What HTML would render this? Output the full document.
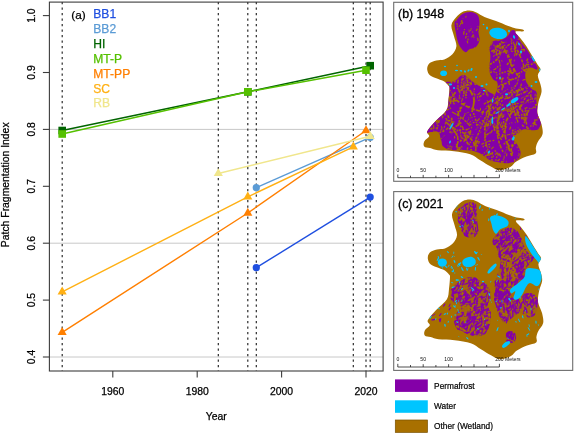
<!DOCTYPE html>
<html><head><meta charset="utf-8"><title>Figure</title><style>html,body{margin:0;padding:0;background:#fff}svg{display:block}</style></head><body>
<svg width="575" height="433" viewBox="0 0 575 433" font-family="'Liberation Sans', Arial, sans-serif">
<rect width="575" height="433" fill="#fff"/>
<line x1="49.4" x2="383.1" y1="357.0" y2="357.0" stroke="#c8c8c8" stroke-width="1"/>
<line x1="49.4" x2="383.1" y1="243.2" y2="243.2" stroke="#c8c8c8" stroke-width="1"/>
<line x1="49.4" x2="383.1" y1="129.4" y2="129.4" stroke="#c8c8c8" stroke-width="1"/>
<line x1="62.2" x2="62.2" y1="2.1" y2="371.0" stroke="#222" stroke-width="1.15" stroke-dasharray="2.2 3.3"/>
<line x1="218.3" x2="218.3" y1="2.1" y2="371.0" stroke="#222" stroke-width="1.15" stroke-dasharray="2.2 3.3"/>
<line x1="247.8" x2="247.8" y1="2.1" y2="371.0" stroke="#222" stroke-width="1.15" stroke-dasharray="2.2 3.3"/>
<line x1="256.3" x2="256.3" y1="2.1" y2="371.0" stroke="#222" stroke-width="1.15" stroke-dasharray="2.2 3.3"/>
<line x1="353.3" x2="353.3" y1="2.1" y2="371.0" stroke="#222" stroke-width="1.15" stroke-dasharray="2.2 3.3"/>
<line x1="366.0" x2="366.0" y1="2.1" y2="371.0" stroke="#222" stroke-width="1.15" stroke-dasharray="2.2 3.3"/>
<line x1="370.2" x2="370.2" y1="2.1" y2="371.0" stroke="#222" stroke-width="1.15" stroke-dasharray="2.2 3.3"/>
<polyline points="256.3,267.7 370.2,197.1" fill="none" stroke="#1f4fe0" stroke-width="1.4"/>
<circle cx="256.3" cy="267.7" r="3.6" fill="#1f4fe0"/>
<circle cx="370.2" cy="197.1" r="3.6" fill="#1f4fe0"/>
<polyline points="256.3,187.7 370.2,137.4" fill="none" stroke="#5b9bd5" stroke-width="1.4"/>
<circle cx="256.3" cy="187.7" r="3.6" fill="#5b9bd5"/>
<circle cx="370.2" cy="137.4" r="3.6" fill="#5b9bd5"/>
<polyline points="62.2,130.5 247.8,91.8 370.2,65.7" fill="none" stroke="#006400" stroke-width="1.4"/>
<rect x="58.4" y="126.7" width="7.6" height="7.6" fill="#006400"/>
<rect x="244.0" y="88.0" width="7.6" height="7.6" fill="#006400"/>
<rect x="366.4" y="61.9" width="7.6" height="7.6" fill="#006400"/>
<polyline points="62.2,134.0 247.8,91.8 366.0,70.2" fill="none" stroke="#55c000" stroke-width="1.4"/>
<rect x="58.4" y="130.2" width="7.6" height="7.6" fill="#55c000"/>
<rect x="244.0" y="88.0" width="7.6" height="7.6" fill="#55c000"/>
<rect x="362.2" y="66.4" width="7.6" height="7.6" fill="#55c000"/>
<polyline points="62.2,332.3 247.8,213.0 366.0,130.5" fill="none" stroke="#ff7f00" stroke-width="1.4"/>
<polygon points="62.2,327.0 66.7,335.0 57.6,335.0" fill="#ff7f00"/>
<polygon points="247.8,207.7 252.4,215.7 243.3,215.7" fill="#ff7f00"/>
<polygon points="366.0,125.2 370.6,133.2 361.4,133.2" fill="#ff7f00"/>
<polyline points="62.2,291.9 247.8,196.8 353.3,146.8" fill="none" stroke="#ffb014" stroke-width="1.4"/>
<polygon points="62.2,286.6 66.7,294.6 57.6,294.6" fill="#ffb014"/>
<polygon points="247.8,191.5 252.4,199.5 243.3,199.5" fill="#ffb014"/>
<polygon points="353.3,141.5 357.9,149.4 348.8,149.4" fill="#ffb014"/>
<polyline points="218.3,173.5 370.2,136.2" fill="none" stroke="#f0e68c" stroke-width="1.4"/>
<polygon points="218.3,168.2 222.9,176.1 213.7,176.1" fill="#f0e68c"/>
<polygon points="370.2,130.9 374.8,138.9 365.6,138.9" fill="#f0e68c"/>
<rect x="49.4" y="2.1" width="333.70000000000005" height="368.9" fill="none" stroke="#3c3c3c" stroke-width="1.1"/>
<line x1="42.9" x2="49.4" y1="357.0" y2="357.0" stroke="#3c3c3c" stroke-width="1.1"/>
<text transform="translate(34.7,357.0) rotate(-90)" text-anchor="middle" font-size="10.4" fill="#000" stroke="#000" stroke-width="0.25">0.4</text>
<line x1="42.9" x2="49.4" y1="300.1" y2="300.1" stroke="#3c3c3c" stroke-width="1.1"/>
<text transform="translate(34.7,300.1) rotate(-90)" text-anchor="middle" font-size="10.4" fill="#000" stroke="#000" stroke-width="0.25">0.5</text>
<line x1="42.9" x2="49.4" y1="243.2" y2="243.2" stroke="#3c3c3c" stroke-width="1.1"/>
<text transform="translate(34.7,243.2) rotate(-90)" text-anchor="middle" font-size="10.4" fill="#000" stroke="#000" stroke-width="0.25">0.6</text>
<line x1="42.9" x2="49.4" y1="186.3" y2="186.3" stroke="#3c3c3c" stroke-width="1.1"/>
<text transform="translate(34.7,186.3) rotate(-90)" text-anchor="middle" font-size="10.4" fill="#000" stroke="#000" stroke-width="0.25">0.7</text>
<line x1="42.9" x2="49.4" y1="129.4" y2="129.4" stroke="#3c3c3c" stroke-width="1.1"/>
<text transform="translate(34.7,129.4) rotate(-90)" text-anchor="middle" font-size="10.4" fill="#000" stroke="#000" stroke-width="0.25">0.8</text>
<line x1="42.9" x2="49.4" y1="72.5" y2="72.5" stroke="#3c3c3c" stroke-width="1.1"/>
<text transform="translate(34.7,72.5) rotate(-90)" text-anchor="middle" font-size="10.4" fill="#000" stroke="#000" stroke-width="0.25">0.9</text>
<line x1="42.9" x2="49.4" y1="15.6" y2="15.6" stroke="#3c3c3c" stroke-width="1.1"/>
<text transform="translate(34.7,15.6) rotate(-90)" text-anchor="middle" font-size="10.4" fill="#000" stroke="#000" stroke-width="0.25">1.0</text>
<line x1="112.8" x2="112.8" y1="371.0" y2="377.5" stroke="#3c3c3c" stroke-width="1.1"/>
<text x="112.8" y="394.7" text-anchor="middle" font-size="10.4" fill="#000" stroke="#000" stroke-width="0.25">1960</text>
<line x1="197.2" x2="197.2" y1="371.0" y2="377.5" stroke="#3c3c3c" stroke-width="1.1"/>
<text x="197.2" y="394.7" text-anchor="middle" font-size="10.4" fill="#000" stroke="#000" stroke-width="0.25">1980</text>
<line x1="281.6" x2="281.6" y1="371.0" y2="377.5" stroke="#3c3c3c" stroke-width="1.1"/>
<text x="281.6" y="394.7" text-anchor="middle" font-size="10.4" fill="#000" stroke="#000" stroke-width="0.25">2000</text>
<line x1="366.0" x2="366.0" y1="371.0" y2="377.5" stroke="#3c3c3c" stroke-width="1.1"/>
<text x="366.0" y="394.7" text-anchor="middle" font-size="10.4" fill="#000" stroke="#000" stroke-width="0.25">2020</text>
<text x="216.3" y="419.5" text-anchor="middle" font-size="10.4" fill="#000" stroke="#000" stroke-width="0.25">Year</text>
<text transform="translate(8.5,184.8) rotate(-90)" text-anchor="middle" font-size="10.4" fill="#000" stroke="#000" stroke-width="0.25">Patch Fragmentation Index</text>
<text x="71.3" y="18.8" font-size="11.8" fill="#000" stroke="#000" stroke-width="0.25">(a)</text>
<text x="93.3" y="18.3" font-size="12.1" fill="#1f4fe0" stroke="#1f4fe0" stroke-width="0.25">BB1</text>
<text x="93.3" y="33.1" font-size="12.1" fill="#5b9bd5" stroke="#5b9bd5" stroke-width="0.25">BB2</text>
<text x="93.3" y="48.0" font-size="12.1" fill="#006400" stroke="#006400" stroke-width="0.25">HI</text>
<text x="93.3" y="62.8" font-size="12.1" fill="#55c000" stroke="#55c000" stroke-width="0.25">MT-P</text>
<text x="93.3" y="77.7" font-size="12.1" fill="#ff7f00" stroke="#ff7f00" stroke-width="0.25">MT-PP</text>
<text x="93.3" y="92.5" font-size="12.1" fill="#ffb014" stroke="#ffb014" stroke-width="0.25">SC</text>
<text x="93.3" y="107.4" font-size="12.1" fill="#f0e68c" stroke="#f0e68c" stroke-width="0.25">RB</text>
<defs>
<path id="ol" d="M469.5,10.5C471.9,10.6 474.0,11.4 476.5,12.5C479.0,13.6 481.2,15.6 484.5,17.0C487.8,18.4 492.0,19.5 496.0,21.0C500.0,22.5 505.0,24.7 508.3,26.0C511.6,27.3 513.6,28.0 516.0,28.6C518.4,29.2 521.4,29.2 522.6,29.6C523.8,30.1 524.6,30.9 523.4,31.3C522.2,31.7 515.8,30.6 515.3,31.8C514.8,33.0 518.5,35.8 520.4,38.2C522.2,40.6 524.4,43.3 526.4,46.3C528.4,49.3 530.5,53.3 532.4,56.3C534.2,59.3 536.1,62.2 537.5,64.4C538.9,66.6 540.5,67.6 540.5,69.4C540.5,71.2 537.8,73.0 537.8,75.5C537.8,78.0 539.9,81.8 540.5,84.5C541.1,87.2 541.8,89.1 541.5,92.0C541.2,94.9 539.2,98.5 538.5,102.0C537.8,105.5 537.0,109.5 537.5,113.2C538.0,116.9 540.7,120.8 541.5,124.3C542.3,127.8 543.2,131.3 542.5,134.3C541.8,137.3 538.6,140.1 537.5,142.4C536.4,144.7 536.1,146.2 535.8,148.0C535.5,149.8 537.2,152.1 535.6,153.5C534.0,154.9 529.6,155.2 526.4,156.5C523.2,157.8 519.0,159.8 516.3,161.5C513.6,163.2 513.2,165.5 510.3,167.0C507.4,168.5 502.3,170.4 499.0,170.3C495.7,170.2 493.5,168.0 490.4,166.3C487.3,164.6 483.7,162.2 480.3,160.2C476.9,158.2 474.6,155.7 470.2,154.2C465.8,152.7 459.4,151.9 454.0,151.2C448.6,150.5 442.0,150.7 438.0,150.2C434.0,149.7 432.3,148.6 430.0,148.0C427.7,147.4 425.2,147.5 424.2,146.4C423.2,145.3 423.4,143.1 424.2,141.4C425.0,139.7 428.7,138.0 429.2,136.3C429.7,134.6 426.0,134.0 427.2,131.3C428.4,128.6 433.1,123.7 436.3,120.2C439.5,116.7 444.3,113.6 446.3,110.2C448.3,106.8 447.9,103.7 448.4,100.0C448.9,96.3 449.4,90.4 449.4,88.0C449.4,85.6 449.2,86.6 448.4,85.5C447.5,84.4 446.0,82.6 444.3,81.5C442.6,80.4 440.7,79.9 438.3,78.9C435.9,77.9 432.1,77.1 430.2,75.5C428.3,73.9 427.4,71.4 427.2,69.4C427.0,67.4 427.7,64.9 429.2,63.4C430.7,61.9 433.8,61.1 436.3,60.4C438.8,59.7 441.6,60.4 444.3,59.4C447.0,58.4 450.4,56.5 452.4,54.3C454.4,52.1 456.1,49.3 456.4,46.3C456.7,43.3 454.8,39.7 454.0,36.2C453.2,32.7 451.0,28.4 451.4,25.2C451.8,22.0 454.6,19.3 456.4,17.1C458.2,14.9 460.2,13.1 462.4,12.0C464.6,10.9 467.1,10.4 469.5,10.5Z"/>
<clipPath id="cpo"><use href="#ol"/></clipPath>
<clipPath id="cpbA"><path d="M457.4,19.1C458.7,17.6 460.2,15.3 462.4,14.1C464.6,12.9 468.0,11.9 470.5,12.1C473.0,12.3 476.0,13.4 477.5,15.1C479.0,16.8 479.3,19.2 479.5,22.1C479.7,25.0 478.5,29.2 478.5,32.2C478.5,35.2 480.0,37.7 479.5,40.2C479.0,42.7 477.2,45.8 475.5,47.3C473.8,48.8 471.2,48.5 469.5,49.3C467.8,50.1 467.0,52.6 465.5,52.3C464.0,52.0 461.8,49.3 460.4,47.3C459.0,45.3 458.2,43.1 457.4,40.2C456.6,37.4 455.9,33.0 455.4,30.2C454.9,27.3 454.1,25.0 454.4,23.1C454.7,21.2 456.1,20.6 457.4,19.1Z"/></clipPath>
<clipPath id="cpbM"><path d="M446.2,82.2C447.5,80.4 449.9,83.1 454.2,81.2C458.5,79.3 458.5,76.0 462.3,75.2C466.1,74.4 464.6,75.8 468.3,78.2C472.0,80.6 472.0,81.5 476.3,84.2C480.6,86.9 480.4,85.9 484.4,88.3C488.4,90.7 488.4,92.0 491.4,93.3C494.4,94.6 493.9,96.0 495.5,93.3C497.1,90.6 498.3,87.2 497.5,83.2C496.7,79.2 494.6,82.0 492.4,78.2C490.2,74.4 489.9,74.8 489.4,69.1C488.9,63.4 490.4,62.4 490.4,57.0C490.4,51.6 489.5,51.9 489.4,49.0C489.3,46.1 489.2,48.4 490.2,46.3C491.2,44.2 490.5,42.8 493.2,41.2C495.9,39.6 496.4,41.5 500.2,40.2C504.0,38.9 504.1,38.9 507.3,36.2C510.5,33.5 509.7,30.8 512.3,30.2C514.9,29.6 514.8,31.0 517.0,34.0C519.2,37.0 518.0,37.5 520.5,41.5C523.0,45.5 523.6,44.9 526.5,49.0C529.4,53.1 529.1,53.1 531.5,57.0C533.9,60.9 534.0,60.2 535.5,63.5C537.0,66.8 538.4,68.4 537.0,69.4C535.6,70.4 533.2,67.1 530.4,67.4C527.6,67.7 527.7,67.7 526.4,70.4C525.1,73.1 525.1,73.9 525.4,77.5C525.7,81.1 525.7,80.9 527.5,84.0C529.3,87.1 529.6,86.7 532.0,89.0C534.4,91.3 535.4,89.6 536.5,92.5C537.6,95.4 536.0,96.3 536.3,100.0C536.6,103.7 537.2,102.7 537.5,106.2C537.8,109.7 536.7,109.5 537.5,113.2C538.3,116.9 540.0,116.4 540.5,120.2C541.0,124.0 541.1,124.6 539.5,127.3C537.9,130.0 538.4,129.8 534.4,130.3C530.4,130.8 528.7,128.5 524.4,129.3C520.1,130.1 521.3,130.9 518.3,133.3C515.3,135.7 513.3,134.8 513.3,138.3C513.3,141.8 516.4,142.1 518.3,146.4C520.2,150.7 520.9,150.6 520.4,154.4C519.9,158.2 518.7,158.3 516.3,160.5C513.9,162.7 513.9,161.8 511.3,162.5C508.7,163.2 509.9,163.4 506.5,163.3C503.1,163.2 502.7,163.1 498.4,162.3C494.1,161.5 494.2,161.8 490.4,160.2C486.6,158.6 487.8,158.3 484.3,156.2C480.8,154.1 482.1,153.8 477.3,152.2C472.5,150.6 472.4,150.7 466.2,150.2C460.0,149.7 460.0,151.0 454.1,150.2C448.2,149.4 447.6,149.9 444.1,147.2C440.6,144.5 442.7,144.1 441.1,140.1C439.5,136.1 440.7,134.2 438.0,132.1C435.3,130.0 433.9,132.3 431.0,132.1C428.1,131.9 425.8,134.5 427.2,131.3C428.6,128.1 431.2,125.8 436.3,120.2C441.4,114.6 443.1,115.6 446.3,110.2C449.5,104.8 447.6,105.9 448.4,100.0C449.2,94.1 450.0,92.7 449.4,88.0C448.8,83.3 444.9,84.0 446.2,82.2Z"/></clipPath>
<clipPath id="cpoc"><path d="M469.5,10.5C471.9,10.6 474.0,11.4 476.5,12.5C479.0,13.6 481.2,15.6 484.5,17.0C487.8,18.4 492.0,19.5 496.0,21.0C500.0,22.5 505.0,24.7 508.3,26.0C511.6,27.3 513.6,28.0 516.0,28.6C518.4,29.2 521.4,29.2 522.6,29.6C523.8,30.1 524.6,30.9 523.4,31.3C522.2,31.7 515.8,30.6 515.3,31.8C514.8,33.0 518.5,35.8 520.4,38.2C522.2,40.6 524.4,43.3 526.4,46.3C528.4,49.3 530.5,53.3 532.4,56.3C534.2,59.3 536.1,62.2 537.5,64.4C538.9,66.6 540.5,67.6 540.5,69.4C540.5,71.2 537.8,73.0 537.8,75.5C537.8,78.0 539.9,81.8 540.5,84.5C541.1,87.2 541.8,89.1 541.5,92.0C541.2,94.9 539.2,98.5 538.5,102.0C537.8,105.5 537.0,109.5 537.5,113.2C538.0,116.9 540.7,120.8 541.5,124.3C542.3,127.8 543.2,131.3 542.5,134.3C541.8,137.3 538.6,140.1 537.5,142.4C536.4,144.7 536.1,146.2 535.8,148.0C535.5,149.8 537.2,152.1 535.6,153.5C534.0,154.9 529.6,155.2 526.4,156.5C523.2,157.8 519.0,159.8 516.3,161.5C513.6,163.2 513.2,165.5 510.3,167.0C507.4,168.5 502.3,170.4 499.0,170.3C495.7,170.2 493.5,168.0 490.4,166.3C487.3,164.6 483.7,162.2 480.3,160.2C476.9,158.2 474.6,155.7 470.2,154.2C465.8,152.7 459.4,151.9 454.0,151.2C448.6,150.5 442.0,150.7 438.0,150.2C434.0,149.7 432.3,148.6 430.0,148.0C427.7,147.4 425.2,147.5 424.2,146.4C423.2,145.3 423.4,143.1 424.2,141.4C425.0,139.7 428.7,138.0 429.2,136.3C429.7,134.6 426.0,134.0 427.2,131.3C428.4,128.6 433.1,123.7 436.3,120.2C439.5,116.7 444.3,113.6 446.3,110.2C448.3,106.8 447.9,103.7 448.4,100.0C448.9,96.3 449.4,90.4 449.4,88.0C449.4,85.6 449.2,86.6 448.4,85.5C447.5,84.4 446.0,82.6 444.3,81.5C442.6,80.4 440.7,79.9 438.3,78.9C435.9,77.9 432.1,77.1 430.2,75.5C428.3,73.9 427.4,71.4 427.2,69.4C427.0,67.4 427.7,64.9 429.2,63.4C430.7,61.9 433.8,61.1 436.3,60.4C438.8,59.7 441.6,60.4 444.3,59.4C447.0,58.4 450.4,56.5 452.4,54.3C454.4,52.1 456.1,49.3 456.4,46.3C456.7,43.3 454.8,39.7 454.0,36.2C453.2,32.7 451.0,28.4 451.4,25.2C451.8,22.0 454.6,19.3 456.4,17.1C458.2,14.9 460.2,13.1 462.4,12.0C464.6,10.9 467.1,10.4 469.5,10.5Z" transform="translate(0.6,189)"/></clipPath>
</defs>
<rect x="393.7" y="2.3" width="179" height="179" fill="#fff" stroke="#6e6e6e" stroke-width="1.1"/>
<use href="#ol" fill="#A87000"/>
<g clip-path="url(#cpo)">
<path d="M457.4,19.1C458.7,17.6 460.2,15.3 462.4,14.1C464.6,12.9 468.0,11.9 470.5,12.1C473.0,12.3 476.0,13.4 477.5,15.1C479.0,16.8 479.3,19.2 479.5,22.1C479.7,25.0 478.5,29.2 478.5,32.2C478.5,35.2 480.0,37.7 479.5,40.2C479.0,42.7 477.2,45.8 475.5,47.3C473.8,48.8 471.2,48.5 469.5,49.3C467.8,50.1 467.0,52.6 465.5,52.3C464.0,52.0 461.8,49.3 460.4,47.3C459.0,45.3 458.2,43.1 457.4,40.2C456.6,37.4 455.9,33.0 455.4,30.2C454.9,27.3 454.1,25.0 454.4,23.1C454.7,21.2 456.1,20.6 457.4,19.1Z" fill="#8400A8"/>
<path d="M446.2,82.2C447.5,80.4 449.9,83.1 454.2,81.2C458.5,79.3 458.5,76.0 462.3,75.2C466.1,74.4 464.6,75.8 468.3,78.2C472.0,80.6 472.0,81.5 476.3,84.2C480.6,86.9 480.4,85.9 484.4,88.3C488.4,90.7 488.4,92.0 491.4,93.3C494.4,94.6 493.9,96.0 495.5,93.3C497.1,90.6 498.3,87.2 497.5,83.2C496.7,79.2 494.6,82.0 492.4,78.2C490.2,74.4 489.9,74.8 489.4,69.1C488.9,63.4 490.4,62.4 490.4,57.0C490.4,51.6 489.5,51.9 489.4,49.0C489.3,46.1 489.2,48.4 490.2,46.3C491.2,44.2 490.5,42.8 493.2,41.2C495.9,39.6 496.4,41.5 500.2,40.2C504.0,38.9 504.1,38.9 507.3,36.2C510.5,33.5 509.7,30.8 512.3,30.2C514.9,29.6 514.8,31.0 517.0,34.0C519.2,37.0 518.0,37.5 520.5,41.5C523.0,45.5 523.6,44.9 526.5,49.0C529.4,53.1 529.1,53.1 531.5,57.0C533.9,60.9 534.0,60.2 535.5,63.5C537.0,66.8 538.4,68.4 537.0,69.4C535.6,70.4 533.2,67.1 530.4,67.4C527.6,67.7 527.7,67.7 526.4,70.4C525.1,73.1 525.1,73.9 525.4,77.5C525.7,81.1 525.7,80.9 527.5,84.0C529.3,87.1 529.6,86.7 532.0,89.0C534.4,91.3 535.4,89.6 536.5,92.5C537.6,95.4 536.0,96.3 536.3,100.0C536.6,103.7 537.2,102.7 537.5,106.2C537.8,109.7 536.7,109.5 537.5,113.2C538.3,116.9 540.0,116.4 540.5,120.2C541.0,124.0 541.1,124.6 539.5,127.3C537.9,130.0 538.4,129.8 534.4,130.3C530.4,130.8 528.7,128.5 524.4,129.3C520.1,130.1 521.3,130.9 518.3,133.3C515.3,135.7 513.3,134.8 513.3,138.3C513.3,141.8 516.4,142.1 518.3,146.4C520.2,150.7 520.9,150.6 520.4,154.4C519.9,158.2 518.7,158.3 516.3,160.5C513.9,162.7 513.9,161.8 511.3,162.5C508.7,163.2 509.9,163.4 506.5,163.3C503.1,163.2 502.7,163.1 498.4,162.3C494.1,161.5 494.2,161.8 490.4,160.2C486.6,158.6 487.8,158.3 484.3,156.2C480.8,154.1 482.1,153.8 477.3,152.2C472.5,150.6 472.4,150.7 466.2,150.2C460.0,149.7 460.0,151.0 454.1,150.2C448.2,149.4 447.6,149.9 444.1,147.2C440.6,144.5 442.7,144.1 441.1,140.1C439.5,136.1 440.7,134.2 438.0,132.1C435.3,130.0 433.9,132.3 431.0,132.1C428.1,131.9 425.8,134.5 427.2,131.3C428.6,128.1 431.2,125.8 436.3,120.2C441.4,114.6 443.1,115.6 446.3,110.2C449.5,104.8 447.6,105.9 448.4,100.0C449.2,94.1 450.0,92.7 449.4,88.0C448.8,83.3 444.9,84.0 446.2,82.2Z" fill="#8400A8"/>
<g clip-path="url(#cpbA)">
<g fill="none" stroke="#A87000"><path d="M465.6,38.5Q466.3,35.3 467.0,32.0" stroke-width="1.20" stroke-dasharray="2.8 0.9 1.7 1.5"/><path d="M457.5,26.7Q457.1,25.6 457.2,24.3" stroke-width="1.07" stroke-dasharray="1.3 1.8 2.4 1.6"/><path d="M457.6,16.4Q459.5,15.0 460.3,12.7" stroke-width="1.24" stroke-dasharray="1.9 0.7 1.6 1.3"/><path d="M468.0,40.6Q468.1,38.3 468.0,36.1" stroke-width="1.14" stroke-dasharray="2.0 1.8 2.5 1.8"/><path d="M461.9,24.1Q462.5,22.5 463.9,21.3" stroke-width="1.24" stroke-dasharray="2.3 1.6 1.5 1.9"/><path d="M454.3,25.2Q453.5,21.6 455.7,18.8" stroke-width="0.82" stroke-dasharray="2.3 0.8 1.9 1.7"/><path d="M457.5,30.0Q458.5,26.5 456.9,23.2" stroke-width="0.76" stroke-dasharray="1.9 0.8 0.9 1.7"/><path d="M469.1,32.5Q469.5,31.0 468.9,29.5" stroke-width="0.82" stroke-dasharray="3.0 0.8 1.5 1.0"/><path d="M479.7,46.2Q479.8,44.4 478.9,42.8" stroke-width="1.34" stroke-dasharray="2.3 1.6 1.9 0.8"/><path d="M459.3,26.6Q460.9,24.0 461.3,21.1" stroke-width="1.06" stroke-dasharray="1.4 0.8 1.8 1.0"/><path d="M463.6,34.6Q464.0,31.2 464.9,27.9" stroke-width="1.22" stroke-dasharray="3.6 0.9 1.1 1.9"/><path d="M462.0,23.9Q462.1,21.0 460.4,18.5" stroke-width="0.70" stroke-dasharray="3.9 1.7 1.8 1.2"/><path d="M456.0,52.2Q456.4,50.6 455.9,49.0" stroke-width="1.15" stroke-dasharray="3.5 1.4 1.3 0.9"/><path d="M457.2,25.0Q456.5,22.7 456.3,20.3" stroke-width="0.82" stroke-dasharray="2.0 1.7 1.1 0.7"/><path d="M465.7,17.7Q466.0,16.3 466.6,14.9" stroke-width="1.10" stroke-dasharray="1.6 1.1 2.3 2.0"/><path d="M471.5,37.3Q472.8,36.6 473.1,35.1" stroke-width="1.09" stroke-dasharray="3.7 1.5 2.4 0.7"/><path d="M467.7,43.4Q467.8,41.5 466.4,40.1" stroke-width="1.14" stroke-dasharray="2.7 1.5 2.3 1.7"/><path d="M474.9,50.6Q474.1,48.8 474.8,46.9" stroke-width="1.04" stroke-dasharray="3.6 1.2 2.1 1.8"/><path d="M470.5,31.0Q471.7,28.6 470.8,26.1" stroke-width="0.91" stroke-dasharray="3.0 1.8 2.3 1.6"/><path d="M473.8,38.1Q474.2,35.9 473.0,34.0" stroke-width="0.80" stroke-dasharray="3.3 0.7 1.8 1.3"/><path d="M473.1,35.3Q473.1,32.7 471.8,30.4" stroke-width="0.75" stroke-dasharray="1.2 1.0 2.0 1.0"/><path d="M478.1,41.1Q478.0,39.0 477.2,37.0" stroke-width="1.29" stroke-dasharray="3.1 0.9 1.5 1.7"/><path d="M476.1,30.9Q477.8,28.9 477.9,26.3" stroke-width="1.31" stroke-dasharray="2.6 1.6 2.2 1.6"/><path d="M461.1,22.4Q462.5,20.7 462.8,18.5" stroke-width="1.23" stroke-dasharray="2.4 1.4 1.6 1.1"/><path d="M478.8,32.1Q479.2,30.9 480.3,30.3" stroke-width="1.20" stroke-dasharray="1.3 1.5 1.8 1.1"/><path d="M454.1,20.8Q454.9,18.7 456.8,17.5" stroke-width="0.95" stroke-dasharray="1.9 0.9 0.9 1.5"/></g>
</g>
<g clip-path="url(#cpbM)">
<g fill="none" stroke="#A87000"><path d="M501.8,128.0Q498.7,122.2 497.8,115.7" stroke-width="1.24" stroke-dasharray="1.8 1.2 1.1 0.7"/><path d="M507.0,64.9Q508.9,61.9 511.8,59.8" stroke-width="1.53" stroke-dasharray="2.7 1.4 2.1 1.2"/><path d="M530.6,58.0Q533.9,51.2 532.0,43.8" stroke-width="1.33" stroke-dasharray="2.5 1.4 2.3 1.2"/><path d="M524.5,145.7Q527.3,139.0 532.0,133.5" stroke-width="1.47" stroke-dasharray="1.8 1.5 2.2 1.5"/><path d="M454.8,159.5Q452.1,152.6 449.8,145.5" stroke-width="1.13" stroke-dasharray="3.4 1.1 2.3 1.8"/><path d="M437.3,100.1Q437.5,95.1 437.5,90.1" stroke-width="0.96" stroke-dasharray="1.3 1.6 0.9 1.7"/><path d="M463.7,139.7Q466.2,138.4 468.7,137.2" stroke-width="1.26" stroke-dasharray="3.2 1.6 2.0 1.9"/><path d="M534.8,53.7Q536.8,51.0 537.6,47.8" stroke-width="1.32" stroke-dasharray="3.2 1.4 1.7 1.8"/><path d="M464.9,94.2Q465.4,87.2 462.1,81.1" stroke-width="0.99" stroke-dasharray="3.6 1.8 1.7 1.4"/><path d="M483.9,104.3Q488.5,100.5 494.2,101.5" stroke-width="1.26" stroke-dasharray="2.6 1.1 2.2 1.4"/><path d="M503.8,52.2Q505.0,46.9 509.7,44.3" stroke-width="1.20" stroke-dasharray="3.8 1.0 1.6 0.9"/><path d="M517.7,155.8Q522.0,153.6 524.3,149.4" stroke-width="0.83" stroke-dasharray="2.9 1.7 1.0 1.7"/><path d="M446.0,72.4Q450.7,69.0 454.3,64.4" stroke-width="1.27" stroke-dasharray="2.9 0.8 2.0 0.9"/><path d="M453.8,68.8Q457.1,65.1 459.3,60.7" stroke-width="1.39" stroke-dasharray="2.4 1.3 1.1 1.0"/><path d="M498.9,112.6Q498.5,105.5 502.7,99.8" stroke-width="1.10" stroke-dasharray="1.9 1.5 2.2 1.9"/><path d="M465.1,158.3Q462.8,155.8 462.7,152.4" stroke-width="0.89" stroke-dasharray="1.6 1.0 2.0 1.0"/><path d="M517.1,95.3Q523.1,93.3 528.6,90.1" stroke-width="1.64" stroke-dasharray="3.1 0.7 1.1 1.6"/><path d="M538.2,59.2Q538.4,54.4 538.6,49.6" stroke-width="0.84" stroke-dasharray="3.1 0.9 0.9 0.8"/><path d="M486.3,106.7Q491.6,105.8 495.5,102.1" stroke-width="0.89" stroke-dasharray="1.8 1.6 2.5 1.9"/><path d="M434.9,163.5Q435.8,159.0 435.2,154.4" stroke-width="0.82" stroke-dasharray="2.5 1.3 1.5 1.5"/><path d="M506.3,148.1Q507.3,145.1 509.5,143.0" stroke-width="0.82" stroke-dasharray="2.3 0.9 1.1 1.4"/><path d="M530.6,146.0Q529.1,140.3 529.0,134.4" stroke-width="1.55" stroke-dasharray="2.3 1.4 1.7 2.0"/><path d="M457.4,160.0Q455.5,153.9 457.5,147.8" stroke-width="1.51" stroke-dasharray="2.3 1.7 2.3 1.6"/><path d="M509.6,92.7Q515.5,91.6 520.9,88.8" stroke-width="1.38" stroke-dasharray="2.5 0.7 1.4 1.5"/><path d="M450.5,162.1Q453.8,157.5 458.4,154.0" stroke-width="1.40" stroke-dasharray="2.8 1.3 1.5 2.0"/><path d="M500.8,137.0Q507.7,134.4 515.1,133.4" stroke-width="0.98" stroke-dasharray="3.3 1.0 1.5 0.8"/><path d="M471.6,55.6Q470.7,52.3 470.1,49.0" stroke-width="1.39" stroke-dasharray="2.6 1.8 1.8 2.0"/><path d="M520.1,54.8Q522.7,49.6 520.5,44.2" stroke-width="1.26" stroke-dasharray="3.8 0.9 1.6 0.9"/><path d="M493.4,53.1Q497.5,47.2 501.9,41.5" stroke-width="1.32" stroke-dasharray="2.9 1.1 1.3 1.6"/><path d="M456.8,130.4Q460.5,130.5 463.9,128.7" stroke-width="1.63" stroke-dasharray="1.3 0.9 2.1 1.2"/><path d="M515.4,53.4Q516.4,45.4 511.2,39.1" stroke-width="1.03" stroke-dasharray="3.7 1.2 1.6 2.0"/><path d="M484.6,162.3Q485.2,155.7 490.8,152.0" stroke-width="1.22" stroke-dasharray="3.5 1.4 1.0 1.5"/><path d="M446.8,48.5Q451.3,46.8 455.7,44.5" stroke-width="1.19" stroke-dasharray="3.1 1.2 1.2 1.5"/><path d="M518.9,113.5Q515.0,106.9 514.5,99.2" stroke-width="1.38" stroke-dasharray="1.9 0.8 2.3 1.7"/><path d="M466.8,79.3Q468.5,73.7 471.1,68.6" stroke-width="1.71" stroke-dasharray="3.0 1.5 1.1 1.0"/><path d="M530.3,150.5Q532.5,150.3 534.5,149.2" stroke-width="0.87" stroke-dasharray="2.4 1.4 1.0 1.4"/><path d="M436.6,129.4Q438.5,124.7 439.1,119.7" stroke-width="1.58" stroke-dasharray="2.5 0.9 1.4 1.7"/><path d="M434.7,61.2Q434.8,54.5 438.2,48.8" stroke-width="1.14" stroke-dasharray="1.8 1.2 1.2 1.8"/><path d="M501.0,167.1Q501.7,163.3 504.0,160.2" stroke-width="1.61" stroke-dasharray="3.8 1.2 1.4 0.8"/><path d="M434.4,54.8Q436.1,49.9 439.5,45.9" stroke-width="1.41" stroke-dasharray="2.0 1.6 0.9 1.0"/><path d="M436.4,83.9Q438.6,78.2 438.2,72.1" stroke-width="0.91" stroke-dasharray="1.6 1.1 2.0 1.2"/><path d="M510.8,117.9Q506.1,112.0 506.9,104.4" stroke-width="1.17" stroke-dasharray="2.4 1.6 1.3 1.1"/><path d="M532.3,154.3Q534.9,152.1 536.8,149.3" stroke-width="1.32" stroke-dasharray="2.2 1.1 1.5 1.0"/><path d="M516.4,113.7Q520.9,108.4 521.3,101.4" stroke-width="1.28" stroke-dasharray="3.3 1.7 1.3 0.7"/><path d="M488.4,118.1Q487.9,110.4 491.7,103.8" stroke-width="0.88" stroke-dasharray="1.4 1.3 2.1 0.8"/><path d="M511.4,154.8Q512.9,152.6 512.6,150.0" stroke-width="1.51" stroke-dasharray="3.3 1.4 1.2 1.0"/><path d="M484.5,138.6Q486.1,134.2 490.4,132.6" stroke-width="1.46" stroke-dasharray="3.1 1.2 1.7 1.6"/><path d="M531.0,97.7Q530.0,90.9 533.6,84.9" stroke-width="1.39" stroke-dasharray="3.5 1.6 2.3 1.9"/><path d="M484.0,134.0Q488.1,129.1 491.5,123.6" stroke-width="0.96" stroke-dasharray="1.6 1.5 2.5 1.2"/><path d="M452.5,96.5Q452.8,92.6 450.1,89.7" stroke-width="0.97" stroke-dasharray="2.1 0.8 1.9 1.7"/><path d="M436.3,102.4Q437.5,96.8 433.9,92.3" stroke-width="1.46" stroke-dasharray="1.5 0.9 1.2 1.0"/><path d="M493.5,69.9Q496.4,68.8 498.1,66.1" stroke-width="1.25" stroke-dasharray="3.3 1.0 1.7 1.8"/><path d="M452.8,156.0Q457.5,150.7 462.6,145.9" stroke-width="1.68" stroke-dasharray="3.9 1.2 1.2 0.8"/><path d="M517.2,92.5Q520.4,88.6 521.5,83.7" stroke-width="1.24" stroke-dasharray="4.0 1.4 1.2 0.7"/><path d="M468.6,145.2Q472.3,140.2 472.1,133.9" stroke-width="1.28" stroke-dasharray="1.6 1.1 1.2 1.8"/><path d="M499.2,167.3Q501.7,164.6 502.1,161.0" stroke-width="1.56" stroke-dasharray="3.4 0.7 2.2 1.8"/><path d="M431.9,75.9Q437.4,73.8 442.9,71.5" stroke-width="1.08" stroke-dasharray="2.5 1.8 1.8 1.8"/><path d="M511.4,94.7Q517.2,90.0 524.6,89.6" stroke-width="1.57" stroke-dasharray="1.8 1.3 1.7 0.9"/><path d="M461.7,80.5Q463.6,78.9 465.3,77.2" stroke-width="1.17" stroke-dasharray="3.2 1.1 2.0 0.8"/><path d="M479.2,167.3Q483.8,161.6 482.1,154.5" stroke-width="1.23" stroke-dasharray="2.3 1.5 1.2 1.4"/><path d="M423.8,167.4Q428.8,163.3 434.6,160.5" stroke-width="1.12" stroke-dasharray="2.0 1.1 1.7 1.1"/><path d="M469.8,125.1Q472.3,122.7 475.6,121.5" stroke-width="1.11" stroke-dasharray="2.1 1.7 1.8 1.6"/><path d="M519.7,52.5Q522.1,51.1 524.8,50.5" stroke-width="1.35" stroke-dasharray="3.2 0.9 1.5 1.8"/><path d="M435.7,69.5Q438.4,68.6 440.9,67.1" stroke-width="1.40" stroke-dasharray="1.4 1.7 1.5 1.4"/><path d="M512.5,145.6Q515.7,142.9 518.3,139.7" stroke-width="1.53" stroke-dasharray="1.2 1.1 2.0 2.0"/><path d="M501.8,117.6Q503.5,116.3 504.7,114.6" stroke-width="1.53" stroke-dasharray="3.0 0.8 1.4 1.4"/><path d="M522.0,119.3Q520.9,116.4 522.1,113.6" stroke-width="1.46" stroke-dasharray="2.7 1.1 1.7 0.9"/><path d="M541.1,110.4Q542.3,104.3 539.9,98.6" stroke-width="1.03" stroke-dasharray="3.8 1.4 1.1 0.8"/><path d="M494.7,130.8Q494.2,127.0 492.7,123.5" stroke-width="1.64" stroke-dasharray="2.5 0.8 2.5 0.9"/><path d="M486.0,113.3Q488.7,108.5 493.9,106.9" stroke-width="1.56" stroke-dasharray="4.0 1.6 1.8 0.9"/><path d="M459.7,155.2Q459.9,151.7 462.1,149.0" stroke-width="0.97" stroke-dasharray="1.7 1.3 0.9 0.7"/><path d="M536.4,161.2Q539.9,156.7 544.6,153.6" stroke-width="0.82" stroke-dasharray="3.3 1.1 1.8 1.7"/><path d="M449.0,100.7Q450.6,98.4 452.5,96.3" stroke-width="1.11" stroke-dasharray="1.7 1.3 1.2 1.4"/><path d="M496.1,47.3Q500.0,42.4 506.2,42.2" stroke-width="1.44" stroke-dasharray="2.9 1.2 1.5 1.5"/><path d="M516.1,138.3Q512.9,134.5 512.7,129.6" stroke-width="1.64" stroke-dasharray="3.6 1.1 1.5 1.4"/><path d="M488.9,109.9Q488.7,105.5 487.0,101.4" stroke-width="1.35" stroke-dasharray="1.4 1.5 2.3 1.7"/><path d="M508.7,79.8Q514.4,80.0 518.7,76.4" stroke-width="1.44" stroke-dasharray="2.5 1.3 1.5 0.8"/><path d="M485.7,72.8Q488.8,70.5 490.3,67.0" stroke-width="1.60" stroke-dasharray="1.4 1.7 2.4 1.6"/><path d="M475.9,143.9Q475.8,140.6 476.2,137.4" stroke-width="1.30" stroke-dasharray="3.7 0.8 2.1 0.9"/><path d="M533.9,42.3Q536.8,40.5 538.9,37.8" stroke-width="1.13" stroke-dasharray="1.4 1.7 2.2 1.2"/><path d="M495.2,47.9Q495.2,45.7 494.3,43.6" stroke-width="0.99" stroke-dasharray="2.6 1.7 2.5 1.3"/><path d="M455.8,159.0Q460.4,153.3 467.6,151.7" stroke-width="1.72" stroke-dasharray="2.2 1.2 1.1 1.8"/><path d="M451.6,122.1Q452.4,118.8 450.5,116.0" stroke-width="1.61" stroke-dasharray="1.5 1.5 1.3 1.9"/><path d="M510.9,62.5Q509.6,56.8 507.7,51.3" stroke-width="0.99" stroke-dasharray="1.4 0.9 1.3 1.6"/><path d="M448.7,75.1Q449.4,69.4 448.5,63.8" stroke-width="1.08" stroke-dasharray="3.1 1.7 1.8 1.0"/><path d="M532.8,126.8Q535.1,123.7 534.5,120.0" stroke-width="0.85" stroke-dasharray="4.0 1.2 1.7 1.4"/><path d="M496.5,78.9Q497.8,75.5 496.2,72.2" stroke-width="1.31" stroke-dasharray="2.0 1.5 1.2 1.1"/><path d="M442.1,154.1Q449.3,152.4 456.4,150.2" stroke-width="0.97" stroke-dasharray="3.3 1.1 2.4 1.3"/><path d="M490.5,124.5Q490.3,120.4 492.2,116.7" stroke-width="1.28" stroke-dasharray="2.6 1.3 2.2 1.6"/><path d="M530.9,64.7Q536.1,61.1 542.0,58.7" stroke-width="1.53" stroke-dasharray="1.9 1.2 2.1 1.7"/><path d="M453.8,104.2Q454.9,101.1 456.0,98.1" stroke-width="1.61" stroke-dasharray="1.3 1.4 2.0 1.4"/><path d="M447.5,60.8Q448.6,59.0 449.5,57.1" stroke-width="1.64" stroke-dasharray="2.4 1.0 2.2 0.8"/><path d="M487.7,111.6Q494.2,109.7 498.0,104.2" stroke-width="1.29" stroke-dasharray="2.1 0.7 1.3 1.5"/><path d="M458.4,116.1Q459.0,113.5 458.0,111.1" stroke-width="1.53" stroke-dasharray="1.9 0.9 2.0 1.8"/><path d="M431.6,93.5Q433.9,89.8 438.3,89.1" stroke-width="0.94" stroke-dasharray="1.3 1.2 2.1 2.0"/><path d="M478.1,134.4Q479.4,132.4 481.7,131.8" stroke-width="0.88" stroke-dasharray="1.6 1.1 1.3 1.3"/><path d="M431.4,170.7Q433.6,164.6 432.4,158.3" stroke-width="1.66" stroke-dasharray="1.9 1.3 1.2 1.3"/><path d="M467.3,89.2Q472.8,83.1 471.6,75.1" stroke-width="1.44" stroke-dasharray="2.3 1.4 0.9 1.1"/><path d="M522.9,119.7Q527.2,114.2 530.2,108.0" stroke-width="1.12" stroke-dasharray="3.6 1.1 2.1 1.0"/><path d="M446.5,110.2Q449.4,109.4 451.4,107.1" stroke-width="1.43" stroke-dasharray="2.5 1.0 1.6 2.0"/><path d="M522.5,66.9Q526.1,64.8 530.2,64.2" stroke-width="1.05" stroke-dasharray="2.2 1.0 0.8 0.9"/><path d="M468.2,159.2Q473.3,156.1 477.4,151.7" stroke-width="1.47" stroke-dasharray="1.6 1.7 1.4 1.7"/><path d="M529.0,45.5Q532.6,43.6 533.8,39.6" stroke-width="0.86" stroke-dasharray="3.7 1.1 2.1 1.4"/><path d="M470.9,70.8Q472.8,69.6 474.9,68.8" stroke-width="0.93" stroke-dasharray="1.3 1.0 1.5 1.4"/><path d="M507.4,78.4Q510.6,73.0 509.7,66.7" stroke-width="1.16" stroke-dasharray="1.8 1.0 2.0 1.2"/><path d="M524.2,70.9Q527.5,69.0 529.2,65.6" stroke-width="1.55" stroke-dasharray="1.3 0.7 1.9 1.4"/><path d="M540.6,82.8Q540.8,76.9 537.9,71.7" stroke-width="1.02" stroke-dasharray="3.1 1.4 2.4 1.8"/><path d="M497.4,54.6Q501.6,52.4 502.8,47.8" stroke-width="0.95" stroke-dasharray="2.3 1.1 1.6 1.1"/><path d="M473.3,102.3Q474.6,99.6 474.5,96.5" stroke-width="1.34" stroke-dasharray="1.5 1.1 1.5 0.9"/><path d="M502.3,110.6Q508.1,109.8 513.6,107.7" stroke-width="1.26" stroke-dasharray="2.2 0.8 1.5 0.8"/><path d="M491.8,100.9Q495.9,100.1 497.8,96.3" stroke-width="1.42" stroke-dasharray="2.2 1.7 1.8 1.0"/><path d="M450.8,103.8Q449.9,98.4 447.6,93.5" stroke-width="1.38" stroke-dasharray="2.8 1.7 2.1 1.5"/><path d="M475.2,95.5Q473.5,92.1 474.5,88.4" stroke-width="1.27" stroke-dasharray="2.3 1.7 0.9 0.9"/><path d="M456.6,88.4Q464.2,87.1 469.8,81.7" stroke-width="1.31" stroke-dasharray="1.8 1.4 1.2 0.7"/><path d="M471.8,74.5Q472.7,69.9 474.0,65.3" stroke-width="1.11" stroke-dasharray="2.9 1.3 2.2 2.0"/><path d="M467.1,154.5Q466.8,150.7 467.9,147.1" stroke-width="1.38" stroke-dasharray="3.1 1.8 2.2 0.9"/><path d="M480.9,113.1Q483.3,109.7 487.0,107.9" stroke-width="0.97" stroke-dasharray="2.7 1.0 1.2 1.1"/><path d="M484.3,56.5Q486.9,56.6 488.8,55.0" stroke-width="1.25" stroke-dasharray="3.2 0.8 1.6 1.7"/><path d="M440.1,150.3Q447.0,149.9 453.0,146.3" stroke-width="1.04" stroke-dasharray="2.6 1.6 1.5 1.6"/><path d="M509.5,84.7Q508.3,80.8 509.7,77.0" stroke-width="1.38" stroke-dasharray="3.5 1.3 1.5 1.6"/><path d="M521.0,142.2Q522.4,139.9 524.5,138.1" stroke-width="1.67" stroke-dasharray="1.8 0.9 0.8 1.5"/><path d="M535.2,61.4Q538.0,56.3 542.0,52.0" stroke-width="1.46" stroke-dasharray="2.3 1.7 2.5 0.8"/><path d="M441.2,48.9Q439.7,45.1 441.8,41.7" stroke-width="1.25" stroke-dasharray="1.5 1.1 0.8 1.4"/><path d="M471.2,85.0Q471.9,78.5 469.9,72.3" stroke-width="1.16" stroke-dasharray="2.3 1.4 2.1 2.0"/><path d="M501.4,111.1Q508.1,110.1 512.8,105.4" stroke-width="0.92" stroke-dasharray="1.5 1.7 1.2 1.3"/><path d="M460.3,44.7Q464.6,41.8 469.5,40.1" stroke-width="1.04" stroke-dasharray="2.0 1.0 1.6 1.2"/><path d="M428.8,52.8Q435.8,50.2 438.9,43.3" stroke-width="1.60" stroke-dasharray="1.7 1.2 2.5 1.0"/><path d="M479.2,96.9Q485.4,93.6 487.2,86.8" stroke-width="1.67" stroke-dasharray="2.7 1.4 1.9 1.1"/><path d="M527.0,168.7Q525.6,164.4 526.1,159.9" stroke-width="0.87" stroke-dasharray="1.7 0.7 1.1 0.9"/><path d="M467.3,137.5Q470.5,135.0 470.6,130.9" stroke-width="1.55" stroke-dasharray="1.8 1.8 0.8 1.4"/><path d="M518.5,136.1Q516.9,132.0 518.2,127.7" stroke-width="1.18" stroke-dasharray="3.3 1.8 1.0 1.9"/><path d="M501.6,73.0Q508.3,70.8 515.2,69.6" stroke-width="1.55" stroke-dasharray="1.8 1.1 1.4 1.6"/><path d="M466.5,122.3Q468.5,118.5 472.6,117.2" stroke-width="1.00" stroke-dasharray="2.1 0.8 1.4 1.7"/><path d="M507.7,111.1Q513.8,110.2 517.7,105.4" stroke-width="1.27" stroke-dasharray="1.6 1.1 1.5 0.7"/><path d="M475.4,84.9Q475.4,79.8 472.5,75.5" stroke-width="1.71" stroke-dasharray="3.7 1.1 2.1 0.8"/><path d="M475.1,162.9Q476.5,159.9 479.0,157.8" stroke-width="1.10" stroke-dasharray="1.7 1.0 2.0 1.9"/><path d="M442.3,88.0Q448.5,83.8 455.6,81.3" stroke-width="1.62" stroke-dasharray="2.3 1.4 1.2 1.5"/><path d="M523.9,123.0Q527.3,119.2 527.4,114.1" stroke-width="1.19" stroke-dasharray="3.5 1.5 1.6 1.6"/><path d="M470.0,73.7Q471.8,68.7 473.7,63.8" stroke-width="1.35" stroke-dasharray="1.3 1.4 1.6 1.5"/><path d="M535.9,63.3Q533.2,59.4 532.5,54.7" stroke-width="1.60" stroke-dasharray="2.1 1.5 2.5 1.2"/><path d="M438.6,166.5Q441.5,162.5 446.3,161.0" stroke-width="1.28" stroke-dasharray="3.0 1.7 2.2 1.7"/><path d="M540.5,54.8Q543.0,48.3 542.1,41.4" stroke-width="0.99" stroke-dasharray="3.5 1.2 1.7 1.8"/><path d="M459.0,122.7Q459.2,120.2 460.8,118.2" stroke-width="1.51" stroke-dasharray="2.6 1.0 2.2 1.8"/><path d="M484.9,156.1Q491.0,154.0 496.3,150.3" stroke-width="1.57" stroke-dasharray="1.5 0.7 1.4 1.8"/><path d="M441.9,66.8Q440.9,62.8 440.9,58.6" stroke-width="1.38" stroke-dasharray="3.7 0.8 2.5 1.0"/><path d="M527.3,134.0Q528.1,131.0 528.5,127.9" stroke-width="1.06" stroke-dasharray="1.2 1.1 1.3 1.5"/><path d="M494.0,128.1Q496.5,126.3 499.5,125.6" stroke-width="1.37" stroke-dasharray="2.5 0.8 1.0 1.9"/><path d="M467.6,71.9Q467.0,64.2 469.9,57.1" stroke-width="1.39" stroke-dasharray="2.2 1.0 1.5 0.9"/><path d="M474.1,146.1Q476.4,142.5 478.7,138.9" stroke-width="1.34" stroke-dasharray="3.8 1.1 2.0 1.0"/><path d="M460.9,152.6Q459.8,149.2 460.0,145.5" stroke-width="1.36" stroke-dasharray="2.5 1.7 1.5 1.7"/><path d="M475.8,50.8Q479.3,48.2 482.4,45.2" stroke-width="1.03" stroke-dasharray="3.9 1.0 2.0 1.6"/><path d="M469.4,60.7Q475.2,57.0 480.4,52.3" stroke-width="1.31" stroke-dasharray="2.2 1.6 2.2 1.5"/><path d="M437.7,153.9Q439.6,152.3 441.0,150.2" stroke-width="1.68" stroke-dasharray="3.2 1.4 1.4 1.9"/><path d="M427.6,122.5Q430.8,119.2 433.7,115.7" stroke-width="1.70" stroke-dasharray="2.1 1.4 1.8 2.0"/><path d="M539.7,95.8Q539.9,89.1 542.6,83.0" stroke-width="1.41" stroke-dasharray="4.0 0.8 1.6 1.2"/><path d="M450.8,166.1Q453.7,164.5 454.9,161.3" stroke-width="1.40" stroke-dasharray="2.3 1.5 0.9 0.9"/><path d="M499.2,136.1Q498.2,132.8 498.8,129.4" stroke-width="1.60" stroke-dasharray="3.4 0.8 1.6 0.7"/><path d="M534.2,153.5Q535.6,151.9 537.1,150.4" stroke-width="1.27" stroke-dasharray="2.7 0.8 2.1 1.1"/><path d="M439.7,111.9Q442.2,111.0 444.7,110.0" stroke-width="0.85" stroke-dasharray="2.0 1.6 1.2 1.2"/><path d="M450.1,100.8Q451.3,95.5 455.5,92.2" stroke-width="1.29" stroke-dasharray="1.5 1.6 1.1 2.0"/><path d="M476.5,122.9Q474.9,116.3 472.2,110.1" stroke-width="1.46" stroke-dasharray="1.2 0.9 2.2 1.7"/><path d="M443.9,107.2Q446.0,106.8 447.8,105.5" stroke-width="1.19" stroke-dasharray="3.9 1.4 2.2 0.8"/><path d="M437.6,75.1Q437.4,72.5 436.3,70.1" stroke-width="1.33" stroke-dasharray="2.6 1.4 2.3 1.9"/><path d="M482.0,155.8Q484.4,152.2 488.2,150.2" stroke-width="1.13" stroke-dasharray="1.9 1.1 1.5 1.3"/><path d="M477.3,98.6Q478.1,96.3 476.9,94.1" stroke-width="0.90" stroke-dasharray="2.7 1.3 1.5 1.0"/><path d="M466.6,82.0Q469.7,78.3 474.2,76.6" stroke-width="0.81" stroke-dasharray="2.6 0.7 1.5 2.0"/><path d="M494.4,163.9Q496.1,160.3 496.9,156.3" stroke-width="1.26" stroke-dasharray="2.0 1.4 1.8 1.1"/><path d="M484.7,135.1Q487.1,134.8 489.0,133.4" stroke-width="1.18" stroke-dasharray="2.0 1.6 1.5 1.8"/><path d="M461.4,127.3Q459.8,125.3 459.7,122.7" stroke-width="1.40" stroke-dasharray="2.1 1.0 2.2 1.7"/><path d="M433.9,137.6Q434.4,135.4 435.1,133.3" stroke-width="1.50" stroke-dasharray="3.8 1.4 0.8 1.9"/><path d="M490.5,45.6Q493.2,40.1 497.7,35.8" stroke-width="1.21" stroke-dasharray="4.0 1.7 0.9 1.7"/><path d="M511.2,90.9Q515.1,88.2 516.2,83.5" stroke-width="1.57" stroke-dasharray="2.1 1.5 0.9 0.9"/><path d="M501.6,109.6Q504.2,109.0 506.4,107.5" stroke-width="1.19" stroke-dasharray="3.9 1.3 2.4 1.0"/><path d="M489.6,147.6Q489.2,144.9 488.7,142.3" stroke-width="1.66" stroke-dasharray="1.3 1.2 1.4 1.6"/><path d="M484.3,130.3Q485.9,126.2 484.3,122.1" stroke-width="1.12" stroke-dasharray="3.3 0.9 1.8 1.0"/><path d="M444.4,88.4Q447.2,84.0 449.0,79.0" stroke-width="1.25" stroke-dasharray="2.8 1.6 1.4 1.5"/><path d="M535.0,84.4Q540.6,82.1 544.5,77.6" stroke-width="1.56" stroke-dasharray="3.2 1.3 1.2 0.8"/><path d="M469.8,133.8Q470.8,129.5 472.3,125.4" stroke-width="1.02" stroke-dasharray="3.9 1.7 1.6 1.3"/><path d="M514.3,56.4Q515.6,52.6 513.4,49.1" stroke-width="0.94" stroke-dasharray="3.2 1.3 1.7 1.1"/><path d="M530.4,138.0Q535.7,133.9 542.4,133.2" stroke-width="0.92" stroke-dasharray="1.8 0.9 1.7 1.5"/><path d="M516.9,119.5Q513.9,113.1 513.5,106.1" stroke-width="1.59" stroke-dasharray="2.2 1.7 2.0 1.1"/><path d="M507.6,73.9Q510.8,73.0 514.1,72.3" stroke-width="1.25" stroke-dasharray="1.9 1.0 1.2 0.9"/><path d="M457.5,78.8Q457.9,75.0 460.7,72.5" stroke-width="1.31" stroke-dasharray="1.6 1.6 2.3 1.5"/><path d="M513.0,112.3Q510.2,107.2 510.3,101.4" stroke-width="1.53" stroke-dasharray="1.9 0.8 2.4 1.2"/><path d="M454.3,100.6Q452.8,96.4 455.0,92.6" stroke-width="1.68" stroke-dasharray="2.6 1.3 1.4 1.0"/><path d="M435.3,159.4Q439.8,155.4 445.9,155.7" stroke-width="1.09" stroke-dasharray="1.5 1.3 1.0 2.0"/><path d="M522.1,49.5Q528.3,50.2 532.8,45.9" stroke-width="1.53" stroke-dasharray="2.8 1.8 2.0 1.8"/><path d="M483.2,52.1Q487.3,49.5 491.6,47.2" stroke-width="1.19" stroke-dasharray="2.2 1.2 1.1 1.6"/><path d="M481.6,54.2Q481.3,49.0 485.2,45.5" stroke-width="1.45" stroke-dasharray="2.8 0.8 1.3 1.1"/><path d="M536.8,169.0Q532.5,162.7 533.2,155.0" stroke-width="1.44" stroke-dasharray="3.8 0.7 1.6 1.5"/><path d="M491.2,119.2Q497.8,116.5 504.5,114.1" stroke-width="1.69" stroke-dasharray="3.9 0.7 1.0 1.8"/><path d="M429.7,50.5Q430.6,44.0 431.8,37.5" stroke-width="0.87" stroke-dasharray="2.8 1.5 2.2 0.7"/><path d="M514.6,167.2Q519.4,162.6 522.5,156.7" stroke-width="1.34" stroke-dasharray="2.2 0.7 2.1 1.0"/><path d="M484.9,86.7Q489.3,82.7 491.0,77.1" stroke-width="1.25" stroke-dasharray="3.7 0.9 1.1 1.0"/><path d="M516.6,84.8Q518.1,81.8 518.1,78.4" stroke-width="1.02" stroke-dasharray="2.7 1.0 2.3 0.9"/><path d="M461.3,87.1Q460.7,80.9 463.5,75.3" stroke-width="1.01" stroke-dasharray="2.7 0.8 2.1 1.0"/><path d="M472.5,166.7Q474.0,162.6 478.0,160.7" stroke-width="1.52" stroke-dasharray="4.0 1.1 1.0 1.7"/><path d="M463.5,141.5Q466.3,138.5 469.6,136.1" stroke-width="1.26" stroke-dasharray="3.3 1.2 2.2 0.7"/><path d="M465.1,51.3Q472.3,50.0 477.7,45.0" stroke-width="1.66" stroke-dasharray="3.7 1.8 2.4 1.1"/><path d="M438.0,133.1Q445.5,131.6 450.3,125.6" stroke-width="1.22" stroke-dasharray="3.1 1.7 2.0 1.9"/><path d="M471.4,58.4Q471.9,54.6 469.5,51.7" stroke-width="0.97" stroke-dasharray="1.7 1.1 0.9 1.1"/><path d="M440.2,110.5Q440.8,105.4 443.8,101.2" stroke-width="0.88" stroke-dasharray="2.7 1.7 0.9 1.0"/><path d="M460.0,141.4Q465.4,136.2 466.6,128.8" stroke-width="1.70" stroke-dasharray="2.1 1.3 1.3 1.7"/><path d="M476.9,121.1Q482.2,116.5 483.9,109.7" stroke-width="1.17" stroke-dasharray="3.8 1.8 0.8 1.7"/><path d="M433.7,63.3Q434.8,60.4 434.1,57.4" stroke-width="1.41" stroke-dasharray="1.3 0.9 2.2 1.3"/><path d="M479.5,64.2Q481.7,63.5 482.6,61.4" stroke-width="1.38" stroke-dasharray="1.9 1.4 1.4 1.3"/><path d="M461.8,91.0Q464.7,84.8 466.5,78.1" stroke-width="1.02" stroke-dasharray="2.7 1.2 1.4 1.9"/><path d="M528.7,149.9Q534.7,146.6 540.7,143.4" stroke-width="1.02" stroke-dasharray="4.0 1.0 1.1 1.6"/><path d="M489.0,64.4Q496.4,61.9 500.0,55.0" stroke-width="1.65" stroke-dasharray="3.1 1.1 1.8 1.3"/><path d="M485.7,89.1Q487.0,87.6 487.6,85.6" stroke-width="1.26" stroke-dasharray="2.8 1.4 1.6 0.8"/><path d="M477.3,124.9Q483.2,120.5 488.5,115.4" stroke-width="1.54" stroke-dasharray="1.4 1.6 1.2 1.8"/><path d="M454.3,156.7Q456.8,152.7 459.8,149.0" stroke-width="1.58" stroke-dasharray="3.8 1.2 1.6 1.1"/><path d="M482.8,84.5Q484.8,82.0 487.9,81.1" stroke-width="1.54" stroke-dasharray="3.4 1.8 2.4 1.6"/><path d="M503.6,144.4Q508.1,139.4 514.7,138.0" stroke-width="1.28" stroke-dasharray="2.0 1.0 2.4 0.7"/><path d="M468.3,144.2Q464.9,139.5 465.9,133.8" stroke-width="1.71" stroke-dasharray="3.0 0.8 1.9 0.8"/><path d="M526.9,81.8Q526.6,78.7 527.8,75.8" stroke-width="0.86" stroke-dasharray="4.0 1.4 1.0 1.6"/><path d="M527.9,142.3Q526.5,136.2 525.9,129.8" stroke-width="1.13" stroke-dasharray="3.8 1.4 1.6 1.2"/><path d="M425.4,63.8Q430.0,59.3 435.8,56.5" stroke-width="1.06" stroke-dasharray="3.4 1.5 1.7 1.1"/><path d="M451.0,126.5Q450.3,120.7 447.7,115.4" stroke-width="1.37" stroke-dasharray="3.8 1.7 1.3 1.9"/><path d="M534.8,139.2Q537.7,136.7 540.7,134.3" stroke-width="1.24" stroke-dasharray="2.6 0.7 2.3 1.4"/><path d="M511.8,74.1Q513.6,71.5 513.9,68.3" stroke-width="1.29" stroke-dasharray="2.1 0.8 0.9 1.2"/><path d="M533.6,123.4Q537.1,120.6 538.8,116.5" stroke-width="1.44" stroke-dasharray="2.5 1.8 1.0 1.3"/><path d="M516.4,114.7Q512.8,110.0 513.4,104.1" stroke-width="0.98" stroke-dasharray="1.9 1.3 2.5 1.4"/><path d="M514.2,49.7Q515.9,47.4 516.4,44.5" stroke-width="1.40" stroke-dasharray="3.2 1.5 1.3 1.7"/><path d="M504.4,98.8Q508.5,97.2 512.5,95.4" stroke-width="1.05" stroke-dasharray="3.9 1.7 0.9 0.8"/><path d="M505.6,96.9Q507.0,94.6 508.7,92.5" stroke-width="1.37" stroke-dasharray="3.3 1.1 1.9 1.6"/><path d="M430.7,129.6Q433.3,128.9 435.9,128.0" stroke-width="0.90" stroke-dasharray="1.2 0.8 1.5 1.3"/><path d="M535.2,150.9Q537.5,146.8 538.3,142.1" stroke-width="1.60" stroke-dasharray="4.0 0.8 1.3 1.0"/><path d="M486.8,95.4Q487.0,91.1 485.2,87.2" stroke-width="1.21" stroke-dasharray="3.4 1.5 1.6 1.2"/><path d="M476.4,83.8Q480.5,80.1 482.9,75.1" stroke-width="1.22" stroke-dasharray="3.4 1.2 1.6 1.8"/><path d="M470.9,159.6Q471.6,152.2 470.8,144.9" stroke-width="1.68" stroke-dasharray="3.1 1.5 1.3 1.6"/><path d="M501.8,127.9Q503.9,123.9 503.7,119.3" stroke-width="1.46" stroke-dasharray="3.4 1.3 2.5 1.1"/><path d="M425.0,95.8Q429.5,91.5 434.8,88.2" stroke-width="1.64" stroke-dasharray="1.8 1.1 2.5 1.0"/><path d="M435.5,119.4Q435.5,112.8 434.2,106.4" stroke-width="1.34" stroke-dasharray="2.9 1.5 2.1 1.7"/><path d="M454.6,132.8Q454.4,127.2 458.7,123.5" stroke-width="1.68" stroke-dasharray="1.6 1.6 1.4 1.6"/><path d="M456.9,115.2Q460.7,111.7 461.6,106.6" stroke-width="1.55" stroke-dasharray="3.0 1.7 1.9 1.1"/><path d="M473.1,62.7Q475.7,58.1 478.7,53.6" stroke-width="1.50" stroke-dasharray="4.0 1.3 2.4 1.2"/><path d="M435.7,83.3Q434.7,77.3 437.5,71.8" stroke-width="0.83" stroke-dasharray="2.3 1.0 1.4 1.4"/><path d="M468.6,124.1Q470.0,121.4 472.8,120.2" stroke-width="0.88" stroke-dasharray="3.8 1.0 1.1 0.9"/><path d="M516.8,135.4Q517.9,132.0 520.2,129.4" stroke-width="1.45" stroke-dasharray="1.3 1.6 2.3 1.0"/><path d="M502.0,85.9Q507.8,82.3 513.4,78.3" stroke-width="1.37" stroke-dasharray="2.1 1.2 2.2 1.4"/><path d="M539.6,71.0Q541.6,68.2 541.4,64.8" stroke-width="1.57" stroke-dasharray="3.9 1.1 1.5 1.3"/><path d="M530.4,126.8Q531.9,124.2 534.3,122.5" stroke-width="1.14" stroke-dasharray="1.8 1.7 2.3 1.0"/><path d="M453.7,132.1Q455.1,130.0 454.4,127.6" stroke-width="0.85" stroke-dasharray="3.6 1.3 1.8 0.8"/><path d="M469.0,168.3Q470.5,162.8 467.5,157.8" stroke-width="1.06" stroke-dasharray="1.5 0.7 2.0 0.9"/><path d="M502.1,130.2Q504.7,127.4 506.0,123.7" stroke-width="1.07" stroke-dasharray="2.8 1.1 1.4 1.0"/><path d="M456.6,45.5Q458.6,42.3 458.9,38.5" stroke-width="1.09" stroke-dasharray="1.5 1.6 1.6 1.4"/><path d="M528.0,139.6Q528.1,134.0 530.3,129.0" stroke-width="1.24" stroke-dasharray="2.6 1.2 1.5 1.4"/><path d="M489.5,112.8Q490.0,106.3 487.1,100.4" stroke-width="1.38" stroke-dasharray="1.3 1.0 0.9 1.7"/><path d="M461.2,70.7Q459.3,64.0 459.9,57.2" stroke-width="1.31" stroke-dasharray="3.1 1.5 1.6 1.2"/><path d="M529.1,170.9Q531.4,163.6 527.7,156.9" stroke-width="1.09" stroke-dasharray="1.9 1.8 1.7 1.4"/><path d="M519.2,107.1Q525.0,101.1 533.3,102.1" stroke-width="0.91" stroke-dasharray="1.2 0.9 1.5 1.5"/><path d="M492.0,161.8Q491.7,157.4 492.2,153.0" stroke-width="1.43" stroke-dasharray="2.8 0.9 1.6 1.9"/><path d="M449.2,99.4Q452.4,95.6 456.2,92.3" stroke-width="1.00" stroke-dasharray="3.0 0.7 1.2 1.6"/><path d="M437.5,138.9Q436.1,135.3 435.1,131.6" stroke-width="1.47" stroke-dasharray="1.5 1.4 1.2 1.8"/><path d="M514.5,49.3Q515.2,47.1 514.4,45.0" stroke-width="1.69" stroke-dasharray="1.8 0.7 1.1 1.3"/><path d="M459.0,75.7Q464.2,71.7 470.3,69.1" stroke-width="1.16" stroke-dasharray="2.9 1.7 0.9 1.4"/><path d="M516.8,74.5Q521.9,71.6 527.0,68.5" stroke-width="1.43" stroke-dasharray="3.9 1.0 1.3 1.9"/><path d="M433.0,65.5Q434.8,62.4 438.0,61.1" stroke-width="1.16" stroke-dasharray="3.2 1.8 1.9 1.5"/><path d="M508.7,103.7Q510.0,101.8 510.9,99.6" stroke-width="1.15" stroke-dasharray="2.7 0.8 0.8 2.0"/><path d="M466.8,63.7Q467.3,58.2 464.4,53.4" stroke-width="1.02" stroke-dasharray="2.6 1.2 2.1 1.4"/><path d="M450.0,133.0Q450.7,130.4 449.3,128.2" stroke-width="1.49" stroke-dasharray="1.7 1.2 2.2 1.5"/><path d="M514.9,132.6Q515.6,130.2 514.6,128.0" stroke-width="1.16" stroke-dasharray="1.7 0.7 0.8 1.8"/><path d="M435.8,52.2Q435.2,45.0 439.9,39.5" stroke-width="0.91" stroke-dasharray="1.3 0.8 1.3 0.9"/><path d="M448.3,121.5Q450.8,120.0 453.4,118.6" stroke-width="1.16" stroke-dasharray="2.3 0.9 1.8 1.4"/><path d="M477.5,47.8Q482.5,45.7 486.7,42.2" stroke-width="1.30" stroke-dasharray="1.2 1.7 1.8 1.2"/><path d="M534.6,60.6Q535.7,56.6 535.7,52.4" stroke-width="1.07" stroke-dasharray="3.2 1.7 0.9 1.1"/><path d="M515.0,143.7Q515.3,137.6 512.1,132.4" stroke-width="1.71" stroke-dasharray="2.3 1.6 2.1 0.8"/><path d="M511.2,152.0Q510.7,147.7 513.6,144.4" stroke-width="1.58" stroke-dasharray="3.7 1.3 2.3 2.0"/><path d="M501.1,162.3Q502.6,159.9 504.5,157.8" stroke-width="1.06" stroke-dasharray="1.6 1.6 0.9 1.5"/><path d="M463.1,118.4Q463.9,115.3 466.5,113.3" stroke-width="0.98" stroke-dasharray="4.0 1.0 1.4 1.6"/><path d="M521.3,68.5Q526.6,66.6 528.3,61.2" stroke-width="1.72" stroke-dasharray="1.2 0.7 1.4 1.1"/><path d="M495.8,51.6Q500.8,48.2 505.5,44.7" stroke-width="1.10" stroke-dasharray="3.2 1.6 2.4 1.2"/><path d="M470.1,84.3Q472.4,78.5 476.5,73.9" stroke-width="1.37" stroke-dasharray="1.6 1.6 2.4 1.0"/><path d="M442.8,46.6Q446.0,43.6 450.2,42.3" stroke-width="0.90" stroke-dasharray="2.8 1.4 2.4 0.8"/><path d="M431.0,103.9Q431.8,97.4 433.2,91.0" stroke-width="0.83" stroke-dasharray="3.6 1.1 1.0 1.5"/><path d="M451.4,44.6Q454.1,43.6 456.9,42.8" stroke-width="0.92" stroke-dasharray="1.6 1.4 2.2 1.1"/><path d="M501.9,137.4Q504.0,130.8 507.2,124.7" stroke-width="1.52" stroke-dasharray="3.6 1.4 2.5 1.1"/><path d="M499.1,100.3Q500.6,98.8 501.2,96.8" stroke-width="0.93" stroke-dasharray="2.9 1.3 1.7 0.8"/><path d="M497.4,132.7Q498.8,125.2 497.0,117.8" stroke-width="1.65" stroke-dasharray="2.5 1.3 2.2 1.2"/><path d="M480.1,93.2Q481.5,88.2 486.3,86.3" stroke-width="0.94" stroke-dasharray="1.3 1.1 0.9 1.6"/><path d="M444.9,98.2Q445.3,92.9 445.2,87.6" stroke-width="0.82" stroke-dasharray="2.0 1.1 2.3 1.0"/><path d="M526.5,101.5Q528.5,99.4 531.4,99.2" stroke-width="1.22" stroke-dasharray="3.3 0.8 1.9 1.0"/><path d="M492.0,51.5Q498.8,48.1 502.0,41.3" stroke-width="1.24" stroke-dasharray="3.4 0.8 0.9 1.5"/><path d="M527.7,139.7Q530.6,138.5 533.7,137.9" stroke-width="1.40" stroke-dasharray="2.5 1.0 2.4 1.0"/><path d="M434.4,162.4Q437.6,155.8 438.4,148.5" stroke-width="1.27" stroke-dasharray="3.2 1.7 2.2 0.8"/><path d="M445.0,115.4Q445.7,108.0 442.9,101.1" stroke-width="1.50" stroke-dasharray="2.7 1.0 1.1 1.7"/><path d="M465.9,98.3Q466.6,92.5 466.9,86.7" stroke-width="1.26" stroke-dasharray="1.5 0.8 1.1 1.8"/><path d="M498.0,87.6Q500.5,83.9 505.0,83.6" stroke-width="1.37" stroke-dasharray="2.9 0.8 2.0 1.5"/><path d="M518.0,122.5Q516.4,115.8 513.6,109.6" stroke-width="1.40" stroke-dasharray="3.0 1.1 1.5 1.2"/><path d="M468.4,90.7Q467.0,84.0 468.0,77.3" stroke-width="1.10" stroke-dasharray="3.6 1.1 1.9 1.0"/><path d="M434.2,144.6Q440.1,140.4 444.7,135.1" stroke-width="0.88" stroke-dasharray="1.5 0.9 1.9 1.9"/><path d="M457.6,138.1Q457.5,134.8 456.5,131.7" stroke-width="1.06" stroke-dasharray="2.5 0.9 1.3 1.3"/><path d="M511.3,49.3Q512.1,43.7 510.9,38.3" stroke-width="1.36" stroke-dasharray="1.7 0.8 0.9 1.7"/><path d="M425.9,100.3Q431.4,98.4 433.5,93.0" stroke-width="1.65" stroke-dasharray="2.4 1.1 2.5 1.2"/><path d="M527.1,114.5Q528.1,111.7 526.8,109.1" stroke-width="0.95" stroke-dasharray="2.8 0.8 1.0 1.2"/><path d="M543.2,118.9Q539.4,112.8 539.0,105.6" stroke-width="0.95" stroke-dasharray="3.0 1.2 2.1 1.6"/><path d="M487.9,96.5Q487.5,91.6 489.0,86.9" stroke-width="0.94" stroke-dasharray="2.8 1.6 2.2 0.8"/><path d="M428.1,65.0Q433.7,60.4 438.7,55.1" stroke-width="1.11" stroke-dasharray="2.5 1.3 1.3 1.7"/><path d="M523.6,142.3Q525.1,140.8 525.2,138.6" stroke-width="1.35" stroke-dasharray="3.7 0.8 1.3 1.7"/><path d="M499.9,94.2Q504.1,91.8 508.1,89.0" stroke-width="0.99" stroke-dasharray="1.9 1.4 1.0 0.9"/><path d="M489.5,114.6Q488.1,112.9 488.0,110.8" stroke-width="0.97" stroke-dasharray="2.3 0.9 2.2 2.0"/><path d="M508.2,146.1Q515.7,144.5 520.2,138.4" stroke-width="1.24" stroke-dasharray="1.7 1.0 2.3 1.9"/><path d="M441.8,87.3Q441.8,83.9 443.3,80.8" stroke-width="1.15" stroke-dasharray="3.4 1.2 1.6 1.3"/><path d="M475.7,129.8Q479.6,125.4 484.1,121.5" stroke-width="0.83" stroke-dasharray="1.6 0.7 1.5 1.2"/><path d="M437.8,100.4Q440.4,92.9 436.3,86.1" stroke-width="1.35" stroke-dasharray="2.1 1.1 1.3 0.9"/><path d="M520.9,88.9Q524.2,89.0 526.4,86.6" stroke-width="0.88" stroke-dasharray="3.3 1.0 2.0 1.7"/><path d="M449.1,85.6Q450.8,79.5 450.0,73.2" stroke-width="1.05" stroke-dasharray="2.5 1.1 1.6 1.7"/><path d="M522.0,160.0Q518.2,155.7 518.8,150.0" stroke-width="0.92" stroke-dasharray="1.7 1.8 1.1 1.7"/><path d="M461.4,101.8Q464.4,95.6 463.6,88.8" stroke-width="1.07" stroke-dasharray="3.7 1.7 1.7 0.8"/><path d="M459.1,99.2Q459.2,91.6 463.6,85.5" stroke-width="1.01" stroke-dasharray="1.4 1.0 2.0 1.1"/><path d="M433.5,50.3Q435.6,46.5 436.9,42.4" stroke-width="1.11" stroke-dasharray="2.8 1.0 0.8 1.6"/><path d="M480.7,88.2Q484.2,87.9 487.4,86.2" stroke-width="0.82" stroke-dasharray="2.0 0.8 0.9 1.3"/><path d="M526.3,89.0Q530.1,85.9 530.1,81.0" stroke-width="1.12" stroke-dasharray="1.5 1.6 1.7 1.3"/><path d="M514.3,109.2Q511.1,103.1 513.0,96.6" stroke-width="1.34" stroke-dasharray="3.2 1.4 1.6 1.4"/><path d="M481.5,144.4Q487.4,140.8 494.3,140.4" stroke-width="1.24" stroke-dasharray="2.9 1.4 2.3 0.8"/><path d="M469.7,161.2Q471.8,158.9 471.9,155.8" stroke-width="1.62" stroke-dasharray="3.3 1.2 2.1 1.1"/><path d="M429.8,74.0Q427.2,68.4 427.8,62.1" stroke-width="0.86" stroke-dasharray="2.0 0.8 2.0 1.7"/><path d="M533.5,107.9Q534.9,106.2 535.7,104.1" stroke-width="1.21" stroke-dasharray="1.5 1.7 2.4 0.9"/><path d="M457.3,125.9Q459.3,124.2 461.0,122.2" stroke-width="1.66" stroke-dasharray="2.5 1.2 1.8 1.9"/><path d="M528.8,145.6Q531.5,143.7 534.1,141.7" stroke-width="1.09" stroke-dasharray="3.0 1.4 1.4 2.0"/><path d="M429.9,54.5Q429.1,51.3 430.5,48.2" stroke-width="1.63" stroke-dasharray="1.3 1.0 1.2 1.7"/><path d="M460.4,59.7Q456.5,53.3 455.6,45.9" stroke-width="1.05" stroke-dasharray="2.5 1.5 2.1 1.4"/><path d="M486.9,126.5Q489.2,123.1 488.8,119.1" stroke-width="1.68" stroke-dasharray="3.9 0.9 1.2 1.9"/><path d="M534.0,151.8Q533.0,145.2 533.0,138.5" stroke-width="0.85" stroke-dasharray="1.4 1.5 2.2 1.8"/><path d="M435.9,135.9Q432.7,131.8 434.1,126.7" stroke-width="1.14" stroke-dasharray="2.5 1.4 1.9 1.6"/><path d="M500.2,55.4Q498.8,48.3 501.6,41.6" stroke-width="1.31" stroke-dasharray="2.5 0.9 1.6 1.6"/><path d="M437.0,43.0Q441.1,41.4 443.8,38.0" stroke-width="1.43" stroke-dasharray="1.8 1.2 2.0 1.9"/><path d="M429.9,153.8Q429.8,148.4 430.8,143.1" stroke-width="0.85" stroke-dasharray="2.2 1.1 0.9 1.6"/><path d="M503.9,159.3Q504.0,153.4 507.3,148.5" stroke-width="0.82" stroke-dasharray="3.9 1.6 2.5 1.3"/><path d="M496.1,126.3Q498.9,120.1 500.0,113.3" stroke-width="1.35" stroke-dasharray="1.2 1.6 1.9 2.0"/><path d="M521.3,142.9Q522.7,135.0 529.1,130.2" stroke-width="1.72" stroke-dasharray="2.3 0.7 1.4 1.2"/><path d="M467.6,76.5Q473.4,75.4 478.4,72.2" stroke-width="1.54" stroke-dasharray="2.3 0.8 1.8 1.2"/><path d="M465.4,165.0Q467.5,162.5 468.0,159.4" stroke-width="1.25" stroke-dasharray="1.2 1.0 2.3 1.1"/><path d="M483.0,74.8Q488.0,74.0 492.4,71.7" stroke-width="1.35" stroke-dasharray="2.0 1.6 2.1 1.6"/><path d="M524.7,133.6Q526.5,132.1 528.9,131.7" stroke-width="1.33" stroke-dasharray="3.6 1.8 2.1 0.9"/><path d="M500.1,118.2Q499.1,115.6 498.3,113.0" stroke-width="1.42" stroke-dasharray="2.0 1.8 1.5 0.8"/><path d="M456.5,70.8Q458.2,67.5 458.7,63.8" stroke-width="1.65" stroke-dasharray="3.1 1.7 2.5 1.9"/><path d="M456.0,145.3Q457.9,143.4 457.7,140.7" stroke-width="1.29" stroke-dasharray="1.5 1.7 1.0 1.6"/><path d="M428.6,141.4Q427.4,139.3 427.7,136.9" stroke-width="0.84" stroke-dasharray="2.6 1.2 0.8 1.6"/><path d="M482.7,158.0Q487.5,154.5 493.2,153.4" stroke-width="1.19" stroke-dasharray="3.2 1.1 2.1 1.5"/><path d="M488.6,78.0Q488.5,74.4 487.3,70.9" stroke-width="1.69" stroke-dasharray="3.4 1.1 1.1 0.7"/><path d="M508.7,164.4Q514.2,164.4 518.7,161.1" stroke-width="1.08" stroke-dasharray="1.3 1.4 1.9 1.9"/><path d="M451.9,68.4Q454.6,67.7 457.3,66.9" stroke-width="1.57" stroke-dasharray="2.4 1.1 2.4 1.1"/><path d="M488.1,54.9Q487.9,52.6 489.3,50.8" stroke-width="1.57" stroke-dasharray="1.3 1.5 1.2 1.6"/><path d="M511.8,73.3Q509.8,71.0 510.0,67.9" stroke-width="1.64" stroke-dasharray="3.8 1.3 0.9 1.2"/><path d="M436.0,79.1Q436.0,76.9 435.2,74.7" stroke-width="1.37" stroke-dasharray="1.4 1.1 1.1 1.3"/><path d="M498.3,53.6Q503.1,52.3 507.7,50.6" stroke-width="1.17" stroke-dasharray="3.5 1.0 2.2 1.0"/><path d="M516.3,45.0Q517.4,40.0 520.4,35.9" stroke-width="1.25" stroke-dasharray="3.9 1.5 1.2 1.0"/><path d="M459.7,111.6Q460.3,109.2 460.5,106.7" stroke-width="1.62" stroke-dasharray="1.3 0.8 2.4 1.8"/><path d="M472.2,166.0Q471.1,162.9 472.7,160.1" stroke-width="1.54" stroke-dasharray="1.8 0.7 1.0 0.8"/><path d="M496.5,102.1Q498.0,99.8 497.7,97.0" stroke-width="1.57" stroke-dasharray="1.6 1.4 1.9 1.7"/><path d="M442.3,80.4Q444.8,78.6 445.0,75.6" stroke-width="1.64" stroke-dasharray="3.6 1.4 2.2 1.3"/><path d="M517.8,147.2Q523.7,144.5 528.5,140.1" stroke-width="1.07" stroke-dasharray="1.4 1.5 1.6 2.0"/><path d="M476.9,155.6Q474.3,148.2 477.4,141.0" stroke-width="1.43" stroke-dasharray="3.8 1.0 1.8 0.8"/><path d="M535.6,105.8Q537.7,103.7 537.6,100.6" stroke-width="1.49" stroke-dasharray="2.5 0.8 1.5 1.8"/><path d="M521.1,98.5Q524.9,96.0 529.5,95.8" stroke-width="0.86" stroke-dasharray="2.8 1.1 1.0 1.3"/><path d="M437.8,51.8Q441.1,48.6 445.6,48.0" stroke-width="1.06" stroke-dasharray="2.9 1.7 1.7 0.9"/><path d="M522.3,118.5Q526.1,113.8 525.1,107.7" stroke-width="1.35" stroke-dasharray="1.8 1.2 2.2 1.9"/><path d="M454.5,49.9Q455.8,44.5 460.6,41.8" stroke-width="1.55" stroke-dasharray="1.8 0.9 0.8 0.7"/><path d="M526.6,61.2Q527.8,59.4 528.0,57.3" stroke-width="1.36" stroke-dasharray="2.9 1.7 2.1 1.1"/><path d="M461.5,138.3Q460.4,135.0 460.5,131.6" stroke-width="1.04" stroke-dasharray="3.7 1.1 2.4 1.5"/><path d="M499.2,79.5Q501.7,78.5 504.3,78.1" stroke-width="1.50" stroke-dasharray="1.9 0.8 2.1 0.9"/><path d="M459.7,92.5Q456.7,85.6 458.5,78.3" stroke-width="1.34" stroke-dasharray="3.9 1.4 2.4 1.5"/><path d="M460.8,90.5Q464.5,86.8 469.0,84.3" stroke-width="1.14" stroke-dasharray="3.6 1.5 1.2 0.7"/><path d="M475.3,150.3Q477.0,145.6 479.7,141.3" stroke-width="1.02" stroke-dasharray="2.7 1.4 1.7 1.4"/><path d="M444.1,101.5Q443.4,94.5 440.1,88.4" stroke-width="1.53" stroke-dasharray="2.8 1.3 1.6 0.9"/><path d="M434.7,70.4Q438.3,69.4 440.7,66.6" stroke-width="1.36" stroke-dasharray="1.4 1.3 1.1 1.5"/><path d="M495.2,103.6Q499.3,100.2 503.2,96.5" stroke-width="1.70" stroke-dasharray="3.1 0.9 2.0 1.5"/><path d="M493.5,112.7Q498.8,109.2 503.0,104.5" stroke-width="1.68" stroke-dasharray="2.4 1.5 2.0 0.9"/><path d="M537.9,109.1Q540.8,102.2 542.0,94.7" stroke-width="1.37" stroke-dasharray="1.4 0.7 1.8 1.6"/><path d="M515.4,100.3Q516.5,94.3 519.1,88.7" stroke-width="1.43" stroke-dasharray="2.7 1.4 1.8 0.8"/><path d="M504.6,99.8Q510.3,94.7 511.9,87.1" stroke-width="0.97" stroke-dasharray="2.6 1.1 1.1 1.9"/><path d="M511.0,65.8Q511.0,60.5 507.4,56.8" stroke-width="1.22" stroke-dasharray="3.6 0.7 2.5 1.9"/><path d="M498.7,99.6Q500.8,97.6 502.7,95.3" stroke-width="1.31" stroke-dasharray="3.6 0.8 1.7 1.3"/><path d="M519.5,118.5Q518.0,115.0 517.2,111.3" stroke-width="1.40" stroke-dasharray="2.0 1.3 2.3 0.8"/><path d="M481.2,77.7Q483.7,76.1 485.9,74.3" stroke-width="1.24" stroke-dasharray="2.4 1.4 1.3 1.5"/><path d="M519.8,143.7Q518.6,140.6 517.6,137.4" stroke-width="1.43" stroke-dasharray="2.1 1.0 2.0 1.3"/><path d="M457.7,150.9Q457.4,147.5 456.6,144.1" stroke-width="1.32" stroke-dasharray="2.3 1.3 1.7 1.4"/><path d="M537.2,135.2Q537.4,132.4 535.4,130.5" stroke-width="0.97" stroke-dasharray="1.3 1.6 1.3 0.7"/><path d="M482.6,146.5Q484.9,146.4 486.3,144.5" stroke-width="1.40" stroke-dasharray="1.3 1.0 1.6 2.0"/><path d="M524.1,120.7Q527.2,114.2 526.7,107.0" stroke-width="1.25" stroke-dasharray="2.2 1.2 1.0 1.9"/><path d="M445.9,105.5Q450.5,101.0 455.8,97.4" stroke-width="1.44" stroke-dasharray="1.5 1.0 1.1 1.4"/><path d="M453.7,131.3Q451.3,126.0 454.2,120.9" stroke-width="0.97" stroke-dasharray="2.1 1.8 1.6 1.4"/><path d="M435.2,121.4Q438.0,121.7 440.2,120.0" stroke-width="1.22" stroke-dasharray="2.7 0.9 1.2 1.7"/><path d="M442.8,132.1Q445.2,125.0 446.8,117.7" stroke-width="1.03" stroke-dasharray="2.7 1.5 2.2 1.7"/><path d="M515.7,55.4Q517.7,53.4 518.2,50.6" stroke-width="1.56" stroke-dasharray="2.8 1.0 2.4 1.3"/><path d="M532.7,102.0Q536.3,96.9 538.7,91.1" stroke-width="1.10" stroke-dasharray="1.5 1.4 2.4 1.6"/><path d="M487.8,88.7Q489.9,84.6 487.9,80.4" stroke-width="1.04" stroke-dasharray="2.5 1.3 1.1 1.7"/><path d="M471.0,75.3Q473.2,70.4 477.0,66.6" stroke-width="1.26" stroke-dasharray="2.4 1.6 1.7 0.8"/></g>
<g fill="none" stroke="#A87000"><path d="M495.0,93.0C494.3,94.8 492.7,99.8 491.0,104.0C489.3,108.2 487.0,113.3 485.0,118.0C483.0,122.7 481.0,127.2 479.0,132.0C477.0,136.8 474.0,144.5 473.0,147.0" stroke-width="1.2" stroke-dasharray="3 1.0 2 1.2"/><path d="M505.0,108.0C504.0,109.7 500.3,114.3 499.0,118.0C497.7,121.7 497.0,126.0 497.0,130.0C497.0,134.0 498.0,138.3 499.0,142.0C500.0,145.7 502.3,150.3 503.0,152.0" stroke-width="1.5" stroke-dasharray="4 1.5 3 1.2"/><path d="M512.0,112.0C511.0,113.7 507.2,118.3 506.0,122.0C504.8,125.7 504.7,130.0 505.0,134.0C505.3,138.0 506.8,142.3 508.0,146.0C509.2,149.7 511.3,154.3 512.0,156.0" stroke-width="1.7999999999999998" stroke-dasharray="5 2.0 4 1.2"/><path d="M490.0,112.0C489.3,114.0 486.8,119.7 486.0,124.0C485.2,128.3 484.7,133.7 485.0,138.0C485.3,142.3 487.5,148.0 488.0,150.0" stroke-width="1.2" stroke-dasharray="6 1.0 2 1.2"/><path d="M519.0,106.0C520.0,107.7 523.7,112.3 525.0,116.0C526.3,119.7 526.7,126.0 527.0,128.0" stroke-width="1.5" stroke-dasharray="3 1.5 3 1.2"/><path d="M456.0,100.0C457.7,101.0 462.7,104.3 466.0,106.0C469.3,107.7 473.0,109.0 476.0,110.0C479.0,111.0 482.7,111.7 484.0,112.0" stroke-width="1.7999999999999998" stroke-dasharray="4 2.0 4 1.2"/><path d="M452.0,112.0C453.7,113.0 459.0,115.7 462.0,118.0C465.0,120.3 468.7,124.7 470.0,126.0" stroke-width="1.2" stroke-dasharray="5 1.0 2 1.2"/><path d="M446.0,122.0C447.3,123.3 452.0,127.0 454.0,130.0C456.0,133.0 457.7,137.0 458.0,140.0C458.3,143.0 456.3,146.7 456.0,148.0" stroke-width="1.5" stroke-dasharray="6 1.5 3 1.2"/><path d="M502.0,46.0C503.0,47.7 506.3,52.7 508.0,56.0C509.7,59.3 510.3,62.7 512.0,66.0C513.7,69.3 517.0,74.3 518.0,76.0" stroke-width="1.7999999999999998" stroke-dasharray="3 2.0 4 1.2"/><path d="M496.0,52.0C496.7,54.0 499.3,60.0 500.0,64.0C500.7,68.0 499.3,72.0 500.0,76.0C500.7,80.0 503.3,86.0 504.0,88.0" stroke-width="1.2" stroke-dasharray="4 1.0 2 1.2"/><path d="M514.0,44.0C515.0,46.0 518.3,52.3 520.0,56.0C521.7,59.7 523.3,64.3 524.0,66.0" stroke-width="1.5" stroke-dasharray="5 1.5 3 1.2"/><path d="M470.0,90.0C470.7,91.7 473.7,96.3 474.0,100.0C474.3,103.7 472.3,110.0 472.0,112.0" stroke-width="1.7999999999999998" stroke-dasharray="6 2.0 4 1.2"/><path d="M530.0,92.0C529.0,93.3 525.7,97.0 524.0,100.0C522.3,103.0 520.7,108.3 520.0,110.0" stroke-width="1.2" stroke-dasharray="3 1.0 2 1.2"/><path d="M462.0,132.0C463.3,133.0 467.7,135.7 470.0,138.0C472.3,140.3 475.0,144.7 476.0,146.0" stroke-width="1.5" stroke-dasharray="4 1.5 3 1.2"/></g>
<g fill="#A87000"><ellipse cx="456.8" cy="77.2" rx="2.0" ry="0.8" transform="rotate(133 456.8 77.2)"/><ellipse cx="445.8" cy="118.7" rx="0.8" ry="0.4" transform="rotate(23 445.8 118.7)"/><ellipse cx="430.8" cy="153.4" rx="1.8" ry="0.8" transform="rotate(2 430.8 153.4)"/><ellipse cx="511.7" cy="122.9" rx="1.0" ry="0.3" transform="rotate(12 511.7 122.9)"/><ellipse cx="454.6" cy="137.3" rx="1.4" ry="0.7" transform="rotate(91 454.6 137.3)"/><ellipse cx="519.2" cy="115.5" rx="1.1" ry="0.6" transform="rotate(12 519.2 115.5)"/><ellipse cx="449.4" cy="105.6" rx="1.5" ry="0.6" transform="rotate(114 449.4 105.6)"/><ellipse cx="492.3" cy="120.7" rx="1.7" ry="0.5" transform="rotate(96 492.3 120.7)"/><ellipse cx="528.4" cy="163.2" rx="2.2" ry="0.7" transform="rotate(124 528.4 163.2)"/><ellipse cx="491.0" cy="71.0" rx="1.0" ry="0.3" transform="rotate(45 491.0 71.0)"/><ellipse cx="497.8" cy="108.7" rx="1.5" ry="0.6" transform="rotate(43 497.8 108.7)"/><ellipse cx="462.6" cy="127.1" rx="1.7" ry="0.7" transform="rotate(56 462.6 127.1)"/><ellipse cx="479.0" cy="93.7" rx="1.9" ry="0.6" transform="rotate(138 479.0 93.7)"/><ellipse cx="520.2" cy="130.7" rx="2.0" ry="0.8" transform="rotate(80 520.2 130.7)"/><ellipse cx="502.3" cy="79.2" rx="1.7" ry="0.7" transform="rotate(100 502.3 79.2)"/><ellipse cx="487.3" cy="85.5" rx="0.7" ry="0.3" transform="rotate(86 487.3 85.5)"/><ellipse cx="536.4" cy="57.1" rx="2.6" ry="0.7" transform="rotate(142 536.4 57.1)"/><ellipse cx="459.9" cy="42.4" rx="1.3" ry="0.7" transform="rotate(54 459.9 42.4)"/><ellipse cx="535.0" cy="124.2" rx="2.3" ry="0.7" transform="rotate(32 535.0 124.2)"/><ellipse cx="485.5" cy="51.8" rx="1.3" ry="0.5" transform="rotate(147 485.5 51.8)"/><ellipse cx="461.0" cy="123.3" rx="0.8" ry="0.4" transform="rotate(11 461.0 123.3)"/><ellipse cx="494.2" cy="113.3" rx="1.6" ry="0.6" transform="rotate(169 494.2 113.3)"/><ellipse cx="510.4" cy="111.0" rx="1.5" ry="0.7" transform="rotate(53 510.4 111.0)"/><ellipse cx="490.9" cy="114.9" rx="2.3" ry="0.8" transform="rotate(8 490.9 114.9)"/><ellipse cx="535.6" cy="98.4" rx="1.3" ry="0.4" transform="rotate(113 535.6 98.4)"/><ellipse cx="525.4" cy="108.9" rx="1.1" ry="0.4" transform="rotate(84 525.4 108.9)"/><ellipse cx="468.1" cy="112.6" rx="0.8" ry="0.4" transform="rotate(21 468.1 112.6)"/><ellipse cx="431.1" cy="105.7" rx="1.6" ry="0.7" transform="rotate(162 431.1 105.7)"/><ellipse cx="497.4" cy="122.3" rx="1.5" ry="0.4" transform="rotate(63 497.4 122.3)"/><ellipse cx="524.3" cy="70.5" rx="2.3" ry="0.8" transform="rotate(32 524.3 70.5)"/><ellipse cx="511.4" cy="59.4" rx="1.2" ry="0.5" transform="rotate(60 511.4 59.4)"/><ellipse cx="469.2" cy="60.1" rx="0.9" ry="0.5" transform="rotate(143 469.2 60.1)"/><ellipse cx="468.3" cy="129.0" rx="1.8" ry="0.5" transform="rotate(158 468.3 129.0)"/><ellipse cx="508.4" cy="145.1" rx="2.6" ry="0.7" transform="rotate(74 508.4 145.1)"/><ellipse cx="495.6" cy="48.6" rx="1.1" ry="0.5" transform="rotate(112 495.6 48.6)"/><ellipse cx="428.9" cy="134.3" rx="0.8" ry="0.3" transform="rotate(87 428.9 134.3)"/><ellipse cx="524.0" cy="119.0" rx="1.1" ry="0.4" transform="rotate(42 524.0 119.0)"/><ellipse cx="498.3" cy="91.7" rx="1.9" ry="0.8" transform="rotate(49 498.3 91.7)"/><ellipse cx="463.4" cy="159.7" rx="1.0" ry="0.5" transform="rotate(96 463.4 159.7)"/><ellipse cx="504.4" cy="157.6" rx="0.8" ry="0.3" transform="rotate(130 504.4 157.6)"/><ellipse cx="484.5" cy="126.4" rx="1.2" ry="0.6" transform="rotate(9 484.5 126.4)"/><ellipse cx="448.2" cy="78.0" rx="0.9" ry="0.4" transform="rotate(21 448.2 78.0)"/><ellipse cx="431.0" cy="105.6" rx="1.3" ry="0.7" transform="rotate(17 431.0 105.6)"/><ellipse cx="511.0" cy="49.9" rx="1.0" ry="0.4" transform="rotate(53 511.0 49.9)"/><ellipse cx="517.5" cy="103.3" rx="1.3" ry="0.6" transform="rotate(5 517.5 103.3)"/><ellipse cx="521.6" cy="88.7" rx="1.3" ry="0.7" transform="rotate(78 521.6 88.7)"/><ellipse cx="489.5" cy="59.3" rx="1.2" ry="0.3" transform="rotate(169 489.5 59.3)"/><ellipse cx="542.0" cy="108.0" rx="1.9" ry="0.7" transform="rotate(86 542.0 108.0)"/><ellipse cx="447.6" cy="120.3" rx="1.6" ry="0.5" transform="rotate(8 447.6 120.3)"/><ellipse cx="461.5" cy="54.1" rx="1.7" ry="0.7" transform="rotate(52 461.5 54.1)"/><ellipse cx="517.1" cy="105.1" rx="1.1" ry="0.4" transform="rotate(0 517.1 105.1)"/><ellipse cx="434.9" cy="44.6" rx="2.6" ry="0.8" transform="rotate(98 434.9 44.6)"/><ellipse cx="535.3" cy="107.4" rx="1.2" ry="0.6" transform="rotate(79 535.3 107.4)"/><ellipse cx="497.7" cy="91.1" rx="1.4" ry="0.6" transform="rotate(118 497.7 91.1)"/><ellipse cx="451.7" cy="101.2" rx="1.4" ry="0.5" transform="rotate(10 451.7 101.2)"/><ellipse cx="455.6" cy="129.4" rx="1.0" ry="0.4" transform="rotate(179 455.6 129.4)"/><ellipse cx="497.5" cy="131.7" rx="2.4" ry="0.7" transform="rotate(70 497.5 131.7)"/><ellipse cx="473.1" cy="134.4" rx="0.8" ry="0.3" transform="rotate(49 473.1 134.4)"/><ellipse cx="491.5" cy="131.6" rx="1.9" ry="0.7" transform="rotate(125 491.5 131.6)"/><ellipse cx="437.0" cy="122.5" rx="2.2" ry="0.7" transform="rotate(88 437.0 122.5)"/><ellipse cx="486.2" cy="91.5" rx="0.8" ry="0.4" transform="rotate(143 486.2 91.5)"/><ellipse cx="486.8" cy="44.8" rx="2.0" ry="0.6" transform="rotate(117 486.8 44.8)"/><ellipse cx="448.5" cy="159.0" rx="1.0" ry="0.4" transform="rotate(83 448.5 159.0)"/><ellipse cx="446.9" cy="73.4" rx="0.8" ry="0.4" transform="rotate(7 446.9 73.4)"/><ellipse cx="501.6" cy="123.3" rx="1.5" ry="0.4" transform="rotate(76 501.6 123.3)"/><ellipse cx="480.0" cy="155.9" rx="1.6" ry="0.6" transform="rotate(134 480.0 155.9)"/><ellipse cx="512.4" cy="78.5" rx="1.0" ry="0.3" transform="rotate(135 512.4 78.5)"/><ellipse cx="496.4" cy="54.6" rx="1.3" ry="0.7" transform="rotate(144 496.4 54.6)"/><ellipse cx="498.9" cy="119.6" rx="0.8" ry="0.3" transform="rotate(132 498.9 119.6)"/><ellipse cx="440.7" cy="44.8" rx="1.7" ry="0.5" transform="rotate(113 440.7 44.8)"/><ellipse cx="454.2" cy="50.2" rx="2.4" ry="0.7" transform="rotate(126 454.2 50.2)"/><ellipse cx="451.6" cy="133.8" rx="0.6" ry="0.3" transform="rotate(58 451.6 133.8)"/><ellipse cx="537.1" cy="44.4" rx="1.2" ry="0.4" transform="rotate(137 537.1 44.4)"/><ellipse cx="458.6" cy="49.5" rx="2.6" ry="0.7" transform="rotate(164 458.6 49.5)"/><ellipse cx="492.5" cy="50.6" rx="1.9" ry="0.7" transform="rotate(150 492.5 50.6)"/><ellipse cx="514.6" cy="102.8" rx="2.0" ry="0.8" transform="rotate(80 514.6 102.8)"/><ellipse cx="500.6" cy="138.5" rx="2.1" ry="0.6" transform="rotate(49 500.6 138.5)"/><ellipse cx="530.2" cy="149.8" rx="0.8" ry="0.5" transform="rotate(108 530.2 149.8)"/><ellipse cx="498.7" cy="160.0" rx="1.8" ry="0.6" transform="rotate(137 498.7 160.0)"/><ellipse cx="447.2" cy="123.4" rx="1.1" ry="0.5" transform="rotate(49 447.2 123.4)"/><ellipse cx="469.3" cy="131.8" rx="1.3" ry="0.6" transform="rotate(10 469.3 131.8)"/><ellipse cx="517.8" cy="134.2" rx="2.3" ry="0.7" transform="rotate(11 517.8 134.2)"/><ellipse cx="460.1" cy="97.8" rx="1.5" ry="0.4" transform="rotate(37 460.1 97.8)"/><ellipse cx="429.7" cy="96.4" rx="0.6" ry="0.3" transform="rotate(109 429.7 96.4)"/><ellipse cx="496.9" cy="107.8" rx="0.9" ry="0.3" transform="rotate(94 496.9 107.8)"/><ellipse cx="462.7" cy="67.9" rx="1.0" ry="0.4" transform="rotate(66 462.7 67.9)"/><ellipse cx="494.7" cy="124.3" rx="1.2" ry="0.4" transform="rotate(47 494.7 124.3)"/><ellipse cx="513.0" cy="65.5" rx="1.8" ry="0.6" transform="rotate(144 513.0 65.5)"/><ellipse cx="488.5" cy="154.0" rx="2.5" ry="0.8" transform="rotate(65 488.5 154.0)"/><ellipse cx="458.4" cy="118.3" rx="0.7" ry="0.4" transform="rotate(17 458.4 118.3)"/><ellipse cx="502.2" cy="88.4" rx="2.4" ry="0.7" transform="rotate(96 502.2 88.4)"/><ellipse cx="466.8" cy="80.1" rx="0.6" ry="0.3" transform="rotate(157 466.8 80.1)"/><ellipse cx="462.0" cy="41.0" rx="1.9" ry="0.8" transform="rotate(139 462.0 41.0)"/><ellipse cx="479.7" cy="161.1" rx="0.9" ry="0.3" transform="rotate(117 479.7 161.1)"/><ellipse cx="430.8" cy="154.7" rx="1.4" ry="0.5" transform="rotate(14 430.8 154.7)"/><ellipse cx="436.9" cy="50.8" rx="2.4" ry="0.7" transform="rotate(165 436.9 50.8)"/><ellipse cx="488.5" cy="51.4" rx="1.8" ry="0.7" transform="rotate(141 488.5 51.4)"/><ellipse cx="500.3" cy="110.8" rx="0.7" ry="0.4" transform="rotate(15 500.3 110.8)"/><ellipse cx="477.3" cy="76.1" rx="1.3" ry="0.8" transform="rotate(137 477.3 76.1)"/><ellipse cx="441.7" cy="52.9" rx="1.6" ry="0.7" transform="rotate(107 441.7 52.9)"/><ellipse cx="494.7" cy="89.9" rx="0.9" ry="0.5" transform="rotate(125 494.7 89.9)"/><ellipse cx="470.4" cy="115.1" rx="1.3" ry="0.7" transform="rotate(76 470.4 115.1)"/><ellipse cx="468.2" cy="156.5" rx="1.2" ry="0.6" transform="rotate(83 468.2 156.5)"/><ellipse cx="429.7" cy="104.3" rx="0.6" ry="0.3" transform="rotate(91 429.7 104.3)"/><ellipse cx="489.3" cy="66.6" rx="1.3" ry="0.6" transform="rotate(126 489.3 66.6)"/><ellipse cx="434.0" cy="145.2" rx="1.0" ry="0.5" transform="rotate(52 434.0 145.2)"/><ellipse cx="499.6" cy="51.9" rx="1.6" ry="0.7" transform="rotate(74 499.6 51.9)"/><ellipse cx="436.3" cy="97.0" rx="1.6" ry="0.8" transform="rotate(32 436.3 97.0)"/><ellipse cx="490.3" cy="120.0" rx="0.8" ry="0.4" transform="rotate(109 490.3 120.0)"/><ellipse cx="455.3" cy="43.5" rx="2.2" ry="0.6" transform="rotate(145 455.3 43.5)"/><ellipse cx="525.5" cy="66.6" rx="1.3" ry="0.4" transform="rotate(111 525.5 66.6)"/><ellipse cx="499.4" cy="109.1" rx="0.9" ry="0.4" transform="rotate(15 499.4 109.1)"/><ellipse cx="434.6" cy="112.6" rx="1.2" ry="0.3" transform="rotate(173 434.6 112.6)"/><ellipse cx="444.7" cy="160.7" rx="1.0" ry="0.6" transform="rotate(69 444.7 160.7)"/><ellipse cx="469.2" cy="78.6" rx="0.7" ry="0.3" transform="rotate(3 469.2 78.6)"/><ellipse cx="479.1" cy="100.2" rx="1.4" ry="0.4" transform="rotate(159 479.1 100.2)"/><ellipse cx="485.0" cy="140.2" rx="1.5" ry="0.5" transform="rotate(140 485.0 140.2)"/><ellipse cx="468.1" cy="132.5" rx="0.9" ry="0.5" transform="rotate(75 468.1 132.5)"/><ellipse cx="441.0" cy="129.8" rx="1.1" ry="0.4" transform="rotate(146 441.0 129.8)"/><ellipse cx="496.2" cy="153.6" rx="2.0" ry="0.6" transform="rotate(133 496.2 153.6)"/><ellipse cx="506.7" cy="154.8" rx="1.7" ry="0.6" transform="rotate(99 506.7 154.8)"/><ellipse cx="488.9" cy="157.7" rx="0.9" ry="0.4" transform="rotate(90 488.9 157.7)"/><ellipse cx="463.5" cy="129.3" rx="1.0" ry="0.6" transform="rotate(38 463.5 129.3)"/><ellipse cx="498.6" cy="89.5" rx="1.6" ry="0.6" transform="rotate(20 498.6 89.5)"/><ellipse cx="506.6" cy="161.7" rx="1.0" ry="0.3" transform="rotate(110 506.6 161.7)"/><ellipse cx="497.8" cy="103.2" rx="2.0" ry="0.5" transform="rotate(157 497.8 103.2)"/><ellipse cx="477.6" cy="141.6" rx="2.0" ry="0.6" transform="rotate(180 477.6 141.6)"/><ellipse cx="436.1" cy="66.5" rx="1.4" ry="0.4" transform="rotate(166 436.1 66.5)"/><ellipse cx="453.8" cy="100.7" rx="2.3" ry="0.7" transform="rotate(106 453.8 100.7)"/><ellipse cx="529.8" cy="155.5" rx="1.2" ry="0.3" transform="rotate(52 529.8 155.5)"/><ellipse cx="498.0" cy="134.1" rx="1.0" ry="0.4" transform="rotate(163 498.0 134.1)"/><ellipse cx="518.2" cy="162.1" rx="1.0" ry="0.3" transform="rotate(133 518.2 162.1)"/><ellipse cx="537.0" cy="130.7" rx="0.8" ry="0.4" transform="rotate(31 537.0 130.7)"/><ellipse cx="457.5" cy="111.3" rx="0.9" ry="0.5" transform="rotate(16 457.5 111.3)"/><ellipse cx="506.2" cy="141.8" rx="1.0" ry="0.4" transform="rotate(176 506.2 141.8)"/><ellipse cx="469.1" cy="106.8" rx="1.2" ry="0.7" transform="rotate(157 469.1 106.8)"/><ellipse cx="516.3" cy="132.0" rx="1.2" ry="0.5" transform="rotate(169 516.3 132.0)"/><ellipse cx="435.0" cy="50.3" rx="2.2" ry="0.6" transform="rotate(27 435.0 50.3)"/><ellipse cx="449.5" cy="97.5" rx="1.9" ry="0.7" transform="rotate(119 449.5 97.5)"/><ellipse cx="433.9" cy="64.9" rx="1.8" ry="0.6" transform="rotate(16 433.9 64.9)"/><ellipse cx="438.3" cy="79.3" rx="1.2" ry="0.5" transform="rotate(31 438.3 79.3)"/><ellipse cx="436.4" cy="120.7" rx="2.2" ry="0.8" transform="rotate(165 436.4 120.7)"/><ellipse cx="442.5" cy="117.0" rx="1.6" ry="0.5" transform="rotate(108 442.5 117.0)"/><ellipse cx="498.0" cy="154.3" rx="1.5" ry="0.8" transform="rotate(79 498.0 154.3)"/><ellipse cx="437.7" cy="110.0" rx="1.2" ry="0.4" transform="rotate(64 437.7 110.0)"/><ellipse cx="428.9" cy="151.0" rx="0.8" ry="0.4" transform="rotate(94 428.9 151.0)"/><ellipse cx="434.5" cy="136.5" rx="1.2" ry="0.6" transform="rotate(112 434.5 136.5)"/><ellipse cx="442.7" cy="106.3" rx="0.8" ry="0.3" transform="rotate(81 442.7 106.3)"/><ellipse cx="490.1" cy="121.7" rx="1.7" ry="0.7" transform="rotate(63 490.1 121.7)"/><ellipse cx="451.9" cy="132.2" rx="1.0" ry="0.5" transform="rotate(35 451.9 132.2)"/><ellipse cx="475.9" cy="144.6" rx="1.7" ry="0.5" transform="rotate(85 475.9 144.6)"/><ellipse cx="494.3" cy="71.9" rx="1.5" ry="0.5" transform="rotate(15 494.3 71.9)"/><ellipse cx="479.8" cy="71.6" rx="1.0" ry="0.4" transform="rotate(36 479.8 71.6)"/><ellipse cx="493.7" cy="45.1" rx="0.9" ry="0.4" transform="rotate(33 493.7 45.1)"/><ellipse cx="523.1" cy="125.8" rx="1.4" ry="0.7" transform="rotate(34 523.1 125.8)"/><ellipse cx="463.7" cy="103.6" rx="2.3" ry="0.7" transform="rotate(155 463.7 103.6)"/><ellipse cx="430.0" cy="43.4" rx="1.2" ry="0.5" transform="rotate(1 430.0 43.4)"/><ellipse cx="467.9" cy="56.0" rx="1.5" ry="0.7" transform="rotate(57 467.9 56.0)"/><ellipse cx="447.9" cy="146.0" rx="0.9" ry="0.4" transform="rotate(40 447.9 146.0)"/><ellipse cx="456.1" cy="164.3" rx="2.0" ry="0.6" transform="rotate(64 456.1 164.3)"/><ellipse cx="539.4" cy="160.7" rx="1.3" ry="0.6" transform="rotate(9 539.4 160.7)"/><ellipse cx="490.1" cy="100.8" rx="2.6" ry="0.7" transform="rotate(147 490.1 100.8)"/><ellipse cx="455.6" cy="163.1" rx="1.0" ry="0.6" transform="rotate(37 455.6 163.1)"/><ellipse cx="537.3" cy="139.5" rx="2.0" ry="0.7" transform="rotate(4 537.3 139.5)"/><ellipse cx="534.8" cy="77.2" rx="1.8" ry="0.7" transform="rotate(88 534.8 77.2)"/><ellipse cx="488.0" cy="154.8" rx="1.7" ry="0.7" transform="rotate(153 488.0 154.8)"/><ellipse cx="448.0" cy="83.7" rx="0.8" ry="0.5" transform="rotate(72 448.0 83.7)"/><ellipse cx="428.2" cy="161.1" rx="1.8" ry="0.7" transform="rotate(11 428.2 161.1)"/><ellipse cx="458.0" cy="136.6" rx="0.8" ry="0.4" transform="rotate(77 458.0 136.6)"/><ellipse cx="493.9" cy="55.8" rx="1.3" ry="0.5" transform="rotate(134 493.9 55.8)"/><ellipse cx="474.4" cy="163.9" rx="1.3" ry="0.4" transform="rotate(14 474.4 163.9)"/><ellipse cx="532.3" cy="108.1" rx="1.3" ry="0.4" transform="rotate(159 532.3 108.1)"/><ellipse cx="442.8" cy="150.3" rx="1.8" ry="0.8" transform="rotate(142 442.8 150.3)"/><ellipse cx="510.1" cy="110.9" rx="1.1" ry="0.5" transform="rotate(147 510.1 110.9)"/><ellipse cx="517.2" cy="158.2" rx="0.9" ry="0.3" transform="rotate(127 517.2 158.2)"/><ellipse cx="452.8" cy="42.6" rx="2.4" ry="0.7" transform="rotate(128 452.8 42.6)"/><ellipse cx="465.9" cy="94.8" rx="1.3" ry="0.7" transform="rotate(130 465.9 94.8)"/><ellipse cx="508.6" cy="97.9" rx="2.2" ry="0.8" transform="rotate(159 508.6 97.9)"/><ellipse cx="450.1" cy="91.0" rx="1.2" ry="0.4" transform="rotate(136 450.1 91.0)"/><ellipse cx="541.0" cy="153.8" rx="2.6" ry="0.7" transform="rotate(132 541.0 153.8)"/><ellipse cx="512.0" cy="51.4" rx="1.3" ry="0.5" transform="rotate(19 512.0 51.4)"/><ellipse cx="530.8" cy="86.6" rx="0.8" ry="0.4" transform="rotate(97 530.8 86.6)"/><ellipse cx="466.4" cy="158.5" rx="1.5" ry="0.6" transform="rotate(28 466.4 158.5)"/><ellipse cx="433.6" cy="126.0" rx="1.6" ry="0.6" transform="rotate(91 433.6 126.0)"/><ellipse cx="474.8" cy="153.3" rx="0.7" ry="0.3" transform="rotate(143 474.8 153.3)"/><ellipse cx="463.9" cy="81.5" rx="1.1" ry="0.5" transform="rotate(137 463.9 81.5)"/><ellipse cx="438.9" cy="109.4" rx="1.5" ry="0.6" transform="rotate(131 438.9 109.4)"/><ellipse cx="468.5" cy="117.8" rx="0.8" ry="0.3" transform="rotate(101 468.5 117.8)"/><ellipse cx="497.7" cy="98.0" rx="0.9" ry="0.3" transform="rotate(156 497.7 98.0)"/><ellipse cx="459.0" cy="66.0" rx="1.3" ry="0.6" transform="rotate(18 459.0 66.0)"/><ellipse cx="436.5" cy="118.1" rx="2.3" ry="0.7" transform="rotate(106 436.5 118.1)"/><ellipse cx="527.7" cy="146.0" rx="1.0" ry="0.4" transform="rotate(175 527.7 146.0)"/><ellipse cx="535.4" cy="120.1" rx="1.4" ry="0.6" transform="rotate(16 535.4 120.1)"/><ellipse cx="465.5" cy="68.9" rx="1.8" ry="0.6" transform="rotate(113 465.5 68.9)"/><ellipse cx="531.9" cy="40.1" rx="0.7" ry="0.4" transform="rotate(67 531.9 40.1)"/><ellipse cx="532.2" cy="98.5" rx="1.4" ry="0.7" transform="rotate(64 532.2 98.5)"/><ellipse cx="519.1" cy="76.6" rx="1.9" ry="0.7" transform="rotate(118 519.1 76.6)"/><ellipse cx="431.3" cy="85.0" rx="1.9" ry="0.8" transform="rotate(50 431.3 85.0)"/><ellipse cx="541.9" cy="113.7" rx="1.7" ry="0.6" transform="rotate(112 541.9 113.7)"/><ellipse cx="472.4" cy="74.4" rx="0.9" ry="0.4" transform="rotate(125 472.4 74.4)"/><ellipse cx="438.0" cy="54.6" rx="2.0" ry="0.5" transform="rotate(141 438.0 54.6)"/><ellipse cx="504.2" cy="132.7" rx="1.1" ry="0.4" transform="rotate(3 504.2 132.7)"/><ellipse cx="487.3" cy="44.0" rx="0.7" ry="0.4" transform="rotate(62 487.3 44.0)"/><ellipse cx="482.2" cy="67.3" rx="0.6" ry="0.3" transform="rotate(171 482.2 67.3)"/><ellipse cx="540.3" cy="154.2" rx="0.8" ry="0.4" transform="rotate(158 540.3 154.2)"/><ellipse cx="429.8" cy="58.6" rx="2.2" ry="0.6" transform="rotate(167 429.8 58.6)"/><ellipse cx="524.3" cy="79.7" rx="2.3" ry="0.7" transform="rotate(162 524.3 79.7)"/><ellipse cx="538.7" cy="135.3" rx="2.1" ry="0.7" transform="rotate(76 538.7 135.3)"/><ellipse cx="493.3" cy="156.2" rx="1.0" ry="0.6" transform="rotate(81 493.3 156.2)"/><ellipse cx="527.3" cy="128.6" rx="1.9" ry="0.5" transform="rotate(136 527.3 128.6)"/><ellipse cx="453.6" cy="127.7" rx="1.2" ry="0.7" transform="rotate(169 453.6 127.7)"/><ellipse cx="477.2" cy="146.0" rx="0.7" ry="0.3" transform="rotate(55 477.2 146.0)"/><ellipse cx="452.8" cy="122.2" rx="2.0" ry="0.7" transform="rotate(164 452.8 122.2)"/><ellipse cx="441.0" cy="75.8" rx="1.6" ry="0.5" transform="rotate(133 441.0 75.8)"/><ellipse cx="541.0" cy="149.1" rx="1.7" ry="0.6" transform="rotate(147 541.0 149.1)"/><ellipse cx="487.3" cy="124.9" rx="2.4" ry="0.7" transform="rotate(28 487.3 124.9)"/><ellipse cx="431.4" cy="128.4" rx="1.4" ry="0.7" transform="rotate(153 431.4 128.4)"/><ellipse cx="514.3" cy="60.5" rx="1.1" ry="0.4" transform="rotate(112 514.3 60.5)"/><ellipse cx="446.2" cy="153.5" rx="1.3" ry="0.4" transform="rotate(170 446.2 153.5)"/><ellipse cx="441.8" cy="127.6" rx="2.0" ry="0.6" transform="rotate(80 441.8 127.6)"/><ellipse cx="475.0" cy="69.1" rx="1.6" ry="0.7" transform="rotate(164 475.0 69.1)"/><ellipse cx="431.9" cy="151.1" rx="1.0" ry="0.3" transform="rotate(171 431.9 151.1)"/><ellipse cx="464.7" cy="113.9" rx="0.9" ry="0.5" transform="rotate(151 464.7 113.9)"/><ellipse cx="484.3" cy="140.2" rx="0.6" ry="0.3" transform="rotate(41 484.3 140.2)"/><ellipse cx="521.1" cy="42.9" rx="0.8" ry="0.3" transform="rotate(70 521.1 42.9)"/><ellipse cx="524.5" cy="147.3" rx="1.3" ry="0.4" transform="rotate(64 524.5 147.3)"/><ellipse cx="515.4" cy="122.4" rx="0.9" ry="0.3" transform="rotate(76 515.4 122.4)"/><ellipse cx="480.4" cy="109.4" rx="1.6" ry="0.6" transform="rotate(94 480.4 109.4)"/><ellipse cx="522.3" cy="125.1" rx="0.8" ry="0.4" transform="rotate(49 522.3 125.1)"/><ellipse cx="536.4" cy="88.4" rx="2.6" ry="0.7" transform="rotate(126 536.4 88.4)"/><ellipse cx="470.1" cy="133.1" rx="1.9" ry="0.5" transform="rotate(90 470.1 133.1)"/><ellipse cx="500.5" cy="125.6" rx="1.2" ry="0.6" transform="rotate(102 500.5 125.6)"/><ellipse cx="476.8" cy="125.0" rx="1.4" ry="0.7" transform="rotate(67 476.8 125.0)"/><ellipse cx="457.2" cy="160.2" rx="1.4" ry="0.5" transform="rotate(174 457.2 160.2)"/><ellipse cx="517.2" cy="147.4" rx="1.0" ry="0.5" transform="rotate(67 517.2 147.4)"/><ellipse cx="437.6" cy="90.0" rx="1.4" ry="0.5" transform="rotate(176 437.6 90.0)"/><ellipse cx="488.7" cy="60.7" rx="1.2" ry="0.4" transform="rotate(93 488.7 60.7)"/><ellipse cx="474.7" cy="101.7" rx="1.5" ry="0.5" transform="rotate(107 474.7 101.7)"/><ellipse cx="433.5" cy="102.0" rx="1.2" ry="0.4" transform="rotate(83 433.5 102.0)"/><ellipse cx="514.7" cy="160.6" rx="1.9" ry="0.7" transform="rotate(91 514.7 160.6)"/><ellipse cx="440.9" cy="131.3" rx="1.0" ry="0.4" transform="rotate(105 440.9 131.3)"/><ellipse cx="458.2" cy="147.9" rx="2.0" ry="0.6" transform="rotate(4 458.2 147.9)"/><ellipse cx="480.9" cy="80.3" rx="1.7" ry="0.6" transform="rotate(106 480.9 80.3)"/><ellipse cx="535.1" cy="95.1" rx="1.5" ry="0.5" transform="rotate(100 535.1 95.1)"/><ellipse cx="458.7" cy="155.2" rx="0.7" ry="0.4" transform="rotate(97 458.7 155.2)"/><ellipse cx="531.8" cy="146.8" rx="2.0" ry="0.7" transform="rotate(92 531.8 146.8)"/><ellipse cx="461.1" cy="60.6" rx="1.7" ry="0.5" transform="rotate(100 461.1 60.6)"/><ellipse cx="539.9" cy="140.0" rx="1.6" ry="0.6" transform="rotate(75 539.9 140.0)"/><ellipse cx="531.4" cy="144.1" rx="1.3" ry="0.4" transform="rotate(122 531.4 144.1)"/><ellipse cx="469.1" cy="133.1" rx="1.5" ry="0.5" transform="rotate(91 469.1 133.1)"/><ellipse cx="499.9" cy="155.1" rx="1.9" ry="0.7" transform="rotate(70 499.9 155.1)"/><ellipse cx="509.5" cy="123.4" rx="0.9" ry="0.3" transform="rotate(50 509.5 123.4)"/><ellipse cx="501.9" cy="60.9" rx="1.0" ry="0.4" transform="rotate(50 501.9 60.9)"/><ellipse cx="492.5" cy="147.9" rx="1.8" ry="0.6" transform="rotate(137 492.5 147.9)"/><ellipse cx="472.6" cy="93.5" rx="1.3" ry="0.6" transform="rotate(136 472.6 93.5)"/><ellipse cx="533.0" cy="150.1" rx="1.2" ry="0.3" transform="rotate(40 533.0 150.1)"/><ellipse cx="442.8" cy="117.1" rx="0.9" ry="0.5" transform="rotate(109 442.8 117.1)"/><ellipse cx="489.2" cy="107.1" rx="1.6" ry="0.5" transform="rotate(140 489.2 107.1)"/><ellipse cx="510.2" cy="128.2" rx="1.8" ry="0.7" transform="rotate(115 510.2 128.2)"/><ellipse cx="440.9" cy="50.2" rx="1.6" ry="0.5" transform="rotate(42 440.9 50.2)"/></g>
</g>
<g fill="#00C5FF">
<ellipse cx="498.2" cy="33.4" rx="9" ry="5.6" transform="rotate(8 498.2 33.4)"/>
<ellipse cx="443.6" cy="73.3" rx="3.4" ry="2.8"/>
<ellipse cx="445" cy="66.5" rx="1.2" ry="0.8"/>
<ellipse cx="456.5" cy="70.5" rx="1.6" ry="0.8" transform="rotate(0 456.5 70.5)"/>
<ellipse cx="461" cy="70.8" rx="1.3" ry="0.8" transform="rotate(20 461 70.8)"/>
<ellipse cx="465" cy="71.5" rx="1.2" ry="0.9" transform="rotate(60 465 71.5)"/>
<ellipse cx="468.5" cy="70.5" rx="1.4" ry="0.8" transform="rotate(-50 468.5 70.5)"/>
<ellipse cx="471.5" cy="69.5" rx="1.0" ry="1.5" transform="rotate(20 471.5 69.5)"/>
<ellipse cx="457" cy="65.5" rx="0.8" ry="0.8" transform="rotate(0 457 65.5)"/>
<ellipse cx="533.3" cy="58.5" rx="1.3" ry="3.2" transform="rotate(-25 533.3 58.5)"/>
<ellipse cx="540" cy="70" rx="1.0" ry="1.6" transform="rotate(0 540 70)"/>
<ellipse cx="514.6" cy="100.2" rx="4.4" ry="2.0" transform="rotate(-35 514.6 100.2)"/>
<ellipse cx="508.5" cy="105" rx="2.6" ry="1.1" transform="rotate(-38 508.5 105)"/>
<ellipse cx="503" cy="109" rx="2.6" ry="0.6" transform="rotate(-35 503 109)"/>
<ellipse cx="497.5" cy="112.5" rx="2.4" ry="0.5" transform="rotate(-30 497.5 112.5)"/>
<ellipse cx="536" cy="82" rx="1.4" ry="1.0" transform="rotate(0 536 82)"/>
<ellipse cx="531.5" cy="86" rx="1.0" ry="1.0" transform="rotate(0 531.5 86)"/>
<ellipse cx="506.5" cy="94.3" rx="1.6" ry="1.0" transform="rotate(0 506.5 94.3)"/>
<ellipse cx="482" cy="86" rx="1.5" ry="1" transform="rotate(0 482 86)"/>
<ellipse cx="486.5" cy="84.5" rx="1" ry="1" transform="rotate(0 486.5 84.5)"/>
<ellipse cx="492.3" cy="120" rx="0.8" ry="3.5" transform="rotate(5 492.3 120)"/>
<ellipse cx="513.3" cy="138.5" rx="1.2" ry="2.2" transform="rotate(20 513.3 138.5)"/>
<ellipse cx="451.5" cy="126" rx="0.8" ry="3.6" transform="rotate(30 451.5 126)"/>
<ellipse cx="450.4" cy="84.5" rx="1.6" ry="1.0" transform="rotate(0 450.4 84.5)"/>
<ellipse cx="454" cy="88" rx="1" ry="1" transform="rotate(0 454 88)"/>
<ellipse cx="492.6" cy="100.5" rx="0.7" ry="2.2" transform="rotate(0 492.6 100.5)"/>
<ellipse cx="492.6" cy="122" rx="0.7" ry="2" transform="rotate(0 492.6 122)"/>
<ellipse cx="476" cy="77" rx="1" ry="1" transform="rotate(0 476 77)"/>
<ellipse cx="484" cy="90.5" rx="1.2" ry="0.8" transform="rotate(0 484 90.5)"/>
<ellipse cx="450" cy="142" rx="0.8" ry="1.6" transform="rotate(20 450 142)"/>
<ellipse cx="489" cy="152" rx="1" ry="1.6" transform="rotate(30 489 152)"/>
<ellipse cx="500" cy="78" rx="1" ry="1" transform="rotate(0 500 78)"/>
<ellipse cx="521" cy="52" rx="1" ry="1.4" transform="rotate(0 521 52)"/>
<ellipse cx="487" cy="28" rx="1" ry="1.5" transform="rotate(0 487 28)"/>
<ellipse cx="483.5" cy="24.5" rx="0.8" ry="0.8" transform="rotate(0 483.5 24.5)"/>
<ellipse cx="509" cy="31" rx="1" ry="1.2" transform="rotate(0 509 31)"/>
<ellipse cx="514" cy="37" rx="1" ry="1.8" transform="rotate(-20 514 37)"/>
<ellipse cx="519" cy="44" rx="0.8" ry="1.6" transform="rotate(-20 519 44)"/>
</g>
</g>
<text x="398" y="17.5" font-size="12.4" fill="#000" stroke="#000" stroke-width="0.3">(b) 1948</text>
<g stroke="#222" stroke-width="0.8" fill="none"><path d="M397.8,174.5V177.7H499.4V174.5M410.5,177.7v-2.0M423.2,177.7v-2.8M435.9,177.7v-2.0M448.6,177.7v-2.8M461.3,177.7v-2.0M474.0,177.7v-2.8M486.7,177.7v-2.0"/></g><g font-size="5.1" fill="#111" text-anchor="middle"><text x="397.8" y="171.7">0</text><text x="423.2" y="171.7">50</text><text x="448.6" y="171.7">100</text><text x="507.9" y="171.7">200 Meters</text></g>
<rect x="393.7" y="191.6" width="179" height="178.8" fill="#fff" stroke="#6e6e6e" stroke-width="1.1"/>
<g transform="translate(0.6,189)"><use href="#ol" fill="#A87000"/></g>
<g clip-path="url(#cpoc)">
<clipPath id="cA"><path d="M458.4,209.1C460.3,205.6 460.1,205.7 464.4,204.1C468.7,202.5 471.3,201.2 474.5,203.1C477.7,205.0 475.7,206.3 476.5,211.1C477.3,215.9 477.0,216.1 477.5,221.2C478.0,226.3 479.3,226.0 478.5,230.3C477.7,234.6 477.4,235.4 474.5,237.3C471.6,239.2 470.7,238.6 467.5,237.3C464.3,236.0 464.6,235.5 462.4,232.3C460.2,229.1 460.7,229.2 459.4,225.2C458.1,221.2 457.7,221.5 457.4,217.2C457.1,212.9 456.5,212.6 458.4,209.1Z"/></clipPath>
<g clip-path="url(#cA)">
<path d="M458.4,209.1C460.3,205.6 460.1,205.7 464.4,204.1C468.7,202.5 471.3,201.2 474.5,203.1C477.7,205.0 475.7,206.3 476.5,211.1C477.3,215.9 477.0,216.1 477.5,221.2C478.0,226.3 479.3,226.0 478.5,230.3C477.7,234.6 477.4,235.4 474.5,237.3C471.6,239.2 470.7,238.6 467.5,237.3C464.3,236.0 464.6,235.5 462.4,232.3C460.2,229.1 460.7,229.2 459.4,225.2C458.1,221.2 457.7,221.5 457.4,217.2C457.1,212.9 456.5,212.6 458.4,209.1Z" fill="#8400A8" opacity="0.10"/>
<g fill="none" stroke="#8400A8" stroke-linecap="round"><path d="M476.9,214.8Q477.0,212.7 478.4,211.2" stroke-width="1.09"/><path d="M461.7,226.2Q463.1,225.1 463.7,223.4" stroke-width="1.69"/><path d="M467.2,224.3Q467.2,222.7 466.2,221.5" stroke-width="1.52"/><path d="M459.4,222.8Q458.9,221.2 458.2,219.7" stroke-width="1.63"/><path d="M456.5,213.7Q459.0,211.7 459.6,208.6" stroke-width="1.18"/><path d="M464.0,222.5Q465.1,221.2 466.1,219.7" stroke-width="1.34"/><path d="M460.8,222.9Q460.9,220.7 461.8,218.7" stroke-width="1.33"/><path d="M461.1,236.3Q462.0,235.4 462.6,234.4" stroke-width="1.30"/><path d="M461.4,234.1Q461.7,232.5 462.3,231.0" stroke-width="1.08"/><path d="M466.5,209.7Q465.9,207.6 466.5,205.6" stroke-width="1.71"/><path d="M458.6,220.8Q459.1,218.4 461.0,216.8" stroke-width="1.36"/><path d="M475.7,207.2Q475.3,205.4 475.8,203.6" stroke-width="1.36"/><path d="M475.5,230.9Q475.5,229.1 475.6,227.3" stroke-width="1.06"/><path d="M474.5,234.0Q475.9,231.6 478.3,230.0" stroke-width="1.01"/><path d="M466.9,215.2Q467.9,213.4 469.0,211.7" stroke-width="1.31"/><path d="M472.3,226.7Q473.6,225.8 474.6,224.5" stroke-width="1.23"/><path d="M467.4,222.7Q466.8,220.2 465.4,218.0" stroke-width="1.21"/><path d="M466.3,204.4Q468.3,203.2 470.3,202.3" stroke-width="1.43"/><path d="M464.0,237.7Q465.7,237.4 466.9,236.3" stroke-width="1.16"/><path d="M473.4,230.0Q473.4,228.3 472.5,226.7" stroke-width="1.15"/><path d="M467.9,223.4Q468.8,220.8 471.0,219.3" stroke-width="1.47"/><path d="M471.6,224.1Q471.5,222.6 472.3,221.4" stroke-width="0.99"/><path d="M464.5,215.1Q464.2,213.7 464.3,212.1" stroke-width="1.08"/><path d="M471.3,233.7Q472.2,233.1 473.3,232.6" stroke-width="1.66"/><path d="M468.6,222.2Q468.4,220.3 469.4,218.6" stroke-width="1.44"/><path d="M473.3,221.8Q473.1,219.0 472.9,216.3" stroke-width="1.21"/><path d="M461.8,237.8Q463.7,236.5 465.7,235.4" stroke-width="1.31"/><path d="M469.0,215.4Q469.3,212.5 471.1,210.2" stroke-width="1.18"/><path d="M475.2,223.7Q475.5,221.5 477.0,219.9" stroke-width="1.41"/><path d="M467.4,217.0Q468.7,215.6 469.9,214.1" stroke-width="1.18"/><path d="M458.9,216.6Q459.4,215.6 459.1,214.5" stroke-width="1.68"/><path d="M462.8,214.0Q463.8,212.1 465.4,210.7" stroke-width="1.21"/><path d="M477.1,205.6Q476.7,204.6 476.6,203.5" stroke-width="1.18"/><path d="M469.7,217.0Q470.9,215.4 472.3,213.9" stroke-width="1.48"/><path d="M474.7,213.9Q474.6,211.7 475.8,209.8" stroke-width="1.35"/><path d="M474.8,236.3Q475.0,234.4 476.5,233.1" stroke-width="1.43"/><path d="M467.9,231.8Q468.3,229.6 469.3,227.6" stroke-width="1.18"/><path d="M465.8,205.8Q464.9,203.5 465.0,201.0" stroke-width="1.73"/><path d="M473.9,208.3Q473.8,206.6 472.8,205.2" stroke-width="1.66"/><path d="M474.2,209.6Q474.0,208.1 474.2,206.7" stroke-width="1.00"/><path d="M467.8,212.2Q469.6,209.9 469.4,206.9" stroke-width="1.28"/><path d="M457.6,236.9Q458.7,234.1 457.6,231.3" stroke-width="1.71"/><path d="M462.3,227.8Q463.7,225.6 463.6,222.9" stroke-width="1.17"/><path d="M473.4,209.0Q472.9,207.3 472.3,205.7" stroke-width="1.09"/><path d="M469.7,217.2Q470.5,214.7 472.5,212.9" stroke-width="1.62"/><path d="M459.6,222.9Q460.8,221.3 462.7,220.7" stroke-width="1.24"/><path d="M471.5,207.8Q469.9,205.3 469.2,202.5" stroke-width="1.08"/><path d="M470.0,220.5Q471.8,219.5 472.8,217.8" stroke-width="1.63"/><path d="M469.0,230.8Q470.1,228.6 471.3,226.5" stroke-width="1.21"/><path d="M469.6,219.8Q471.4,218.0 472.8,215.8" stroke-width="1.04"/><path d="M457.8,211.4Q458.3,210.5 458.7,209.5" stroke-width="1.66"/><path d="M458.5,238.0Q458.4,236.8 458.1,235.6" stroke-width="1.17"/><path d="M469.5,215.9Q470.2,215.2 471.1,214.7" stroke-width="1.54"/><path d="M476.9,213.9Q478.3,211.7 479.8,209.7" stroke-width="1.19"/><path d="M465.4,235.7Q465.6,234.1 466.8,233.0" stroke-width="1.33"/><path d="M474.5,223.1Q474.3,221.4 474.6,219.7" stroke-width="1.27"/><path d="M478.5,208.9Q478.0,206.2 478.5,203.5" stroke-width="1.34"/><path d="M473.7,206.9Q473.4,204.6 472.7,202.3" stroke-width="1.55"/><path d="M471.2,222.6Q472.8,220.5 473.0,217.9" stroke-width="1.38"/><path d="M473.6,210.6Q474.0,208.6 473.0,206.8" stroke-width="1.65"/><path d="M464.3,217.9Q465.2,215.6 465.4,213.2" stroke-width="1.10"/><path d="M466.3,236.5Q465.8,233.5 466.3,230.5" stroke-width="1.51"/><path d="M476.9,209.9Q477.2,208.5 476.4,207.3" stroke-width="1.38"/><path d="M464.3,236.1Q466.5,235.1 467.5,232.9" stroke-width="1.34"/><path d="M467.2,220.2Q469.2,219.3 470.9,218.0" stroke-width="1.62"/><path d="M463.9,210.8Q463.1,209.7 463.0,208.3" stroke-width="1.29"/><path d="M465.2,218.3Q463.4,216.0 463.6,213.0" stroke-width="1.64"/><path d="M469.5,209.0Q471.4,206.7 474.0,205.2" stroke-width="1.25"/><path d="M458.6,227.1Q458.5,225.5 457.8,224.1" stroke-width="1.50"/><path d="M465.7,206.0Q466.3,204.5 467.6,203.5" stroke-width="1.58"/><path d="M476.4,210.0Q477.3,208.9 477.9,207.6" stroke-width="1.14"/><path d="M471.6,204.5Q473.5,203.5 474.9,202.0" stroke-width="1.20"/><path d="M466.1,237.4Q466.3,234.8 468.3,233.0" stroke-width="1.17"/><path d="M461.4,227.4Q461.4,224.9 461.4,222.3" stroke-width="1.54"/><path d="M464.7,238.0Q464.3,235.5 464.1,233.1" stroke-width="1.69"/><path d="M468.0,237.4Q467.6,235.5 466.6,233.9" stroke-width="1.38"/><path d="M469.8,224.5Q469.9,221.8 468.7,219.3" stroke-width="1.53"/><path d="M468.9,218.1Q468.0,217.1 468.1,215.8" stroke-width="1.54"/><path d="M468.5,207.3Q469.9,206.2 470.4,204.6" stroke-width="1.27"/><path d="M464.2,217.9Q464.9,216.9 466.0,216.5" stroke-width="1.41"/><path d="M461.7,220.1Q462.7,218.6 462.9,216.9" stroke-width="1.56"/><path d="M477.5,227.5Q477.0,224.6 476.7,221.7" stroke-width="1.38"/><path d="M471.5,216.7Q471.7,215.5 472.5,214.6" stroke-width="1.50"/><path d="M457.9,232.4Q458.5,231.4 458.6,230.3" stroke-width="1.21"/><path d="M462.9,226.5Q462.3,224.1 461.7,221.8" stroke-width="1.02"/><path d="M457.3,206.8Q458.3,206.2 459.2,205.2" stroke-width="1.09"/><path d="M475.5,217.3Q475.8,215.3 475.2,213.4" stroke-width="1.37"/><path d="M457.6,222.5Q458.7,219.8 459.0,216.9" stroke-width="1.47"/><path d="M468.0,222.4Q467.3,220.1 468.0,217.9" stroke-width="1.74"/><path d="M478.0,233.2Q478.3,230.7 477.4,228.5" stroke-width="1.13"/><path d="M475.2,219.0Q475.5,218.0 475.1,217.0" stroke-width="1.19"/><path d="M475.1,211.6Q476.4,209.2 478.6,207.6" stroke-width="1.27"/><path d="M467.5,228.2Q469.0,226.2 471.0,224.8" stroke-width="1.10"/><path d="M462.0,230.9Q462.9,229.9 463.2,228.6" stroke-width="1.43"/><path d="M459.9,218.1Q461.1,215.4 462.3,212.8" stroke-width="1.00"/><path d="M461.2,208.1Q463.3,207.2 464.7,205.3" stroke-width="1.09"/><path d="M472.1,226.7Q473.3,225.6 474.0,224.1" stroke-width="1.40"/></g>
<g fill="none" stroke="#A87000"><path d="M472.6,209.4Q469.8,206.9 466.3,205.8" stroke-width="2.22" stroke-dasharray="3.1 0.9 1.0 0.8"/><path d="M472.6,205.9Q469.3,202.7 464.9,201.6" stroke-width="1.36" stroke-dasharray="3.5 0.7 1.7 1.4"/><path d="M481.5,223.0Q478.8,220.2 474.9,220.6" stroke-width="1.20" stroke-dasharray="3.1 1.6 1.9 0.7"/><path d="M479.0,232.5Q474.8,233.3 470.9,231.7" stroke-width="1.39" stroke-dasharray="1.5 1.7 0.8 1.1"/><path d="M465.0,220.3Q461.9,219.3 458.7,220.0" stroke-width="1.76" stroke-dasharray="3.1 1.1 2.4 1.4"/><path d="M475.4,226.7Q472.1,222.9 471.5,217.9" stroke-width="2.07" stroke-dasharray="3.0 1.2 2.5 1.3"/><path d="M463.7,220.1Q458.5,216.8 458.0,210.6" stroke-width="2.11" stroke-dasharray="4.0 1.4 2.0 1.1"/><path d="M480.2,221.2Q476.2,217.6 470.9,216.4" stroke-width="2.22" stroke-dasharray="1.3 0.9 1.7 1.5"/></g>
</g>
<clipPath id="cB"><path d="M496.4,235.0C499.6,231.3 499.7,230.6 504.5,229.0C509.3,227.4 510.2,226.9 514.5,229.0C518.8,231.1 517.8,232.2 520.5,237.0C523.2,241.8 521.9,242.2 524.6,247.0C527.3,251.8 527.4,252.2 530.6,255.0C533.8,257.8 536.7,255.4 536.7,257.5C536.7,259.6 533.8,259.4 530.6,263.0C527.4,266.6 526.2,266.7 524.6,271.0C523.0,275.3 526.2,275.3 524.5,279.0C522.8,282.7 522.1,281.8 518.3,285.0C514.5,288.2 514.4,288.1 510.3,291.0C506.2,293.9 506.5,295.5 503.0,296.0C499.5,296.5 499.3,295.9 497.0,293.0C494.7,290.1 494.2,289.3 494.2,285.0C494.2,280.7 495.9,280.7 497.0,277.0C498.1,273.3 497.5,275.0 498.4,271.3C499.3,267.6 500.4,267.3 500.4,263.0C500.4,258.7 499.5,259.3 498.4,255.0C497.3,250.7 498.0,250.2 496.4,247.0C494.8,243.8 492.4,246.2 492.4,243.0C492.4,239.8 493.2,238.7 496.4,235.0Z"/></clipPath>
<g clip-path="url(#cB)">
<path d="M496.4,235.0C499.6,231.3 499.7,230.6 504.5,229.0C509.3,227.4 510.2,226.9 514.5,229.0C518.8,231.1 517.8,232.2 520.5,237.0C523.2,241.8 521.9,242.2 524.6,247.0C527.3,251.8 527.4,252.2 530.6,255.0C533.8,257.8 536.7,255.4 536.7,257.5C536.7,259.6 533.8,259.4 530.6,263.0C527.4,266.6 526.2,266.7 524.6,271.0C523.0,275.3 526.2,275.3 524.5,279.0C522.8,282.7 522.1,281.8 518.3,285.0C514.5,288.2 514.4,288.1 510.3,291.0C506.2,293.9 506.5,295.5 503.0,296.0C499.5,296.5 499.3,295.9 497.0,293.0C494.7,290.1 494.2,289.3 494.2,285.0C494.2,280.7 495.9,280.7 497.0,277.0C498.1,273.3 497.5,275.0 498.4,271.3C499.3,267.6 500.4,267.3 500.4,263.0C500.4,258.7 499.5,259.3 498.4,255.0C497.3,250.7 498.0,250.2 496.4,247.0C494.8,243.8 492.4,246.2 492.4,243.0C492.4,239.8 493.2,238.7 496.4,235.0Z" fill="#8400A8" opacity="0.10"/>
<g fill="none" stroke="#8400A8" stroke-linecap="round"><path d="M502.6,241.0Q504.4,240.6 505.9,239.5" stroke-width="1.36"/><path d="M521.9,237.1Q522.7,236.1 523.6,235.0" stroke-width="1.11"/><path d="M521.9,269.7Q521.3,266.9 521.3,263.9" stroke-width="1.04"/><path d="M514.0,247.6Q515.5,246.9 517.0,246.7" stroke-width="1.49"/><path d="M503.1,247.0Q504.2,244.2 506.1,241.9" stroke-width="1.17"/><path d="M532.2,277.8Q534.2,277.2 536.0,276.5" stroke-width="0.99"/><path d="M500.6,282.0Q501.8,281.5 502.8,280.8" stroke-width="1.73"/><path d="M497.7,257.4Q499.7,256.8 501.7,256.4" stroke-width="1.03"/><path d="M504.6,252.9Q506.9,250.9 508.5,248.3" stroke-width="1.23"/><path d="M505.2,241.4Q505.9,239.9 506.2,238.3" stroke-width="1.15"/><path d="M492.8,282.7Q493.8,281.4 495.4,280.9" stroke-width="1.73"/><path d="M516.3,236.3Q517.8,233.8 517.3,231.0" stroke-width="1.20"/><path d="M529.6,262.2Q529.7,260.8 529.2,259.5" stroke-width="1.12"/><path d="M520.8,295.6Q523.4,296.0 525.5,294.6" stroke-width="1.14"/><path d="M521.4,294.4Q521.7,293.2 522.3,292.1" stroke-width="1.00"/><path d="M532.1,251.7Q532.3,250.0 532.7,248.3" stroke-width="1.46"/><path d="M494.8,272.0Q494.7,270.7 495.1,269.4" stroke-width="1.48"/><path d="M520.3,297.0Q521.3,294.5 521.7,291.9" stroke-width="0.98"/><path d="M536.2,234.3Q536.3,233.1 537.2,232.3" stroke-width="1.32"/><path d="M500.7,231.2Q501.8,230.4 502.6,229.4" stroke-width="1.18"/><path d="M528.7,297.3Q531.1,295.5 534.0,294.6" stroke-width="1.10"/><path d="M512.6,264.1Q513.2,262.6 513.1,260.9" stroke-width="1.60"/><path d="M525.3,271.6Q526.2,270.9 527.4,270.7" stroke-width="1.72"/><path d="M502.9,276.2Q503.7,273.7 503.1,271.1" stroke-width="1.13"/><path d="M494.7,277.1Q495.6,275.6 495.7,273.8" stroke-width="1.47"/><path d="M504.7,260.5Q505.0,258.3 504.3,256.2" stroke-width="1.59"/><path d="M492.3,241.6Q494.4,240.2 496.9,240.1" stroke-width="1.67"/><path d="M502.4,278.6Q502.1,276.4 501.8,274.1" stroke-width="1.26"/><path d="M529.2,248.8Q531.5,247.0 533.4,245.0" stroke-width="1.63"/><path d="M526.3,243.6Q526.1,241.3 525.6,239.1" stroke-width="1.41"/><path d="M520.2,278.5Q521.8,277.6 522.7,276.0" stroke-width="1.46"/><path d="M506.8,282.8Q507.3,281.8 507.2,280.6" stroke-width="1.65"/><path d="M527.8,253.4Q529.0,253.1 529.9,252.3" stroke-width="1.74"/><path d="M527.6,231.5Q528.2,230.6 528.6,229.7" stroke-width="1.41"/><path d="M529.8,286.4Q529.7,285.1 529.5,283.9" stroke-width="1.34"/><path d="M498.0,245.8Q499.1,245.0 500.2,244.2" stroke-width="1.18"/><path d="M504.4,237.5Q504.4,236.4 504.3,235.3" stroke-width="1.33"/><path d="M498.0,295.9Q498.6,295.0 498.4,293.9" stroke-width="1.20"/><path d="M512.8,261.6Q513.6,259.3 515.1,257.4" stroke-width="1.03"/><path d="M504.1,248.8Q505.8,247.8 506.7,245.9" stroke-width="1.08"/><path d="M495.4,235.0Q494.9,232.7 494.8,230.4" stroke-width="1.13"/><path d="M519.3,263.7Q519.8,262.2 519.7,260.6" stroke-width="1.21"/><path d="M492.7,247.5Q494.0,244.9 496.1,242.9" stroke-width="1.36"/><path d="M502.6,254.0Q504.1,252.7 505.8,251.5" stroke-width="0.99"/><path d="M508.5,238.4Q509.0,236.4 510.6,235.1" stroke-width="1.66"/><path d="M531.9,260.4Q532.5,258.8 532.1,257.2" stroke-width="1.27"/><path d="M495.3,285.9Q495.8,283.4 495.0,281.0" stroke-width="1.63"/><path d="M523.0,267.4Q523.3,265.5 523.5,263.6" stroke-width="1.71"/><path d="M532.0,255.2Q532.9,253.2 534.8,252.1" stroke-width="1.64"/><path d="M509.6,255.2Q509.9,253.6 510.7,252.1" stroke-width="1.46"/><path d="M514.9,274.8Q515.4,273.9 516.1,273.2" stroke-width="1.54"/><path d="M528.9,246.9Q528.2,244.2 528.1,241.3" stroke-width="1.62"/><path d="M500.4,242.8Q500.7,241.3 501.9,240.4" stroke-width="1.25"/><path d="M532.7,284.9Q533.7,284.2 534.8,284.4" stroke-width="1.36"/><path d="M525.3,287.0Q526.8,286.3 528.5,286.4" stroke-width="1.70"/><path d="M510.2,274.3Q510.0,273.3 510.0,272.3" stroke-width="1.74"/><path d="M522.1,254.2Q522.6,252.9 523.7,252.0" stroke-width="1.39"/><path d="M515.2,244.4Q516.4,243.9 517.4,243.1" stroke-width="1.34"/><path d="M533.8,248.6Q533.6,247.1 534.5,245.8" stroke-width="1.16"/><path d="M504.6,257.1Q505.6,256.7 506.7,256.4" stroke-width="1.17"/><path d="M501.8,284.7Q502.5,282.8 503.7,281.3" stroke-width="1.55"/><path d="M532.9,295.2Q533.7,294.1 533.5,292.8" stroke-width="1.07"/><path d="M502.6,238.3Q503.6,237.4 504.9,237.0" stroke-width="1.59"/><path d="M513.5,268.1Q515.4,266.2 515.7,263.6" stroke-width="1.33"/><path d="M498.8,261.9Q501.6,260.9 504.0,259.2" stroke-width="1.43"/><path d="M520.6,250.9Q521.1,249.1 522.6,248.0" stroke-width="1.01"/><path d="M529.8,268.3Q531.6,266.1 533.8,264.3" stroke-width="0.99"/><path d="M501.3,273.9Q501.7,272.1 503.2,271.1" stroke-width="1.41"/><path d="M522.3,268.3Q522.2,266.8 521.8,265.3" stroke-width="0.99"/><path d="M510.3,257.8Q511.6,257.1 512.2,255.7" stroke-width="1.71"/><path d="M514.5,250.1Q515.6,248.3 516.4,246.3" stroke-width="1.61"/><path d="M511.8,293.2Q513.2,291.0 513.3,288.4" stroke-width="1.52"/><path d="M534.9,284.1Q536.0,283.8 536.7,282.9" stroke-width="1.49"/><path d="M530.5,277.0Q531.3,274.8 532.9,273.0" stroke-width="1.40"/><path d="M527.0,241.2Q528.4,239.7 528.6,237.7" stroke-width="1.41"/><path d="M532.3,237.2Q532.2,234.7 533.6,232.5" stroke-width="1.73"/><path d="M519.4,270.5Q520.5,268.9 521.9,267.6" stroke-width="1.24"/><path d="M526.7,267.2Q527.5,265.4 528.8,264.1" stroke-width="1.63"/><path d="M527.0,276.8Q528.6,276.9 530.0,276.2" stroke-width="1.04"/><path d="M514.5,236.1Q515.0,234.2 515.3,232.3" stroke-width="1.66"/><path d="M506.9,262.0Q508.3,261.4 509.8,260.9" stroke-width="1.07"/><path d="M499.3,250.9Q499.5,248.4 498.6,246.0" stroke-width="1.16"/><path d="M535.8,270.5Q535.0,268.0 534.9,265.3" stroke-width="1.17"/><path d="M536.0,289.8Q535.8,288.8 535.8,287.8" stroke-width="1.16"/><path d="M511.6,251.0Q514.0,249.8 515.2,247.4" stroke-width="1.67"/><path d="M504.8,241.6Q507.0,240.5 509.3,239.8" stroke-width="1.32"/><path d="M495.5,293.6Q497.6,292.2 500.1,292.4" stroke-width="1.48"/><path d="M527.8,281.6Q529.1,281.0 529.9,279.9" stroke-width="1.61"/><path d="M534.7,269.7Q534.3,267.4 534.1,265.1" stroke-width="1.32"/><path d="M503.7,295.6Q504.7,294.8 506.0,294.5" stroke-width="1.00"/><path d="M500.1,265.5Q501.6,264.8 502.2,263.4" stroke-width="1.50"/><path d="M495.3,249.5Q496.0,248.5 496.1,247.2" stroke-width="1.41"/><path d="M493.9,268.6Q494.3,266.9 493.8,265.3" stroke-width="1.21"/><path d="M529.7,234.7Q531.2,233.3 532.1,231.5" stroke-width="1.11"/><path d="M513.7,231.6Q514.6,231.0 515.3,230.4" stroke-width="1.18"/><path d="M522.9,258.8Q523.5,256.7 524.9,254.9" stroke-width="1.70"/><path d="M515.2,276.1Q517.1,275.0 519.3,274.9" stroke-width="1.39"/><path d="M494.3,280.8Q494.3,278.8 494.0,276.8" stroke-width="1.34"/><path d="M530.5,293.1Q532.2,291.3 533.7,289.2" stroke-width="1.55"/><path d="M531.0,261.8Q532.1,259.6 533.3,257.6" stroke-width="1.14"/><path d="M502.0,246.7Q505.0,246.8 507.8,245.5" stroke-width="1.13"/><path d="M527.0,274.5Q528.5,273.8 530.1,273.4" stroke-width="1.56"/><path d="M518.7,277.4Q520.7,276.4 523.0,276.4" stroke-width="1.65"/><path d="M500.2,257.6Q499.1,254.8 499.4,251.7" stroke-width="1.63"/><path d="M497.0,288.9Q499.0,286.9 501.7,286.4" stroke-width="1.61"/><path d="M531.9,289.7Q532.9,288.9 534.1,288.7" stroke-width="1.11"/><path d="M506.0,283.8Q508.0,282.0 509.7,280.0" stroke-width="1.52"/><path d="M535.1,272.0Q536.7,271.4 538.0,270.2" stroke-width="1.45"/><path d="M523.2,246.1Q524.2,243.8 525.4,241.7" stroke-width="1.39"/><path d="M509.9,232.0Q510.0,229.8 511.3,228.1" stroke-width="1.73"/><path d="M519.2,241.8Q520.4,239.1 522.9,237.8" stroke-width="1.71"/><path d="M496.0,233.5Q496.4,232.5 496.8,231.5" stroke-width="1.46"/><path d="M505.7,269.3Q506.7,268.5 507.8,268.2" stroke-width="1.15"/><path d="M497.7,275.5Q496.5,272.6 497.2,269.5" stroke-width="1.53"/><path d="M491.6,241.3Q492.3,239.1 493.9,237.6" stroke-width="1.00"/><path d="M517.7,234.6Q520.1,233.8 522.5,233.0" stroke-width="1.58"/><path d="M534.0,283.9Q535.9,282.2 538.1,280.8" stroke-width="1.40"/><path d="M513.0,270.2Q514.0,268.6 515.7,267.6" stroke-width="1.48"/><path d="M533.2,292.0Q535.6,291.1 538.0,290.2" stroke-width="1.36"/><path d="M526.0,290.2Q527.3,289.6 528.8,289.7" stroke-width="1.74"/><path d="M506.1,270.5Q507.2,269.1 508.6,268.0" stroke-width="1.51"/><path d="M531.0,255.0Q531.7,253.0 533.6,251.9" stroke-width="1.38"/><path d="M532.9,294.9Q533.4,294.0 533.3,292.9" stroke-width="1.36"/><path d="M519.7,236.3Q520.6,234.3 521.0,232.2" stroke-width="1.40"/><path d="M510.1,240.7Q509.8,239.2 509.8,237.7" stroke-width="1.40"/><path d="M526.3,286.9Q528.0,285.0 529.8,283.2" stroke-width="1.23"/><path d="M494.4,291.8Q495.0,290.7 496.1,290.2" stroke-width="1.22"/><path d="M531.9,231.4Q532.7,230.3 533.6,229.4" stroke-width="1.59"/><path d="M532.3,285.3Q532.6,283.8 531.9,282.6" stroke-width="1.34"/><path d="M508.1,232.0Q507.3,230.7 507.6,229.2" stroke-width="1.24"/><path d="M536.2,279.4Q536.9,278.6 537.2,277.5" stroke-width="1.19"/><path d="M522.5,243.2Q524.2,243.1 525.9,242.6" stroke-width="1.21"/><path d="M495.7,236.1Q497.2,234.9 499.2,235.0" stroke-width="1.18"/><path d="M506.3,234.5Q509.1,234.1 511.0,232.1" stroke-width="1.26"/><path d="M531.9,292.2Q533.4,290.8 533.7,288.8" stroke-width="1.68"/><path d="M523.4,246.6Q525.8,245.5 528.2,244.4" stroke-width="1.20"/><path d="M515.8,246.9Q518.0,246.5 519.3,244.7" stroke-width="1.06"/><path d="M526.6,260.9Q527.7,259.1 528.1,257.1" stroke-width="1.12"/><path d="M508.9,281.3Q510.3,279.2 512.0,277.4" stroke-width="1.17"/><path d="M532.5,273.7Q534.3,271.8 536.3,270.1" stroke-width="1.53"/><path d="M515.7,281.5Q516.2,280.0 516.2,278.4" stroke-width="1.38"/><path d="M496.0,256.7Q498.9,256.7 501.5,255.4" stroke-width="1.40"/><path d="M520.9,277.3Q521.4,275.0 522.2,272.7" stroke-width="1.09"/><path d="M515.9,248.6Q516.2,247.6 517.1,247.0" stroke-width="1.34"/><path d="M525.5,271.7Q525.7,270.5 526.6,269.8" stroke-width="1.48"/><path d="M505.7,292.0Q504.9,289.7 505.4,287.3" stroke-width="1.43"/><path d="M513.0,266.2Q513.6,264.6 513.2,262.9" stroke-width="1.75"/><path d="M505.7,259.8Q507.3,258.3 509.2,257.1" stroke-width="1.02"/><path d="M530.8,238.8Q530.3,236.0 531.1,233.3" stroke-width="1.56"/><path d="M500.4,268.1Q500.4,267.0 500.9,266.0" stroke-width="1.14"/><path d="M511.3,237.3Q512.8,235.3 512.7,232.9" stroke-width="1.45"/><path d="M529.0,242.5Q531.9,241.8 533.6,239.4" stroke-width="1.04"/><path d="M524.2,244.0Q526.6,242.5 527.7,239.8" stroke-width="1.61"/><path d="M506.1,238.4Q506.9,237.8 507.7,237.2" stroke-width="1.36"/><path d="M518.2,235.4Q518.3,234.4 518.2,233.4" stroke-width="1.54"/><path d="M529.9,270.1Q532.3,269.3 534.2,267.6" stroke-width="1.38"/><path d="M535.5,295.4Q536.3,294.2 536.7,292.7" stroke-width="1.26"/><path d="M503.8,297.1Q505.3,296.1 506.0,294.3" stroke-width="1.64"/><path d="M494.9,285.3Q496.5,285.0 497.5,283.8" stroke-width="1.25"/><path d="M534.4,254.8Q535.1,253.3 535.1,251.6" stroke-width="1.57"/><path d="M535.0,287.4Q535.0,286.3 535.4,285.3" stroke-width="1.59"/><path d="M516.9,238.2Q518.1,236.2 519.1,234.1" stroke-width="1.57"/><path d="M500.5,256.4Q499.6,254.2 500.5,251.9" stroke-width="1.67"/><path d="M502.8,258.9Q504.6,257.7 505.3,255.7" stroke-width="1.26"/><path d="M533.7,256.9Q533.6,254.2 533.6,251.4" stroke-width="1.69"/><path d="M535.9,231.8Q536.0,229.6 535.4,227.5" stroke-width="1.26"/><path d="M498.2,290.0Q499.0,288.0 500.1,286.2" stroke-width="1.67"/><path d="M513.9,267.1Q514.8,265.3 516.7,264.6" stroke-width="1.48"/><path d="M512.1,235.6Q514.3,235.1 516.5,234.5" stroke-width="1.14"/><path d="M508.8,244.9Q510.1,244.1 510.7,242.7" stroke-width="1.17"/><path d="M522.5,237.8Q524.7,236.2 526.1,233.8" stroke-width="1.58"/><path d="M508.2,254.1Q508.9,253.3 510.0,253.2" stroke-width="1.36"/><path d="M510.6,269.0Q511.5,268.2 512.8,268.0" stroke-width="1.47"/><path d="M505.5,288.0Q506.3,286.6 507.5,285.6" stroke-width="1.64"/><path d="M503.7,295.6Q504.8,294.8 506.0,294.0" stroke-width="1.41"/><path d="M514.2,261.7Q516.4,260.4 518.5,258.9" stroke-width="1.50"/><path d="M530.8,247.4Q532.1,246.2 532.9,244.7" stroke-width="1.37"/><path d="M534.0,247.3Q534.1,244.6 534.0,242.0" stroke-width="1.25"/><path d="M495.7,267.7Q498.0,266.2 499.5,263.9" stroke-width="1.62"/><path d="M498.0,268.8Q499.7,267.0 500.8,264.6" stroke-width="1.44"/><path d="M507.0,276.4Q506.7,273.7 507.7,271.2" stroke-width="1.07"/><path d="M504.4,276.0Q504.5,273.8 504.3,271.5" stroke-width="1.02"/><path d="M494.1,233.6Q496.2,232.9 497.3,231.0" stroke-width="1.68"/><path d="M494.5,254.7Q495.8,252.5 496.1,249.9" stroke-width="1.73"/><path d="M511.5,285.8Q511.6,283.9 512.9,282.4" stroke-width="1.02"/><path d="M516.3,271.2Q518.1,268.8 518.8,265.9" stroke-width="1.08"/><path d="M517.1,241.8Q517.4,240.0 516.7,238.4" stroke-width="1.13"/><path d="M519.9,264.5Q521.7,262.3 524.2,261.0" stroke-width="1.30"/><path d="M535.4,291.5Q536.5,290.6 537.5,289.6" stroke-width="1.34"/><path d="M518.1,276.5Q518.3,275.2 519.1,274.1" stroke-width="1.30"/><path d="M502.3,246.7Q504.5,246.4 506.4,245.1" stroke-width="1.21"/><path d="M521.0,279.6Q523.0,279.0 524.8,277.9" stroke-width="1.02"/><path d="M534.3,261.3Q536.8,260.3 538.8,258.4" stroke-width="1.09"/><path d="M507.9,276.3Q510.0,275.4 511.2,273.6" stroke-width="1.19"/><path d="M526.2,243.8Q527.3,240.9 526.7,237.9" stroke-width="0.98"/><path d="M527.6,233.8Q529.1,232.0 530.3,230.0" stroke-width="1.43"/><path d="M490.6,279.9Q493.3,279.7 495.8,278.6" stroke-width="1.63"/><path d="M501.5,241.3Q500.1,238.9 500.7,236.1" stroke-width="1.13"/><path d="M497.3,230.5Q498.0,229.3 499.2,228.9" stroke-width="1.56"/><path d="M498.5,256.4Q500.7,256.3 502.3,254.7" stroke-width="1.12"/><path d="M506.1,234.4Q505.7,231.5 505.3,228.6" stroke-width="1.31"/><path d="M517.0,286.7Q516.3,284.9 516.8,283.1" stroke-width="1.19"/><path d="M518.3,294.6Q518.0,293.0 517.8,291.5" stroke-width="1.50"/><path d="M494.6,256.6Q496.2,254.7 498.7,254.4" stroke-width="1.28"/><path d="M517.1,282.7Q517.2,281.1 518.0,279.6" stroke-width="1.58"/><path d="M505.1,253.4Q506.5,251.8 507.9,250.1" stroke-width="1.42"/><path d="M524.7,239.1Q526.0,238.6 527.3,238.1" stroke-width="1.14"/><path d="M533.3,244.7Q533.9,242.9 534.0,240.9" stroke-width="1.04"/><path d="M502.8,277.9Q503.1,276.2 502.5,274.5" stroke-width="1.21"/><path d="M512.8,251.9Q514.3,251.4 515.8,250.9" stroke-width="1.56"/><path d="M507.1,296.5Q508.9,295.1 510.4,293.4" stroke-width="1.19"/><path d="M496.3,262.7Q497.3,260.7 496.9,258.6" stroke-width="1.00"/><path d="M532.6,255.6Q533.0,253.2 532.7,250.7" stroke-width="1.11"/><path d="M525.0,249.6Q527.0,249.1 528.9,248.9" stroke-width="1.32"/><path d="M501.7,244.8Q502.1,241.9 501.6,239.1" stroke-width="1.22"/><path d="M507.6,253.9Q508.1,252.1 507.2,250.4" stroke-width="1.26"/><path d="M516.3,271.5Q516.8,269.9 517.1,268.3" stroke-width="1.09"/><path d="M532.9,245.3Q533.4,242.8 532.6,240.5" stroke-width="1.56"/><path d="M524.3,253.3Q526.9,252.2 529.5,251.1" stroke-width="1.74"/><path d="M515.0,289.4Q515.7,287.7 516.3,286.0" stroke-width="1.53"/><path d="M522.7,278.4Q524.8,276.9 527.1,275.9" stroke-width="1.59"/><path d="M523.4,241.3Q525.3,240.2 527.5,240.5" stroke-width="1.48"/><path d="M502.5,270.8Q503.0,269.2 504.1,267.9" stroke-width="1.64"/><path d="M534.8,274.9Q536.4,273.5 537.1,271.4" stroke-width="1.00"/><path d="M529.4,295.5Q531.7,294.0 534.2,293.0" stroke-width="1.13"/><path d="M503.9,282.5Q506.6,281.4 509.5,281.4" stroke-width="1.53"/><path d="M522.9,240.5Q523.7,239.0 523.7,237.2" stroke-width="1.11"/><path d="M512.2,241.0Q513.7,240.7 515.0,239.8" stroke-width="1.05"/><path d="M509.5,252.2Q510.7,251.7 511.8,251.1" stroke-width="1.03"/><path d="M503.2,232.9Q505.6,232.0 507.9,231.1" stroke-width="1.08"/><path d="M520.3,295.0Q522.8,294.8 524.9,293.5" stroke-width="1.10"/><path d="M531.1,237.1Q530.9,234.5 532.1,232.1" stroke-width="1.31"/><path d="M509.5,254.4Q510.6,252.3 512.3,250.7" stroke-width="1.32"/><path d="M528.7,270.3Q530.0,269.4 530.8,268.0" stroke-width="1.69"/><path d="M493.7,257.6Q495.0,256.2 495.3,254.2" stroke-width="1.50"/><path d="M496.7,248.1Q498.1,247.0 499.9,247.1" stroke-width="1.02"/><path d="M531.1,277.5Q532.3,274.9 533.7,272.4" stroke-width="1.32"/><path d="M516.1,252.3Q516.4,251.0 517.4,249.9" stroke-width="1.74"/><path d="M531.9,270.7Q533.0,269.7 533.3,268.3" stroke-width="1.65"/><path d="M525.9,255.9Q525.9,254.2 525.9,252.6" stroke-width="1.04"/><path d="M521.9,258.5Q522.3,257.3 522.1,256.0" stroke-width="1.12"/><path d="M514.8,247.0Q515.4,245.3 516.9,244.4" stroke-width="1.44"/><path d="M511.7,287.6Q512.6,284.7 511.4,281.9" stroke-width="1.60"/><path d="M525.9,279.0Q527.3,276.9 527.6,274.4" stroke-width="1.70"/><path d="M525.7,246.0Q527.8,245.5 529.4,244.2" stroke-width="1.46"/><path d="M497.7,231.6Q498.0,229.3 499.5,227.5" stroke-width="1.00"/><path d="M505.8,239.8Q506.9,237.1 506.5,234.2" stroke-width="1.34"/><path d="M521.9,272.2Q523.3,270.8 523.9,268.9" stroke-width="1.02"/><path d="M499.4,264.3Q499.6,263.1 499.4,261.8" stroke-width="0.99"/><path d="M519.4,275.4Q520.4,273.0 522.6,271.6" stroke-width="1.50"/><path d="M532.7,283.4Q534.0,282.5 534.8,281.1" stroke-width="1.47"/><path d="M508.0,260.6Q509.5,259.8 511.1,259.1" stroke-width="1.54"/><path d="M507.0,239.7Q507.8,237.6 508.8,235.6" stroke-width="1.62"/><path d="M534.3,282.3Q534.0,280.1 533.9,277.9" stroke-width="1.38"/><path d="M500.1,251.5Q501.7,250.8 503.0,249.6" stroke-width="1.12"/><path d="M496.7,268.1Q496.7,266.2 497.2,264.4" stroke-width="1.70"/><path d="M532.9,238.7Q533.5,236.3 532.6,234.1" stroke-width="1.08"/><path d="M493.3,243.9Q494.1,241.0 493.4,238.1" stroke-width="0.98"/><path d="M496.3,288.4Q497.3,287.1 497.9,285.5" stroke-width="1.30"/><path d="M519.8,292.9Q520.4,291.9 521.3,291.2" stroke-width="1.59"/><path d="M519.3,248.3Q520.2,247.8 521.1,247.3" stroke-width="1.67"/><path d="M518.1,270.7Q517.8,268.9 518.8,267.3" stroke-width="1.34"/><path d="M520.9,266.1Q521.4,264.6 520.8,263.1" stroke-width="1.30"/><path d="M531.8,268.2Q533.4,267.5 534.9,266.5" stroke-width="1.56"/><path d="M520.5,272.6Q522.9,270.9 524.7,268.6" stroke-width="1.46"/><path d="M533.3,279.0Q534.6,276.4 533.8,273.6" stroke-width="1.47"/><path d="M503.0,277.2Q503.9,274.7 503.6,272.1" stroke-width="1.27"/><path d="M498.2,286.6Q499.3,284.4 500.6,282.4" stroke-width="1.55"/><path d="M512.0,243.9Q512.5,241.1 513.0,238.2" stroke-width="1.41"/><path d="M501.2,245.7Q501.3,244.6 502.0,243.6" stroke-width="1.18"/><path d="M500.7,259.5Q501.3,258.0 501.3,256.4" stroke-width="1.18"/><path d="M508.1,287.4Q510.6,287.2 512.6,285.7" stroke-width="1.02"/><path d="M520.9,273.6Q521.8,272.5 523.1,272.0" stroke-width="1.01"/><path d="M523.0,285.9Q524.5,284.2 526.6,283.1" stroke-width="1.69"/><path d="M517.3,272.9Q516.3,270.7 517.0,268.5" stroke-width="1.49"/><path d="M512.7,238.8Q513.8,237.1 515.3,235.8" stroke-width="1.35"/><path d="M501.9,244.6Q502.6,242.1 504.3,240.2" stroke-width="1.13"/><path d="M511.1,237.7Q512.3,237.0 513.2,235.9" stroke-width="1.72"/><path d="M497.1,264.5Q497.5,263.4 497.1,262.2" stroke-width="1.64"/><path d="M505.9,254.1Q506.8,253.2 506.9,251.9" stroke-width="1.50"/><path d="M515.4,249.6Q516.8,247.7 516.6,245.2" stroke-width="1.69"/><path d="M529.0,284.4Q531.7,283.1 533.3,280.6" stroke-width="1.31"/><path d="M532.8,275.7Q532.7,274.5 533.3,273.3" stroke-width="1.33"/><path d="M520.8,289.2Q521.0,287.4 521.4,285.6" stroke-width="1.59"/><path d="M529.3,240.1Q530.1,239.0 530.6,237.7" stroke-width="1.21"/><path d="M490.4,260.9Q492.9,259.2 494.5,256.5" stroke-width="1.27"/><path d="M518.3,231.9Q519.1,230.8 519.7,229.6" stroke-width="1.52"/><path d="M497.5,236.0Q497.8,233.1 498.7,230.4" stroke-width="1.45"/><path d="M500.3,240.8Q501.0,239.0 501.5,237.2" stroke-width="1.37"/><path d="M494.9,293.6Q495.7,292.3 497.0,291.5" stroke-width="1.71"/><path d="M507.1,261.4Q509.4,259.7 510.3,257.0" stroke-width="1.14"/><path d="M507.4,230.3Q507.1,229.2 507.4,228.1" stroke-width="1.62"/><path d="M503.1,253.1Q505.9,252.5 508.6,251.6" stroke-width="1.26"/><path d="M525.7,277.9Q525.1,274.9 525.0,271.9" stroke-width="1.69"/><path d="M517.2,244.0Q518.5,242.3 520.6,241.7" stroke-width="1.60"/><path d="M496.5,274.7Q497.6,272.6 497.3,270.2" stroke-width="1.43"/><path d="M496.0,258.7Q497.3,257.7 498.5,256.4" stroke-width="1.38"/><path d="M497.0,265.4Q497.7,264.5 497.7,263.2" stroke-width="1.35"/><path d="M491.9,284.2Q492.7,281.4 493.2,278.6" stroke-width="1.34"/><path d="M524.8,235.5Q526.2,234.4 526.9,232.8" stroke-width="1.33"/><path d="M506.5,240.0Q508.4,238.7 509.4,236.7" stroke-width="1.39"/><path d="M502.0,268.7Q502.3,267.1 502.8,265.5" stroke-width="0.98"/><path d="M507.0,281.5Q506.8,279.7 507.6,278.2" stroke-width="1.70"/><path d="M523.8,258.1Q525.8,257.9 527.6,256.9" stroke-width="1.18"/><path d="M527.3,283.8Q527.9,281.6 528.2,279.4" stroke-width="1.47"/><path d="M508.2,232.0Q508.2,229.9 508.2,227.9" stroke-width="1.68"/><path d="M508.7,247.0Q509.7,246.1 510.4,245.0" stroke-width="1.06"/><path d="M504.5,294.8Q506.7,293.2 508.0,291.0" stroke-width="1.36"/><path d="M506.5,271.9Q506.8,270.3 507.8,269.1" stroke-width="1.19"/><path d="M502.2,269.1Q501.7,267.0 502.2,264.9" stroke-width="1.34"/><path d="M512.3,282.5Q514.4,282.0 516.3,281.0" stroke-width="1.07"/><path d="M519.9,281.9Q522.1,281.4 524.3,280.7" stroke-width="0.99"/><path d="M522.3,280.8Q523.2,279.6 523.0,278.1" stroke-width="1.09"/><path d="M533.6,245.8Q533.0,243.5 533.3,241.2" stroke-width="1.33"/><path d="M511.2,257.2Q511.4,255.9 511.6,254.6" stroke-width="1.57"/><path d="M512.2,245.3Q513.5,244.6 515.1,244.3" stroke-width="1.37"/><path d="M508.2,295.5Q509.7,294.7 510.8,293.2" stroke-width="1.19"/><path d="M502.3,264.7Q503.0,263.0 504.5,261.8" stroke-width="1.25"/><path d="M518.0,265.9Q518.4,262.8 520.6,260.7" stroke-width="1.26"/><path d="M498.5,243.8Q501.1,243.3 503.4,242.0" stroke-width="1.64"/><path d="M493.6,277.0Q494.9,275.6 496.7,275.2" stroke-width="1.65"/><path d="M499.8,238.5Q501.6,237.1 503.8,237.3" stroke-width="1.23"/><path d="M505.4,234.4Q506.9,233.0 507.4,231.0" stroke-width="1.52"/><path d="M515.1,286.8Q515.3,284.0 515.2,281.2" stroke-width="1.25"/><path d="M519.0,257.3Q520.9,256.7 522.2,255.3" stroke-width="1.06"/><path d="M518.0,291.8Q520.9,290.7 522.9,288.5" stroke-width="1.04"/><path d="M495.8,285.2Q497.3,284.3 498.3,282.8" stroke-width="1.52"/><path d="M500.9,293.9Q500.9,292.9 500.8,291.8" stroke-width="1.32"/><path d="M513.0,247.3Q514.5,244.9 516.2,242.6" stroke-width="1.66"/><path d="M520.7,285.9Q521.8,285.4 522.7,284.4" stroke-width="1.37"/><path d="M503.0,290.1Q504.1,289.2 505.0,288.1" stroke-width="1.22"/><path d="M521.9,263.7Q523.4,261.5 525.8,260.3" stroke-width="1.63"/><path d="M507.8,293.2Q510.2,291.7 512.7,290.3" stroke-width="1.65"/><path d="M502.4,288.7Q502.7,287.2 502.7,285.6" stroke-width="1.71"/><path d="M530.8,255.4Q531.2,254.4 531.7,253.5" stroke-width="1.21"/><path d="M531.2,258.1Q532.8,256.7 534.7,256.0" stroke-width="1.39"/><path d="M497.4,292.5Q498.8,291.7 500.3,291.4" stroke-width="1.30"/><path d="M527.5,259.5Q527.5,257.3 528.6,255.5" stroke-width="1.10"/><path d="M497.2,262.5Q497.5,261.2 497.6,259.9" stroke-width="1.25"/><path d="M494.8,248.3Q496.4,247.7 497.6,246.4" stroke-width="1.19"/><path d="M523.7,239.1Q525.2,237.5 525.2,235.3" stroke-width="1.61"/><path d="M524.9,245.7Q525.9,245.1 527.0,245.1" stroke-width="1.01"/><path d="M517.8,270.0Q519.4,268.3 520.8,266.5" stroke-width="1.34"/><path d="M525.0,237.0Q526.0,235.8 526.8,234.5" stroke-width="1.45"/><path d="M509.9,295.3Q510.3,293.8 509.7,292.4" stroke-width="1.61"/><path d="M497.0,250.2Q497.5,248.3 496.9,246.5" stroke-width="1.37"/><path d="M527.9,264.1Q526.8,261.8 527.0,259.3" stroke-width="1.17"/><path d="M507.2,268.2Q506.1,265.9 506.5,263.3" stroke-width="1.58"/><path d="M519.0,279.4Q520.1,276.8 519.8,274.0" stroke-width="1.15"/><path d="M510.2,295.2Q510.7,293.6 510.6,292.0" stroke-width="1.53"/><path d="M530.1,297.2Q531.5,295.5 532.0,293.4" stroke-width="1.64"/><path d="M500.3,239.7Q501.8,237.5 503.2,235.2" stroke-width="1.12"/><path d="M531.4,276.9Q533.3,275.0 535.2,273.1" stroke-width="1.37"/><path d="M494.9,231.8Q496.1,229.9 498.1,228.8" stroke-width="1.57"/><path d="M521.3,268.8Q521.8,267.4 522.7,266.2" stroke-width="1.18"/><path d="M511.5,235.4Q513.4,234.0 514.6,231.9" stroke-width="1.53"/><path d="M527.3,244.5Q527.4,243.4 528.2,242.7" stroke-width="1.04"/><path d="M525.6,270.1Q528.0,269.8 530.3,269.1" stroke-width="1.01"/><path d="M533.3,297.4Q533.9,295.0 535.5,293.0" stroke-width="1.08"/><path d="M534.2,255.2Q536.1,255.5 537.8,254.5" stroke-width="1.70"/><path d="M500.5,265.1Q501.2,262.7 501.7,260.3" stroke-width="1.51"/><path d="M528.5,244.2Q529.1,242.5 530.2,241.1" stroke-width="1.42"/><path d="M493.7,247.0Q493.6,245.3 493.9,243.6" stroke-width="1.19"/><path d="M516.6,251.7Q516.7,248.6 518.4,246.1" stroke-width="1.28"/><path d="M498.1,283.2Q497.9,281.8 498.3,280.5" stroke-width="1.65"/><path d="M516.9,272.7Q517.9,272.4 518.6,271.5" stroke-width="1.02"/><path d="M514.2,234.0Q516.2,233.6 517.8,232.4" stroke-width="1.60"/><path d="M534.1,272.3Q536.2,271.5 538.1,270.4" stroke-width="1.67"/><path d="M494.3,255.1Q495.8,254.7 496.9,253.6" stroke-width="1.55"/><path d="M506.9,296.6Q507.6,295.1 507.9,293.4" stroke-width="1.58"/><path d="M494.7,296.4Q495.3,295.0 495.4,293.5" stroke-width="0.99"/><path d="M514.0,238.7Q516.7,238.2 518.5,236.2" stroke-width="1.40"/><path d="M516.0,272.6Q518.1,271.2 520.7,271.4" stroke-width="1.60"/><path d="M524.1,230.1Q525.3,229.0 526.9,228.6" stroke-width="1.19"/><path d="M507.7,243.9Q510.0,243.1 512.3,242.1" stroke-width="1.56"/><path d="M506.6,245.1Q508.3,243.8 510.2,243.2" stroke-width="1.61"/><path d="M501.1,232.7Q502.7,231.9 504.5,232.0" stroke-width="1.72"/><path d="M517.1,265.5Q518.6,264.0 520.3,262.6" stroke-width="1.45"/><path d="M529.1,249.8Q530.3,249.1 530.8,247.8" stroke-width="1.22"/><path d="M515.3,288.4Q514.5,286.4 514.7,284.1" stroke-width="1.74"/><path d="M531.1,252.3Q531.2,251.0 531.9,249.7" stroke-width="1.29"/><path d="M526.2,272.7Q528.6,271.5 531.3,271.7" stroke-width="1.66"/><path d="M502.7,286.8Q502.4,285.3 502.9,283.8" stroke-width="1.62"/><path d="M494.8,243.2Q496.7,242.2 498.4,241.0" stroke-width="1.72"/><path d="M532.6,241.2Q532.7,239.9 533.0,238.6" stroke-width="0.98"/><path d="M534.9,242.4Q534.6,241.3 534.9,240.1" stroke-width="1.05"/><path d="M518.0,295.2Q517.1,292.2 517.9,289.2" stroke-width="1.71"/><path d="M509.8,279.3Q509.9,276.6 510.4,273.9" stroke-width="1.63"/><path d="M525.9,293.6Q526.7,290.8 526.0,288.0" stroke-width="1.24"/><path d="M514.3,230.8Q513.7,229.2 514.3,227.7" stroke-width="1.36"/><path d="M515.4,238.6Q515.6,236.5 515.2,234.4" stroke-width="1.49"/><path d="M528.1,261.3Q529.0,259.6 529.1,257.7" stroke-width="1.24"/><path d="M502.5,234.8Q502.3,233.3 502.8,231.8" stroke-width="1.29"/><path d="M496.8,264.8Q497.0,263.2 498.1,261.9" stroke-width="1.26"/><path d="M506.1,287.0Q507.2,284.5 507.7,281.8" stroke-width="1.70"/><path d="M492.9,295.9Q495.4,295.8 497.6,294.6" stroke-width="1.60"/><path d="M533.7,237.8Q533.5,235.6 533.9,233.4" stroke-width="1.70"/><path d="M531.3,242.0Q531.5,240.9 531.3,239.7" stroke-width="1.66"/><path d="M532.6,256.1Q534.8,254.9 537.0,253.7" stroke-width="1.07"/><path d="M518.4,238.9Q520.0,237.8 522.0,238.1" stroke-width="1.45"/></g>
<g fill="none" stroke="#A87000"><path d="M510.8,249.1Q507.0,244.3 503.9,239.0" stroke-width="1.38" stroke-dasharray="1.3 1.1 1.6 1.8"/><path d="M494.5,268.9Q496.1,265.1 494.7,261.2" stroke-width="1.18" stroke-dasharray="2.5 1.2 1.3 1.6"/><path d="M509.2,263.4Q505.6,261.6 501.6,261.0" stroke-width="1.73" stroke-dasharray="2.5 1.7 1.7 1.0"/><path d="M536.4,288.9Q534.5,284.7 536.2,280.5" stroke-width="1.60" stroke-dasharray="2.0 0.8 1.5 1.7"/><path d="M533.2,294.2Q527.8,292.3 522.8,289.5" stroke-width="2.27" stroke-dasharray="1.4 1.4 1.2 1.8"/><path d="M515.1,278.6Q512.7,276.6 510.9,273.8" stroke-width="1.90" stroke-dasharray="3.8 0.8 1.1 1.7"/><path d="M515.3,295.5Q512.9,292.9 509.4,292.7" stroke-width="1.51" stroke-dasharray="1.9 1.4 0.9 1.7"/><path d="M531.1,271.3Q526.8,270.7 524.2,267.1" stroke-width="1.69" stroke-dasharray="3.4 0.8 1.6 0.8"/><path d="M510.2,268.2Q503.8,266.0 499.6,260.7" stroke-width="2.25" stroke-dasharray="1.4 1.2 1.5 1.6"/><path d="M492.6,291.1Q492.2,286.8 492.9,282.5" stroke-width="2.12" stroke-dasharray="2.7 1.8 2.2 1.3"/><path d="M535.0,266.5Q530.8,264.7 528.7,260.7" stroke-width="1.89" stroke-dasharray="3.2 1.4 1.1 1.6"/><path d="M525.3,262.8Q524.2,259.8 523.6,256.7" stroke-width="1.48" stroke-dasharray="1.6 1.1 1.5 0.9"/><path d="M512.6,296.0Q513.0,290.1 512.0,284.3" stroke-width="1.44" stroke-dasharray="3.5 0.7 2.0 1.6"/><path d="M496.2,252.6Q494.2,248.3 489.8,246.8" stroke-width="1.60" stroke-dasharray="1.7 1.5 0.9 1.5"/><path d="M511.0,258.7Q506.3,257.9 503.5,254.1" stroke-width="1.72" stroke-dasharray="2.8 1.5 2.2 0.8"/><path d="M494.3,286.2Q494.1,279.6 492.9,273.1" stroke-width="1.55" stroke-dasharray="2.9 1.3 0.9 1.2"/><path d="M521.1,291.4Q519.2,288.7 517.0,286.2" stroke-width="1.98" stroke-dasharray="2.3 0.9 1.6 0.9"/><path d="M506.3,291.3Q506.7,287.2 504.6,283.5" stroke-width="1.94" stroke-dasharray="3.2 1.6 2.3 1.4"/><path d="M511.3,266.4Q508.3,264.7 505.1,263.4" stroke-width="2.38" stroke-dasharray="2.5 0.8 1.7 1.0"/><path d="M496.3,256.0Q495.7,252.7 495.1,249.5" stroke-width="1.56" stroke-dasharray="1.4 1.4 1.8 1.7"/><path d="M526.1,253.2Q521.1,249.8 515.0,250.0" stroke-width="1.78" stroke-dasharray="3.1 1.6 1.2 0.8"/><path d="M517.2,275.6Q513.3,270.6 512.8,264.3" stroke-width="2.22" stroke-dasharray="3.2 1.0 1.2 1.3"/><path d="M534.1,268.8Q530.1,265.3 528.3,260.4" stroke-width="2.21" stroke-dasharray="1.3 1.5 1.7 1.4"/><path d="M498.9,269.9Q496.4,263.5 495.5,256.7" stroke-width="1.30" stroke-dasharray="2.0 1.5 1.9 0.9"/><path d="M513.6,260.9Q507.7,259.1 501.9,256.7" stroke-width="1.69" stroke-dasharray="1.5 1.2 2.4 0.8"/><path d="M504.1,276.1Q505.4,272.3 504.3,268.5" stroke-width="1.95" stroke-dasharray="2.7 1.2 2.2 1.0"/><path d="M534.5,235.6Q534.0,230.6 532.5,225.9" stroke-width="1.38" stroke-dasharray="1.9 1.5 1.2 2.0"/><path d="M506.0,275.3Q506.0,271.7 504.9,268.4" stroke-width="1.84" stroke-dasharray="3.1 1.6 1.8 1.1"/><path d="M535.8,257.2Q536.1,253.7 536.0,250.3" stroke-width="1.60" stroke-dasharray="3.9 1.7 2.0 1.0"/><path d="M501.6,264.5Q501.7,258.4 502.1,252.3" stroke-width="1.56" stroke-dasharray="1.8 1.4 2.1 1.7"/><path d="M532.6,234.1Q531.4,230.0 531.6,225.8" stroke-width="2.08" stroke-dasharray="2.6 1.4 0.9 0.8"/><path d="M524.3,294.1Q521.4,290.4 517.9,287.2" stroke-width="1.60" stroke-dasharray="3.7 1.0 1.6 1.7"/><path d="M515.6,241.2Q511.8,235.5 507.7,230.0" stroke-width="1.58" stroke-dasharray="1.7 1.2 1.4 0.9"/><path d="M511.3,272.9Q507.8,273.1 504.9,271.1" stroke-width="2.26" stroke-dasharray="1.2 1.2 2.0 0.8"/><path d="M539.4,234.9Q535.6,232.7 531.2,232.3" stroke-width="1.54" stroke-dasharray="3.3 1.6 0.8 1.3"/></g>
</g>
<clipPath id="cM"><path d="M498.2,287.1C502.5,285.5 505.5,288.4 510.3,291.1C515.1,293.8 512.0,296.6 516.3,297.2C520.6,297.8 521.0,293.2 526.4,293.2C531.8,293.2 533.5,292.9 536.5,297.2C539.5,301.5 539.1,303.9 537.5,309.3C535.9,314.7 535.0,316.2 530.4,317.3C525.8,318.4 525.8,312.8 520.4,313.3C515.0,313.8 514.1,316.6 510.3,319.3C506.5,322.0 509.0,323.8 506.3,323.3C503.6,322.8 502.9,321.6 500.2,317.3C497.5,313.0 497.8,312.6 496.2,307.2C494.6,301.8 493.7,302.6 494.2,297.2C494.7,291.8 493.9,288.7 498.2,287.1Z"/></clipPath>
<g clip-path="url(#cM)">
<path d="M498.2,287.1C502.5,285.5 505.5,288.4 510.3,291.1C515.1,293.8 512.0,296.6 516.3,297.2C520.6,297.8 521.0,293.2 526.4,293.2C531.8,293.2 533.5,292.9 536.5,297.2C539.5,301.5 539.1,303.9 537.5,309.3C535.9,314.7 535.0,316.2 530.4,317.3C525.8,318.4 525.8,312.8 520.4,313.3C515.0,313.8 514.1,316.6 510.3,319.3C506.5,322.0 509.0,323.8 506.3,323.3C503.6,322.8 502.9,321.6 500.2,317.3C497.5,313.0 497.8,312.6 496.2,307.2C494.6,301.8 493.7,302.6 494.2,297.2C494.7,291.8 493.9,288.7 498.2,287.1Z" fill="#8400A8" opacity="0.10"/>
<g fill="none" stroke="#8400A8" stroke-linecap="round"><path d="M527.9,291.2Q529.8,289.8 531.9,288.7" stroke-width="1.35"/><path d="M534.5,325.5Q534.6,322.8 534.2,320.2" stroke-width="1.44"/><path d="M512.5,316.9Q513.4,314.0 512.6,311.0" stroke-width="1.41"/><path d="M516.5,321.1Q517.0,319.5 517.9,318.1" stroke-width="1.45"/><path d="M514.4,309.8Q515.6,308.9 516.7,308.0" stroke-width="1.39"/><path d="M526.5,303.0Q525.3,301.7 525.0,300.0" stroke-width="1.14"/><path d="M531.4,300.5Q531.2,299.5 531.0,298.4" stroke-width="1.70"/><path d="M513.1,290.4Q513.4,288.6 512.9,286.8" stroke-width="1.49"/><path d="M504.1,312.3Q504.3,311.3 504.0,310.3" stroke-width="1.28"/><path d="M536.7,291.9Q535.9,291.0 535.6,289.9" stroke-width="1.42"/><path d="M517.5,306.0Q517.6,303.6 516.4,301.5" stroke-width="1.25"/><path d="M515.9,294.0Q515.5,292.8 516.0,291.6" stroke-width="1.61"/><path d="M508.6,302.2Q507.7,299.3 507.2,296.4" stroke-width="1.04"/><path d="M499.8,315.9Q500.3,314.2 499.9,312.5" stroke-width="1.51"/><path d="M515.7,292.1Q516.5,291.2 517.2,290.1" stroke-width="1.40"/><path d="M534.9,295.3Q535.5,294.0 535.5,292.6" stroke-width="0.98"/><path d="M515.6,304.3Q516.9,302.2 516.7,299.8" stroke-width="1.32"/><path d="M499.2,292.4Q497.3,290.2 497.2,287.3" stroke-width="1.55"/><path d="M519.7,307.1Q520.2,305.0 521.8,303.6" stroke-width="1.34"/><path d="M533.7,301.7Q533.5,300.2 533.8,298.7" stroke-width="1.35"/><path d="M502.0,291.7Q503.3,289.7 505.4,288.6" stroke-width="1.33"/><path d="M523.8,299.1Q524.7,296.2 527.3,294.7" stroke-width="1.02"/><path d="M525.8,300.8Q525.6,297.9 526.4,295.1" stroke-width="1.40"/><path d="M527.4,299.1Q528.0,297.4 527.4,295.6" stroke-width="1.20"/><path d="M501.5,294.3Q502.7,293.4 504.0,292.7" stroke-width="1.30"/><path d="M526.2,324.1Q525.6,321.9 526.3,319.7" stroke-width="1.73"/><path d="M512.8,320.1Q513.7,318.5 514.0,316.6" stroke-width="1.56"/><path d="M503.5,299.5Q504.8,298.1 506.7,297.5" stroke-width="0.98"/><path d="M497.8,320.9Q500.3,320.1 502.2,318.2" stroke-width="1.30"/><path d="M495.8,297.1Q495.5,295.3 494.2,294.1" stroke-width="1.52"/><path d="M503.5,310.8Q503.0,309.8 503.2,308.8" stroke-width="1.02"/><path d="M535.9,319.8Q536.9,318.4 536.8,316.7" stroke-width="1.12"/><path d="M495.5,300.4Q497.0,300.0 497.9,298.7" stroke-width="1.12"/><path d="M495.7,294.5Q497.5,292.4 497.7,289.5" stroke-width="1.65"/><path d="M501.9,296.3Q501.7,295.2 501.4,294.2" stroke-width="1.43"/><path d="M516.9,320.7Q516.3,318.0 515.8,315.2" stroke-width="1.52"/><path d="M501.9,319.4Q503.7,318.6 505.3,317.3" stroke-width="1.71"/><path d="M505.8,294.2Q506.7,291.4 507.9,288.7" stroke-width="1.26"/><path d="M504.7,301.5Q505.0,298.6 506.3,296.0" stroke-width="1.45"/><path d="M502.8,321.8Q505.5,320.7 506.9,318.0" stroke-width="1.54"/><path d="M500.3,320.4Q501.1,318.6 501.2,316.6" stroke-width="1.41"/><path d="M508.4,289.7Q507.5,287.8 507.1,285.7" stroke-width="1.34"/><path d="M530.3,290.1Q531.4,289.1 531.6,287.6" stroke-width="1.05"/><path d="M527.2,305.8Q528.3,303.6 530.4,302.5" stroke-width="1.69"/><path d="M507.9,295.7Q509.0,294.4 509.8,292.9" stroke-width="1.51"/><path d="M527.9,321.8Q527.1,319.7 526.8,317.5" stroke-width="1.04"/><path d="M501.0,296.6Q501.6,295.6 502.4,294.7" stroke-width="1.55"/><path d="M513.7,309.1Q513.8,306.9 513.6,304.6" stroke-width="1.26"/><path d="M516.4,309.3Q516.8,308.1 517.2,306.9" stroke-width="1.57"/><path d="M506.4,324.3Q506.5,321.8 506.7,319.4" stroke-width="1.11"/><path d="M507.4,299.5Q509.4,298.9 510.5,297.2" stroke-width="1.75"/><path d="M495.4,299.5Q494.8,297.8 493.7,296.4" stroke-width="1.20"/><path d="M515.3,312.6Q516.1,309.8 515.1,307.1" stroke-width="1.68"/><path d="M534.5,293.3Q532.8,291.1 532.5,288.4" stroke-width="1.70"/><path d="M508.2,312.6Q507.3,310.2 506.8,307.7" stroke-width="1.66"/><path d="M521.7,303.6Q523.6,301.3 523.9,298.3" stroke-width="1.69"/><path d="M510.8,318.6Q509.9,315.9 509.8,313.1" stroke-width="1.23"/><path d="M514.8,303.6Q516.3,301.4 517.6,299.1" stroke-width="1.58"/><path d="M499.1,317.7Q498.8,315.6 499.1,313.5" stroke-width="1.16"/><path d="M531.4,310.6Q532.9,309.9 534.0,308.5" stroke-width="1.00"/><path d="M505.9,292.7Q507.0,292.3 507.7,291.5" stroke-width="1.14"/><path d="M497.5,299.1Q498.3,298.2 499.2,297.4" stroke-width="1.27"/><path d="M522.5,297.4Q523.9,295.5 525.1,293.6" stroke-width="1.17"/><path d="M496.8,324.0Q498.1,323.1 499.5,322.5" stroke-width="1.02"/><path d="M498.0,296.6Q498.8,295.4 499.3,294.1" stroke-width="1.22"/><path d="M528.0,303.7Q527.0,301.0 527.7,298.1" stroke-width="1.31"/><path d="M506.4,309.9Q508.5,307.8 511.2,306.3" stroke-width="1.62"/><path d="M516.6,294.2Q517.2,291.1 519.6,289.0" stroke-width="1.35"/><path d="M498.5,307.8Q498.9,306.1 500.2,305.1" stroke-width="1.68"/><path d="M518.3,313.0Q518.7,310.7 519.9,308.7" stroke-width="1.45"/><path d="M534.9,317.7Q537.2,316.2 539.5,314.6" stroke-width="1.09"/><path d="M506.5,292.3Q507.3,289.7 508.3,287.2" stroke-width="1.62"/><path d="M526.7,319.2Q527.5,318.5 528.3,317.8" stroke-width="1.43"/><path d="M536.1,300.8Q537.1,300.0 537.6,298.8" stroke-width="1.56"/><path d="M516.7,298.4Q518.4,296.4 518.9,293.9" stroke-width="1.03"/><path d="M528.9,319.3Q527.1,317.5 526.8,315.0" stroke-width="0.98"/><path d="M499.0,307.1Q500.4,305.5 501.0,303.5" stroke-width="1.18"/><path d="M536.6,306.8Q536.1,305.0 536.2,303.1" stroke-width="1.60"/><path d="M527.8,299.7Q527.9,298.2 528.5,296.8" stroke-width="1.18"/><path d="M532.8,292.8Q533.8,291.6 534.1,290.2" stroke-width="1.08"/><path d="M507.3,289.6Q508.3,287.5 508.1,285.2" stroke-width="1.55"/><path d="M511.3,309.6Q512.9,307.1 512.8,304.2" stroke-width="1.24"/><path d="M499.7,320.1Q500.9,319.3 502.0,318.4" stroke-width="1.24"/><path d="M527.3,289.1Q528.5,288.1 528.9,286.7" stroke-width="1.38"/><path d="M531.1,321.6Q532.8,320.3 534.8,319.4" stroke-width="1.09"/><path d="M517.0,312.4Q518.0,309.7 517.8,306.7" stroke-width="1.04"/><path d="M526.5,301.5Q526.6,299.9 527.1,298.3" stroke-width="1.45"/><path d="M495.5,319.6Q494.4,317.5 494.0,315.2" stroke-width="1.49"/><path d="M504.4,302.1Q505.1,299.2 507.4,297.2" stroke-width="1.18"/><path d="M513.5,324.2Q514.9,322.2 514.5,319.8" stroke-width="1.28"/><path d="M498.1,310.0Q499.1,307.0 501.6,305.2" stroke-width="1.70"/><path d="M500.0,320.9Q502.2,319.6 503.4,317.4" stroke-width="1.45"/><path d="M531.8,300.6Q532.7,298.1 532.0,295.5" stroke-width="1.53"/><path d="M505.1,294.3Q506.4,292.8 508.3,292.2" stroke-width="1.00"/><path d="M536.5,325.6Q535.7,322.7 537.1,320.0" stroke-width="1.01"/><path d="M510.3,305.6Q509.9,304.3 510.2,303.0" stroke-width="1.32"/><path d="M497.9,301.5Q496.8,299.0 495.3,296.7" stroke-width="0.99"/><path d="M531.6,313.7Q532.0,312.7 532.1,311.6" stroke-width="1.75"/><path d="M518.1,322.4Q518.9,320.7 519.8,319.1" stroke-width="1.04"/><path d="M512.1,299.8Q511.7,298.5 511.4,297.2" stroke-width="1.54"/><path d="M519.3,296.4Q520.3,295.1 521.5,294.1" stroke-width="1.21"/><path d="M500.4,317.9Q500.0,316.7 499.2,315.7" stroke-width="1.50"/><path d="M535.5,298.3Q536.8,295.9 538.2,293.5" stroke-width="1.33"/><path d="M516.5,314.1Q517.3,311.7 518.7,309.6" stroke-width="1.66"/><path d="M514.9,305.5Q516.2,304.0 517.6,302.7" stroke-width="1.18"/><path d="M509.5,322.1Q510.2,320.7 511.1,319.4" stroke-width="1.45"/><path d="M529.9,292.8Q531.3,292.0 532.0,290.6" stroke-width="1.28"/><path d="M527.6,318.6Q527.8,317.2 527.4,315.8" stroke-width="1.33"/><path d="M499.9,298.3Q499.7,295.7 499.5,293.1" stroke-width="1.67"/><path d="M497.3,299.4Q499.1,297.9 500.8,296.3" stroke-width="1.31"/><path d="M501.5,298.6Q502.0,297.1 502.1,295.6" stroke-width="1.42"/><path d="M508.2,316.0Q507.7,313.1 508.7,310.5" stroke-width="1.34"/><path d="M496.7,320.4Q497.7,319.3 499.0,318.7" stroke-width="1.05"/><path d="M515.9,303.6Q516.6,302.7 516.7,301.5" stroke-width="1.52"/><path d="M529.8,304.2Q530.5,302.2 531.6,300.3" stroke-width="1.73"/><path d="M504.8,309.6Q504.8,308.5 504.0,307.7" stroke-width="1.31"/><path d="M509.0,308.0Q510.1,306.8 511.1,305.8" stroke-width="1.61"/><path d="M535.4,303.3Q536.6,302.3 536.9,300.8" stroke-width="1.66"/><path d="M528.2,294.8Q528.8,292.1 529.7,289.4" stroke-width="1.47"/><path d="M526.3,296.5Q526.4,294.8 526.9,293.1" stroke-width="1.54"/><path d="M503.1,296.4Q503.1,293.9 504.8,292.0" stroke-width="1.72"/><path d="M536.3,325.3Q536.7,322.4 535.2,319.9" stroke-width="1.60"/><path d="M531.0,294.4Q530.9,293.2 530.1,292.1" stroke-width="1.01"/><path d="M508.5,300.9Q509.7,299.8 510.7,298.6" stroke-width="1.63"/><path d="M496.4,307.3Q496.8,304.2 495.1,301.6" stroke-width="1.42"/><path d="M503.6,295.2Q501.6,293.1 501.6,290.1" stroke-width="0.99"/><path d="M493.6,300.5Q494.5,298.9 496.2,298.2" stroke-width="1.34"/><path d="M535.4,290.0Q536.4,288.2 538.4,287.5" stroke-width="1.67"/><path d="M498.9,302.8Q499.5,299.9 499.5,297.0" stroke-width="1.45"/><path d="M514.4,318.8Q514.2,317.6 514.8,316.5" stroke-width="1.00"/><path d="M508.2,304.3Q507.6,302.2 507.1,300.1" stroke-width="1.04"/><path d="M533.5,295.5Q536.0,294.4 537.5,292.1" stroke-width="1.49"/><path d="M510.6,318.5Q511.7,318.0 512.4,317.0" stroke-width="1.32"/><path d="M501.8,294.9Q501.0,293.1 501.1,291.1" stroke-width="1.29"/><path d="M508.2,298.6Q508.9,296.3 510.3,294.4" stroke-width="1.07"/><path d="M504.2,307.9Q503.6,307.0 503.5,306.0" stroke-width="1.31"/><path d="M497.7,302.3Q498.6,300.8 499.3,299.3" stroke-width="1.09"/><path d="M496.0,290.8Q496.9,289.9 497.7,288.9" stroke-width="1.09"/><path d="M499.3,309.9Q500.2,307.9 501.7,306.4" stroke-width="1.39"/><path d="M501.6,319.8Q503.2,318.3 504.7,316.9" stroke-width="1.01"/><path d="M507.1,320.9Q508.2,319.4 508.0,317.5" stroke-width="1.32"/><path d="M532.9,321.7Q531.3,320.4 531.0,318.4" stroke-width="1.06"/><path d="M529.1,298.2Q530.2,296.2 530.4,293.9" stroke-width="1.13"/><path d="M537.3,320.3Q536.6,318.6 536.5,316.8" stroke-width="1.27"/><path d="M530.2,319.1Q529.7,317.5 528.9,316.0" stroke-width="1.14"/><path d="M532.4,317.4Q533.1,316.0 533.1,314.5" stroke-width="1.58"/><path d="M497.6,325.6Q498.1,322.7 500.2,320.6" stroke-width="1.33"/><path d="M519.6,320.5Q520.6,320.1 521.4,319.4" stroke-width="1.40"/><path d="M525.1,294.9Q526.3,294.7 527.1,293.8" stroke-width="1.14"/><path d="M534.0,303.4Q535.1,302.3 536.1,301.2" stroke-width="1.16"/><path d="M504.2,305.2Q503.5,303.5 502.5,301.9" stroke-width="1.01"/><path d="M496.5,315.0Q496.0,312.9 497.0,310.9" stroke-width="1.21"/><path d="M503.0,304.7Q501.8,302.0 500.9,299.3" stroke-width="1.56"/><path d="M507.3,305.1Q507.1,303.6 507.6,302.3" stroke-width="1.41"/><path d="M531.5,298.3Q530.6,295.8 531.2,293.2" stroke-width="1.40"/><path d="M506.0,303.0Q506.6,300.5 508.8,299.0" stroke-width="1.52"/><path d="M537.7,304.3Q536.6,302.4 537.0,300.3" stroke-width="1.05"/><path d="M531.6,322.5Q532.9,321.2 533.2,319.4" stroke-width="1.50"/><path d="M513.3,301.9Q513.4,300.4 512.5,299.2" stroke-width="1.70"/><path d="M498.8,303.9Q500.4,303.4 501.3,302.1" stroke-width="1.06"/><path d="M494.7,297.6Q494.5,295.9 495.3,294.4" stroke-width="1.37"/><path d="M529.9,304.0Q531.7,302.1 533.2,299.8" stroke-width="1.15"/><path d="M510.9,307.8Q510.7,304.9 510.1,302.0" stroke-width="1.20"/><path d="M527.0,312.8Q526.8,309.7 524.8,307.4" stroke-width="1.67"/><path d="M497.0,299.8Q498.2,298.7 499.1,297.3" stroke-width="1.14"/><path d="M515.9,298.8Q515.6,296.6 513.9,295.2" stroke-width="1.05"/><path d="M501.8,297.7Q501.1,294.8 500.4,292.0" stroke-width="1.75"/><path d="M496.4,289.9Q495.8,288.7 495.9,287.3" stroke-width="1.24"/><path d="M533.4,303.7Q532.6,301.6 532.6,299.4" stroke-width="1.41"/><path d="M509.6,294.8Q508.1,293.5 507.9,291.5" stroke-width="1.66"/><path d="M526.5,289.4Q525.6,287.7 524.6,286.0" stroke-width="1.48"/><path d="M519.9,309.7Q520.7,307.5 521.1,305.2" stroke-width="1.72"/><path d="M509.1,312.0Q511.4,310.1 512.3,307.2" stroke-width="0.98"/><path d="M497.3,296.5Q498.6,294.9 500.6,294.4" stroke-width="1.42"/><path d="M521.4,323.4Q521.5,321.7 522.6,320.4" stroke-width="1.68"/><path d="M526.1,298.8Q529.0,298.1 530.9,295.8" stroke-width="1.40"/><path d="M494.6,293.9Q496.8,291.7 497.5,288.7" stroke-width="1.65"/><path d="M500.7,319.1Q501.4,317.5 502.8,316.3" stroke-width="1.16"/><path d="M535.1,290.5Q535.6,289.5 536.7,289.0" stroke-width="1.18"/><path d="M504.5,301.4Q504.7,300.3 504.7,299.3" stroke-width="1.63"/><path d="M531.8,307.6Q531.1,305.5 529.9,303.6" stroke-width="1.71"/><path d="M517.6,291.1Q516.9,289.9 517.2,288.5" stroke-width="0.99"/><path d="M498.5,317.0Q500.6,315.4 502.4,313.3" stroke-width="1.44"/><path d="M520.2,303.8Q518.7,302.2 518.4,299.9" stroke-width="1.20"/><path d="M536.1,298.9Q536.3,297.2 537.3,295.8" stroke-width="1.01"/><path d="M533.2,317.8Q533.5,315.8 534.6,314.1" stroke-width="1.60"/><path d="M519.3,290.4Q520.3,288.9 521.3,287.2" stroke-width="1.67"/><path d="M502.2,323.5Q501.8,321.7 501.9,319.9" stroke-width="1.58"/><path d="M525.8,297.9Q526.1,295.5 527.9,293.8" stroke-width="1.07"/><path d="M497.2,292.5Q498.1,291.9 498.8,291.1" stroke-width="1.44"/><path d="M512.6,290.0Q513.6,289.3 514.7,288.7" stroke-width="1.20"/><path d="M516.9,302.0Q518.4,299.6 518.6,296.8" stroke-width="1.59"/><path d="M513.0,310.9Q515.5,309.5 517.6,307.5" stroke-width="1.25"/><path d="M507.2,290.3Q506.3,288.7 506.7,286.9" stroke-width="1.64"/><path d="M531.8,295.2Q531.5,294.1 532.0,293.0" stroke-width="1.00"/><path d="M514.4,302.9Q513.3,300.5 513.3,297.9" stroke-width="1.59"/><path d="M493.5,315.0Q495.8,313.2 496.4,310.4" stroke-width="1.62"/><path d="M531.9,289.5Q532.7,287.5 534.2,285.9" stroke-width="1.36"/><path d="M531.0,318.3Q531.5,317.0 531.3,315.6" stroke-width="1.06"/><path d="M525.2,304.7Q523.5,302.4 523.0,299.6" stroke-width="1.34"/><path d="M499.9,300.0Q499.9,298.9 500.4,298.0" stroke-width="1.00"/><path d="M534.1,289.7Q536.1,287.5 537.2,284.7" stroke-width="1.70"/><path d="M516.2,306.6Q515.8,303.6 513.5,301.6" stroke-width="1.49"/><path d="M498.5,309.5Q497.9,307.8 497.9,305.9" stroke-width="1.48"/><path d="M528.8,304.3Q530.2,303.4 531.4,302.4" stroke-width="1.55"/><path d="M494.2,299.9Q494.6,296.8 496.9,294.6" stroke-width="1.53"/><path d="M502.9,299.0Q503.2,296.4 502.6,293.8" stroke-width="1.37"/><path d="M523.4,313.7Q523.6,310.9 525.5,308.8" stroke-width="1.47"/><path d="M518.6,324.2Q519.8,322.3 519.6,320.0" stroke-width="1.02"/><path d="M531.5,307.0Q533.1,306.1 534.0,304.5" stroke-width="1.28"/><path d="M514.0,311.7Q514.9,310.8 515.7,309.8" stroke-width="1.03"/></g>
<g fill="none" stroke="#A87000"><path d="M525.5,320.3Q520.2,315.9 513.5,314.8" stroke-width="1.20" stroke-dasharray="3.8 1.3 2.2 0.9"/><path d="M504.1,291.0Q498.7,289.7 495.5,285.3" stroke-width="1.71" stroke-dasharray="3.0 1.3 0.8 1.9"/><path d="M498.0,315.2Q494.7,309.4 493.5,302.7" stroke-width="1.72" stroke-dasharray="2.8 0.7 1.2 0.9"/><path d="M520.4,298.9Q515.1,295.3 509.0,297.3" stroke-width="2.04" stroke-dasharray="2.3 1.0 1.7 1.2"/><path d="M515.0,297.8Q511.8,292.5 507.6,288.1" stroke-width="1.27" stroke-dasharray="3.4 1.1 1.0 1.2"/><path d="M521.6,288.3Q517.9,287.9 514.3,287.0" stroke-width="1.46" stroke-dasharray="2.5 1.7 1.0 1.0"/><path d="M528.9,303.4Q527.9,300.1 524.8,298.7" stroke-width="1.88" stroke-dasharray="1.5 1.1 2.3 1.1"/><path d="M518.3,310.6Q517.2,304.0 512.1,299.6" stroke-width="1.37" stroke-dasharray="1.8 1.1 1.3 1.0"/><path d="M523.0,305.0Q521.1,299.7 517.6,295.3" stroke-width="1.28" stroke-dasharray="1.7 1.6 1.3 1.1"/><path d="M522.8,300.9Q518.3,297.4 514.5,293.0" stroke-width="1.36" stroke-dasharray="2.7 1.7 1.2 1.8"/><path d="M520.1,314.2Q518.4,311.7 516.2,309.5" stroke-width="1.36" stroke-dasharray="1.6 1.5 1.0 1.2"/><path d="M530.0,315.6Q524.5,312.8 519.7,308.9" stroke-width="1.65" stroke-dasharray="3.7 1.2 2.4 1.1"/><path d="M537.1,291.8Q532.4,290.8 527.9,289.0" stroke-width="1.54" stroke-dasharray="1.3 1.1 2.2 1.3"/><path d="M508.1,315.0Q505.2,313.5 501.9,313.4" stroke-width="1.34" stroke-dasharray="2.6 1.6 2.2 1.7"/><path d="M503.5,322.8Q500.7,318.4 497.0,314.5" stroke-width="2.08" stroke-dasharray="2.3 1.6 2.1 1.3"/><path d="M532.1,299.2Q529.9,295.7 525.8,295.0" stroke-width="1.41" stroke-dasharray="3.2 1.1 1.5 1.9"/><path d="M502.5,319.1Q499.4,319.2 496.4,318.9" stroke-width="2.28" stroke-dasharray="1.3 1.6 1.3 1.2"/><path d="M503.4,303.5Q497.6,299.9 492.5,295.5" stroke-width="1.26" stroke-dasharray="1.3 1.8 1.9 1.8"/></g>
</g>
<clipPath id="cL"><path d="M454.4,286.1C457.6,282.6 457.7,282.5 462.4,280.1C467.1,277.7 467.3,276.8 472.0,277.0C476.7,277.2 476.1,278.8 480.0,281.0C483.9,283.2 483.8,281.3 486.6,285.1C489.4,288.9 490.2,289.9 490.6,295.2C491.0,300.5 487.9,299.7 488.0,305.0C488.1,310.3 491.0,308.6 491.0,315.0C491.0,321.4 490.9,323.4 488.0,329.0C485.1,334.6 484.8,334.4 480.0,336.0C475.2,337.6 474.8,336.3 470.0,335.0C465.2,333.7 465.6,333.0 462.0,331.0C458.4,329.0 458.4,331.1 456.4,327.4C454.4,323.7 453.3,322.7 454.4,317.3C455.5,311.9 460.9,311.5 460.4,307.2C459.9,302.9 455.1,304.9 452.4,301.2C449.7,297.5 449.9,297.2 450.4,293.2C450.9,289.2 451.2,289.6 454.4,286.1Z"/></clipPath>
<g clip-path="url(#cL)">
<path d="M454.4,286.1C457.6,282.6 457.7,282.5 462.4,280.1C467.1,277.7 467.3,276.8 472.0,277.0C476.7,277.2 476.1,278.8 480.0,281.0C483.9,283.2 483.8,281.3 486.6,285.1C489.4,288.9 490.2,289.9 490.6,295.2C491.0,300.5 487.9,299.7 488.0,305.0C488.1,310.3 491.0,308.6 491.0,315.0C491.0,321.4 490.9,323.4 488.0,329.0C485.1,334.6 484.8,334.4 480.0,336.0C475.2,337.6 474.8,336.3 470.0,335.0C465.2,333.7 465.6,333.0 462.0,331.0C458.4,329.0 458.4,331.1 456.4,327.4C454.4,323.7 453.3,322.7 454.4,317.3C455.5,311.9 460.9,311.5 460.4,307.2C459.9,302.9 455.1,304.9 452.4,301.2C449.7,297.5 449.9,297.2 450.4,293.2C450.9,289.2 451.2,289.6 454.4,286.1Z" fill="#8400A8" opacity="0.10"/>
<g fill="none" stroke="#8400A8" stroke-linecap="round"><path d="M453.8,293.3Q456.1,292.0 458.8,292.4" stroke-width="1.67"/><path d="M464.0,302.1Q465.7,300.5 466.5,298.3" stroke-width="1.31"/><path d="M454.7,336.7Q454.9,335.3 455.1,333.9" stroke-width="1.35"/><path d="M463.9,328.8Q465.7,328.4 467.4,327.6" stroke-width="1.04"/><path d="M460.9,294.3Q462.4,291.8 464.9,290.1" stroke-width="0.99"/><path d="M463.4,326.2Q463.5,323.9 463.3,321.7" stroke-width="1.66"/><path d="M455.7,310.5Q456.7,308.6 458.6,307.6" stroke-width="1.71"/><path d="M473.3,333.4Q474.2,332.0 475.9,331.5" stroke-width="1.22"/><path d="M489.7,282.4Q490.0,280.8 491.2,279.6" stroke-width="0.99"/><path d="M457.7,279.5Q458.8,278.6 459.4,277.3" stroke-width="1.07"/><path d="M477.4,288.2Q476.9,285.2 478.2,282.4" stroke-width="1.69"/><path d="M486.0,328.9Q487.6,329.2 489.0,328.5" stroke-width="0.98"/><path d="M463.0,304.1Q465.3,303.1 466.6,300.9" stroke-width="1.29"/><path d="M477.1,313.3Q477.8,312.4 478.7,311.8" stroke-width="1.11"/><path d="M462.5,324.9Q465.3,324.3 467.1,322.2" stroke-width="1.16"/><path d="M480.6,321.9Q481.7,321.2 482.7,320.4" stroke-width="1.36"/><path d="M463.4,281.0Q464.0,279.2 465.5,278.1" stroke-width="0.98"/><path d="M482.7,302.6Q483.6,301.4 483.4,299.9" stroke-width="1.14"/><path d="M466.3,295.8Q468.8,295.4 471.3,295.1" stroke-width="1.05"/><path d="M450.3,289.9Q451.5,289.7 452.6,289.3" stroke-width="1.75"/><path d="M489.1,292.9Q490.5,292.2 491.4,291.0" stroke-width="1.56"/><path d="M468.1,314.3Q470.1,314.0 471.5,312.7" stroke-width="1.10"/><path d="M465.4,306.2Q466.4,305.7 467.0,304.8" stroke-width="1.51"/><path d="M487.9,303.4Q488.4,302.4 489.1,301.6" stroke-width="1.30"/><path d="M472.1,327.2Q473.1,326.1 474.4,325.4" stroke-width="1.03"/><path d="M477.9,288.7Q478.0,287.1 478.6,285.7" stroke-width="1.30"/><path d="M479.2,289.2Q479.8,286.9 481.7,285.5" stroke-width="1.65"/><path d="M471.6,292.6Q472.0,291.2 471.6,289.9" stroke-width="1.19"/><path d="M472.2,282.6Q472.5,279.6 474.4,277.3" stroke-width="1.33"/><path d="M477.1,280.1Q477.5,277.5 477.8,274.9" stroke-width="1.49"/><path d="M458.8,295.9Q458.6,294.0 459.8,292.5" stroke-width="1.12"/><path d="M488.5,317.9Q489.0,316.7 489.1,315.4" stroke-width="1.00"/><path d="M464.3,284.3Q467.1,283.8 469.5,282.2" stroke-width="1.03"/><path d="M469.5,308.4Q469.5,306.8 470.5,305.6" stroke-width="1.10"/><path d="M459.7,290.0Q461.2,288.9 462.3,287.4" stroke-width="1.41"/><path d="M486.5,311.7Q487.2,310.7 488.1,309.7" stroke-width="1.36"/><path d="M459.9,300.9Q460.2,299.1 461.6,298.1" stroke-width="1.32"/><path d="M463.5,281.5Q464.7,280.9 465.8,280.3" stroke-width="1.47"/><path d="M463.8,327.3Q465.6,324.9 468.5,323.7" stroke-width="1.38"/><path d="M459.0,287.0Q460.0,285.3 460.7,283.4" stroke-width="1.49"/><path d="M478.8,281.1Q479.2,279.4 480.4,278.1" stroke-width="1.07"/><path d="M475.2,298.6Q476.0,295.6 478.6,293.9" stroke-width="1.60"/><path d="M470.8,296.5Q472.3,296.2 473.5,295.1" stroke-width="1.75"/><path d="M484.0,317.0Q484.0,315.8 484.0,314.5" stroke-width="1.46"/><path d="M458.4,331.6Q459.3,330.9 460.0,330.2" stroke-width="1.71"/><path d="M472.5,311.2Q473.9,309.8 474.1,307.8" stroke-width="1.65"/><path d="M486.1,305.8Q487.2,304.3 488.5,302.9" stroke-width="1.60"/><path d="M481.8,299.0Q482.2,297.6 481.8,296.2" stroke-width="1.56"/><path d="M470.5,292.5Q471.9,292.0 473.3,291.6" stroke-width="1.40"/><path d="M454.2,310.6Q453.8,309.3 454.1,308.1" stroke-width="1.16"/><path d="M476.3,303.3Q476.5,302.0 477.5,301.1" stroke-width="1.53"/><path d="M486.3,313.8Q489.0,313.9 491.2,312.4" stroke-width="1.08"/><path d="M480.3,330.8Q480.9,329.6 482.2,328.9" stroke-width="1.51"/><path d="M464.3,333.0Q466.8,332.4 469.4,332.2" stroke-width="1.38"/><path d="M473.7,312.4Q475.1,310.1 475.0,307.4" stroke-width="1.68"/><path d="M468.7,323.5Q469.9,322.7 470.9,321.8" stroke-width="1.75"/><path d="M487.6,320.3Q489.0,319.5 490.0,318.1" stroke-width="1.60"/><path d="M474.1,322.0Q475.9,322.0 477.7,321.6" stroke-width="1.19"/><path d="M465.8,297.4Q466.6,295.8 466.2,294.1" stroke-width="1.24"/><path d="M472.4,296.8Q473.3,294.7 473.8,292.4" stroke-width="1.52"/><path d="M460.1,303.1Q462.6,302.3 465.1,301.7" stroke-width="1.36"/><path d="M480.0,292.3Q480.8,290.0 482.7,288.5" stroke-width="1.66"/><path d="M483.2,310.5Q483.6,309.0 483.8,307.4" stroke-width="1.22"/><path d="M463.9,330.8Q463.9,329.5 464.3,328.3" stroke-width="1.57"/><path d="M475.7,327.6Q476.2,326.7 477.0,325.9" stroke-width="1.20"/><path d="M485.7,284.7Q487.4,283.8 489.2,283.4" stroke-width="1.60"/><path d="M456.8,330.9Q457.0,329.0 457.3,327.1" stroke-width="1.55"/><path d="M463.0,302.8Q463.4,301.0 463.1,299.3" stroke-width="1.56"/><path d="M476.9,334.4Q479.2,332.7 479.9,329.9" stroke-width="1.72"/><path d="M484.2,316.4Q485.9,316.0 487.5,315.9" stroke-width="1.70"/><path d="M458.5,286.8Q458.2,285.2 458.8,283.7" stroke-width="1.71"/><path d="M476.4,313.3Q477.7,311.6 478.9,309.9" stroke-width="1.66"/><path d="M455.2,327.4Q455.2,325.4 456.2,323.6" stroke-width="1.13"/><path d="M452.2,326.8Q453.0,326.1 453.4,325.0" stroke-width="1.29"/><path d="M475.4,329.5Q476.9,327.3 479.3,326.2" stroke-width="1.47"/><path d="M483.0,314.5Q483.1,313.5 483.2,312.4" stroke-width="1.39"/><path d="M479.9,334.8Q481.1,333.3 482.3,331.8" stroke-width="1.26"/><path d="M453.6,326.7Q455.1,326.9 456.3,326.0" stroke-width="1.56"/><path d="M468.9,320.4Q469.3,318.2 470.6,316.5" stroke-width="0.98"/><path d="M459.8,292.8Q461.5,291.9 463.3,292.1" stroke-width="1.22"/><path d="M475.0,284.0Q476.7,282.4 476.9,280.0" stroke-width="1.05"/><path d="M467.0,322.5Q468.2,321.8 468.6,320.5" stroke-width="1.39"/><path d="M487.5,288.1Q489.4,287.1 490.4,285.2" stroke-width="1.07"/><path d="M474.0,300.2Q476.1,299.4 477.9,298.1" stroke-width="1.11"/><path d="M478.0,332.4Q480.9,331.6 482.8,329.4" stroke-width="1.73"/><path d="M488.5,302.7Q488.8,300.1 490.7,298.3" stroke-width="1.51"/><path d="M452.6,303.7Q452.6,302.6 453.0,301.6" stroke-width="1.06"/><path d="M468.0,325.1Q469.5,324.1 470.0,322.3" stroke-width="1.39"/><path d="M449.6,334.1Q450.7,331.3 453.4,330.1" stroke-width="1.14"/><path d="M490.8,317.4Q490.2,315.5 490.8,313.6" stroke-width="1.56"/><path d="M459.6,283.9Q461.1,281.6 462.9,279.6" stroke-width="1.26"/><path d="M475.0,294.5Q475.7,292.0 477.6,290.1" stroke-width="1.30"/><path d="M475.3,295.5Q476.3,295.1 477.2,294.5" stroke-width="1.13"/><path d="M468.2,302.7Q469.3,302.7 470.4,302.5" stroke-width="1.45"/><path d="M453.3,290.1Q454.8,289.3 455.5,287.7" stroke-width="1.68"/><path d="M459.1,324.6Q459.3,322.2 459.9,319.9" stroke-width="1.33"/><path d="M469.3,288.9Q472.0,288.2 474.7,287.7" stroke-width="1.32"/><path d="M482.9,305.2Q484.1,303.4 484.5,301.4" stroke-width="1.75"/><path d="M481.4,289.1Q483.8,288.6 485.7,287.1" stroke-width="1.70"/><path d="M485.2,291.6Q485.0,290.1 485.0,288.6" stroke-width="1.33"/><path d="M475.3,290.9Q475.5,288.8 475.1,286.6" stroke-width="1.20"/><path d="M474.9,319.7Q476.1,317.6 477.3,315.5" stroke-width="1.64"/><path d="M483.8,285.6Q484.9,284.7 486.2,284.6" stroke-width="1.19"/><path d="M484.3,292.3Q485.8,292.0 486.7,290.7" stroke-width="1.59"/><path d="M475.2,292.5Q475.6,290.7 476.9,289.3" stroke-width="1.48"/><path d="M472.5,285.8Q472.2,283.5 473.2,281.4" stroke-width="1.21"/><path d="M453.0,291.7Q453.2,288.7 455.2,286.4" stroke-width="1.49"/><path d="M459.1,312.0Q459.8,309.6 461.9,308.2" stroke-width="1.17"/><path d="M465.0,329.9Q466.1,328.5 467.5,327.5" stroke-width="1.18"/><path d="M480.1,315.4Q481.8,313.1 482.4,310.4" stroke-width="1.71"/><path d="M470.6,280.6Q471.3,279.0 471.0,277.2" stroke-width="1.01"/><path d="M470.1,318.0Q472.3,317.1 474.7,316.8" stroke-width="1.70"/><path d="M462.5,333.5Q463.7,332.8 464.8,331.9" stroke-width="1.59"/><path d="M471.8,288.1Q474.4,287.0 477.3,287.4" stroke-width="1.39"/><path d="M481.5,309.4Q482.2,306.5 481.2,303.7" stroke-width="1.61"/><path d="M472.9,280.0Q474.5,280.0 476.0,279.1" stroke-width="1.15"/><path d="M451.8,295.2Q452.9,293.7 454.3,292.6" stroke-width="1.38"/><path d="M487.5,283.6Q487.7,281.7 487.3,279.8" stroke-width="1.05"/><path d="M469.9,312.3Q471.6,310.9 473.7,310.7" stroke-width="1.48"/><path d="M474.8,288.0Q474.9,285.3 476.5,283.2" stroke-width="1.22"/><path d="M452.9,325.9Q454.9,324.6 457.1,323.9" stroke-width="1.21"/><path d="M456.7,332.0Q458.1,330.2 458.5,328.0" stroke-width="1.00"/><path d="M480.5,313.3Q482.3,311.0 485.3,310.3" stroke-width="1.12"/><path d="M464.9,322.4Q467.1,321.5 469.3,320.7" stroke-width="1.48"/><path d="M453.2,323.5Q455.9,322.6 457.8,320.4" stroke-width="1.00"/><path d="M472.2,292.0Q474.0,290.1 476.2,288.8" stroke-width="1.35"/><path d="M473.8,294.9Q475.0,294.4 476.2,293.9" stroke-width="1.16"/><path d="M483.6,336.3Q485.4,334.4 485.7,331.8" stroke-width="1.42"/><path d="M454.1,287.8Q454.2,286.0 454.5,284.3" stroke-width="1.02"/><path d="M470.4,319.3Q469.6,317.0 470.5,314.8" stroke-width="1.71"/><path d="M454.1,337.1Q455.1,334.4 454.1,331.7" stroke-width="1.56"/><path d="M461.6,331.3Q462.3,330.3 463.1,329.4" stroke-width="1.34"/><path d="M489.9,290.0Q489.8,288.0 490.4,286.0" stroke-width="1.01"/><path d="M484.1,289.6Q484.5,286.9 484.5,284.2" stroke-width="1.25"/><path d="M456.0,328.3Q456.1,325.4 458.0,323.2" stroke-width="1.26"/><path d="M452.7,323.4Q454.1,321.8 456.0,320.9" stroke-width="1.38"/><path d="M471.8,320.6Q472.7,319.5 472.8,318.0" stroke-width="1.07"/><path d="M461.7,316.1Q463.0,314.6 463.3,312.7" stroke-width="1.59"/><path d="M474.9,310.9Q475.9,309.4 477.6,309.1" stroke-width="1.05"/><path d="M490.3,298.5Q490.9,297.0 491.2,295.5" stroke-width="1.06"/><path d="M465.5,297.0Q466.8,295.9 468.2,294.9" stroke-width="1.00"/><path d="M450.0,334.7Q452.5,333.1 454.4,330.9" stroke-width="1.22"/><path d="M453.3,300.9Q453.9,298.3 453.3,295.6" stroke-width="1.35"/><path d="M456.0,313.0Q457.1,311.5 458.6,310.4" stroke-width="1.59"/><path d="M452.1,328.8Q452.4,325.9 453.7,323.3" stroke-width="1.14"/><path d="M486.4,313.6Q488.2,312.5 490.3,311.8" stroke-width="1.19"/><path d="M486.7,332.2Q486.8,329.8 488.3,327.8" stroke-width="1.49"/><path d="M457.2,321.3Q457.7,320.0 457.7,318.5" stroke-width="1.73"/><path d="M481.8,322.9Q484.0,320.9 486.9,320.4" stroke-width="1.64"/><path d="M483.9,326.4Q484.6,323.9 485.1,321.4" stroke-width="1.72"/><path d="M463.4,323.0Q466.0,322.7 468.2,321.1" stroke-width="1.68"/><path d="M475.6,295.8Q476.9,293.7 478.9,292.0" stroke-width="1.33"/><path d="M486.6,327.5Q486.9,326.4 487.2,325.2" stroke-width="1.02"/><path d="M462.4,326.1Q464.2,325.5 465.9,324.8" stroke-width="1.06"/><path d="M454.1,293.0Q454.6,292.1 455.5,291.5" stroke-width="1.57"/><path d="M477.0,327.9Q479.4,326.1 482.0,324.5" stroke-width="1.49"/><path d="M457.2,317.5Q459.0,317.1 460.6,316.1" stroke-width="1.73"/><path d="M464.8,316.2Q467.3,315.6 469.1,313.8" stroke-width="1.71"/><path d="M449.0,301.9Q450.5,299.4 452.6,297.5" stroke-width="1.38"/><path d="M472.3,286.4Q474.4,284.8 476.9,284.0" stroke-width="1.73"/><path d="M452.7,324.5Q453.7,324.0 454.8,323.8" stroke-width="1.61"/><path d="M474.3,289.7Q476.7,288.6 479.1,287.4" stroke-width="1.72"/><path d="M465.1,291.6Q466.3,290.5 468.0,290.2" stroke-width="1.21"/><path d="M450.6,281.0Q451.9,278.9 453.2,276.7" stroke-width="1.14"/><path d="M477.2,331.2Q479.6,329.4 482.5,328.4" stroke-width="1.27"/><path d="M470.5,294.1Q471.0,292.9 471.0,291.7" stroke-width="0.98"/><path d="M458.3,294.1Q459.1,293.2 459.6,292.0" stroke-width="1.29"/><path d="M472.9,332.1Q474.1,331.5 475.1,330.6" stroke-width="1.39"/><path d="M472.2,280.2Q474.4,278.8 476.9,279.0" stroke-width="1.33"/><path d="M464.2,303.2Q465.5,301.6 466.9,300.1" stroke-width="1.21"/><path d="M472.0,322.4Q472.1,320.4 473.1,318.6" stroke-width="1.29"/><path d="M473.7,324.0Q473.7,322.2 474.6,320.7" stroke-width="1.30"/><path d="M452.5,295.2Q452.4,292.9 452.9,290.6" stroke-width="1.51"/><path d="M474.5,303.2Q474.0,300.5 475.4,298.2" stroke-width="1.65"/><path d="M474.4,314.1Q474.9,312.4 475.8,310.9" stroke-width="1.73"/><path d="M465.9,300.8Q467.7,299.6 468.5,297.6" stroke-width="1.52"/><path d="M464.7,315.0Q467.0,313.7 469.6,314.0" stroke-width="1.67"/><path d="M486.3,295.7Q487.8,293.7 487.8,291.2" stroke-width="1.07"/><path d="M486.4,328.7Q487.9,326.2 489.3,323.7" stroke-width="1.44"/><path d="M488.6,298.4Q489.2,297.1 488.9,295.8" stroke-width="1.52"/><path d="M461.1,326.7Q463.7,326.1 466.2,325.2" stroke-width="1.41"/><path d="M450.7,327.5Q452.3,326.4 453.7,325.0" stroke-width="1.10"/><path d="M483.4,333.9Q485.8,332.5 488.6,332.5" stroke-width="1.05"/><path d="M462.4,322.5Q464.8,322.5 466.7,321.1" stroke-width="1.42"/><path d="M485.5,309.8Q486.9,308.9 488.5,308.3" stroke-width="1.41"/><path d="M473.7,309.3Q474.7,307.4 475.1,305.3" stroke-width="1.28"/><path d="M470.3,305.8Q472.0,304.2 473.8,302.7" stroke-width="1.36"/><path d="M490.3,288.8Q490.3,286.9 491.1,285.3" stroke-width="0.98"/><path d="M472.3,319.3Q472.7,318.3 472.7,317.3" stroke-width="1.65"/><path d="M488.1,310.0Q488.9,307.9 490.4,306.1" stroke-width="1.15"/><path d="M483.8,304.1Q485.0,301.7 485.7,299.0" stroke-width="1.65"/><path d="M468.5,301.7Q469.6,301.6 470.5,301.0" stroke-width="1.44"/><path d="M479.4,279.6Q481.8,277.5 482.6,274.5" stroke-width="1.35"/><path d="M466.4,296.6Q465.5,293.8 466.0,290.9" stroke-width="1.69"/><path d="M476.2,285.2Q477.3,284.8 478.3,284.6" stroke-width="1.61"/><path d="M477.9,290.5Q479.8,290.6 481.6,290.0" stroke-width="1.46"/><path d="M455.2,284.3Q456.4,283.0 456.4,281.2" stroke-width="1.34"/><path d="M462.9,283.7Q463.5,282.6 463.9,281.4" stroke-width="1.31"/><path d="M479.3,291.0Q480.4,289.7 482.1,289.4" stroke-width="1.62"/><path d="M468.5,286.8Q469.0,284.3 470.8,282.6" stroke-width="1.53"/><path d="M468.6,281.1Q469.9,280.2 471.4,279.7" stroke-width="1.58"/><path d="M487.1,280.9Q487.7,279.2 489.0,277.8" stroke-width="1.56"/><path d="M455.8,287.0Q457.7,285.0 459.9,283.4" stroke-width="1.00"/><path d="M482.2,297.9Q484.4,297.0 486.8,296.9" stroke-width="1.20"/><path d="M456.6,302.4Q459.2,300.5 459.7,297.3" stroke-width="1.02"/><path d="M482.8,307.4Q482.3,305.6 483.0,303.8" stroke-width="1.73"/><path d="M451.4,300.5Q452.8,298.0 453.0,295.2" stroke-width="1.66"/><path d="M485.5,333.7Q488.1,334.2 490.5,332.9" stroke-width="1.68"/><path d="M465.7,299.7Q467.2,297.8 468.2,295.5" stroke-width="1.28"/><path d="M465.7,334.8Q466.7,333.9 467.5,332.9" stroke-width="1.65"/><path d="M475.9,324.8Q477.7,324.1 479.1,322.8" stroke-width="1.73"/><path d="M455.2,325.7Q456.3,325.4 457.2,324.7" stroke-width="1.72"/><path d="M476.2,308.1Q478.9,306.8 481.9,306.6" stroke-width="1.42"/><path d="M470.2,293.7Q472.1,293.9 473.6,292.8" stroke-width="1.49"/><path d="M485.5,287.7Q486.1,285.8 487.3,284.3" stroke-width="1.14"/><path d="M463.0,303.8Q465.5,302.1 468.5,301.8" stroke-width="1.58"/><path d="M459.3,313.1Q461.1,312.9 462.8,312.3" stroke-width="1.04"/><path d="M476.1,324.5Q476.7,323.4 477.8,322.9" stroke-width="1.44"/><path d="M486.8,281.7Q487.3,279.5 486.7,277.3" stroke-width="1.57"/><path d="M461.3,324.1Q462.2,322.5 463.6,321.3" stroke-width="1.38"/><path d="M485.6,304.3Q486.6,303.4 487.7,302.6" stroke-width="1.27"/><path d="M475.2,278.8Q475.4,277.7 475.6,276.6" stroke-width="1.12"/><path d="M473.4,279.5Q474.3,278.8 475.0,277.8" stroke-width="1.20"/><path d="M453.1,306.4Q453.1,304.7 454.2,303.3" stroke-width="1.58"/><path d="M453.9,306.5Q454.9,305.7 456.0,305.0" stroke-width="1.02"/><path d="M455.3,337.7Q455.9,336.0 455.2,334.3" stroke-width="1.17"/><path d="M455.3,321.2Q456.5,320.4 458.0,320.5" stroke-width="1.56"/><path d="M467.6,320.4Q467.8,317.4 469.6,315.0" stroke-width="1.11"/><path d="M480.1,280.2Q479.5,277.5 479.8,274.7" stroke-width="1.48"/><path d="M459.7,331.8Q458.7,329.5 459.3,327.2" stroke-width="1.12"/><path d="M465.3,277.8Q467.8,277.4 470.2,276.9" stroke-width="1.04"/><path d="M473.9,290.5Q475.1,290.0 475.9,289.0" stroke-width="1.50"/><path d="M458.4,326.4Q459.5,326.1 460.5,325.7" stroke-width="1.71"/><path d="M488.4,285.0Q489.1,283.0 489.8,281.1" stroke-width="1.29"/><path d="M486.6,280.0Q488.7,278.9 491.0,279.4" stroke-width="1.70"/><path d="M483.7,303.8Q484.7,302.6 485.7,301.4" stroke-width="1.29"/><path d="M463.7,325.8Q465.0,325.3 466.1,324.4" stroke-width="1.31"/><path d="M468.1,315.5Q467.9,313.7 468.0,311.9" stroke-width="1.17"/><path d="M488.4,313.5Q491.0,312.5 493.3,310.9" stroke-width="1.32"/><path d="M472.6,296.1Q475.2,294.9 477.8,293.8" stroke-width="1.51"/><path d="M487.8,326.3Q488.1,324.5 488.8,322.7" stroke-width="1.17"/><path d="M449.7,331.3Q451.1,330.0 451.9,328.3" stroke-width="1.74"/><path d="M484.5,284.8Q486.5,284.5 488.5,283.7" stroke-width="1.29"/><path d="M484.7,335.2Q486.2,335.0 487.5,334.3" stroke-width="1.30"/><path d="M450.1,301.7Q451.0,300.3 452.2,299.1" stroke-width="1.25"/><path d="M464.0,280.4Q466.2,280.1 468.1,278.9" stroke-width="1.35"/><path d="M475.5,307.0Q477.0,305.5 477.6,303.4" stroke-width="1.11"/><path d="M478.1,313.2Q479.2,311.7 479.4,309.8" stroke-width="1.29"/><path d="M449.3,300.3Q450.4,298.1 452.4,296.7" stroke-width="1.01"/><path d="M473.1,311.9Q474.3,310.4 474.9,308.6" stroke-width="1.44"/><path d="M481.8,279.5Q482.8,278.9 483.8,278.4" stroke-width="1.67"/><path d="M475.0,328.6Q475.1,326.7 476.3,325.4" stroke-width="1.59"/><path d="M456.4,300.8Q456.4,299.3 456.8,297.9" stroke-width="1.10"/><path d="M474.1,322.5Q473.8,320.0 474.8,317.6" stroke-width="1.65"/><path d="M471.3,317.5Q473.5,317.1 475.4,315.9" stroke-width="1.60"/><path d="M464.0,295.6Q464.5,294.0 464.6,292.3" stroke-width="1.01"/><path d="M473.6,319.1Q475.6,317.3 476.1,314.7" stroke-width="1.06"/><path d="M468.8,337.7Q470.8,335.8 471.8,333.1" stroke-width="1.57"/><path d="M476.6,278.7Q476.7,277.6 477.4,276.7" stroke-width="1.57"/><path d="M461.4,285.8Q462.0,284.5 463.3,283.9" stroke-width="1.26"/><path d="M474.9,284.2Q475.9,283.3 476.7,282.3" stroke-width="1.21"/><path d="M476.5,290.3Q477.5,289.2 478.8,288.5" stroke-width="1.26"/><path d="M454.6,336.7Q456.4,335.6 458.0,334.2" stroke-width="0.98"/><path d="M473.4,282.8Q474.8,280.6 475.6,278.1" stroke-width="1.54"/><path d="M460.3,306.0Q462.5,305.3 464.6,304.4" stroke-width="1.42"/><path d="M480.8,336.6Q481.9,335.3 482.0,333.6" stroke-width="1.33"/><path d="M466.8,299.0Q468.8,298.4 470.2,296.8" stroke-width="1.46"/><path d="M466.6,330.4Q467.5,327.6 467.3,324.7" stroke-width="1.26"/><path d="M459.6,297.2Q461.1,297.0 462.2,295.9" stroke-width="1.75"/><path d="M477.6,293.6Q479.3,291.6 481.3,289.9" stroke-width="1.49"/><path d="M481.3,284.5Q483.9,283.6 485.2,281.2" stroke-width="1.31"/><path d="M477.4,297.9Q479.6,296.9 482.0,296.8" stroke-width="1.47"/><path d="M451.0,289.4Q451.1,288.2 451.4,287.1" stroke-width="1.52"/><path d="M451.6,286.4Q454.4,286.8 457.1,285.8" stroke-width="1.45"/><path d="M470.4,311.1Q471.1,309.0 471.4,306.7" stroke-width="1.42"/><path d="M453.1,330.3Q455.9,330.3 458.5,329.3" stroke-width="1.05"/><path d="M470.2,285.0Q472.3,284.2 473.5,282.3" stroke-width="0.98"/><path d="M457.2,312.7Q458.2,312.1 459.1,311.2" stroke-width="1.37"/><path d="M490.1,332.7Q490.7,330.4 489.9,328.2" stroke-width="1.47"/><path d="M482.1,280.6Q482.3,277.6 484.4,275.3" stroke-width="1.16"/><path d="M456.3,318.1Q457.1,317.1 457.7,315.9" stroke-width="1.10"/><path d="M457.1,329.4Q458.4,329.2 459.6,328.8" stroke-width="1.15"/><path d="M470.6,323.1Q472.1,320.7 472.9,317.9" stroke-width="1.18"/><path d="M466.6,295.6Q467.7,293.7 469.6,292.6" stroke-width="1.58"/><path d="M472.9,334.8Q474.9,332.7 477.7,332.0" stroke-width="1.68"/><path d="M481.8,331.9Q481.6,330.8 481.8,329.7" stroke-width="1.12"/><path d="M480.7,331.6Q480.4,329.4 480.7,327.2" stroke-width="1.43"/><path d="M482.9,336.3Q484.1,333.9 486.0,332.0" stroke-width="1.17"/><path d="M457.6,285.2Q457.8,283.5 458.5,281.8" stroke-width="1.60"/><path d="M459.3,296.4Q461.8,294.8 464.6,294.9" stroke-width="1.62"/><path d="M462.0,327.9Q463.1,325.2 465.2,323.1" stroke-width="1.08"/><path d="M488.3,281.6Q488.6,279.3 489.7,277.3" stroke-width="1.16"/><path d="M474.6,290.5Q474.7,289.0 475.5,287.6" stroke-width="1.14"/><path d="M481.4,312.2Q482.8,310.8 484.4,309.8" stroke-width="1.43"/><path d="M454.6,334.1Q455.7,331.6 457.0,329.2" stroke-width="1.64"/><path d="M472.8,318.4Q474.3,317.2 476.2,317.3" stroke-width="1.71"/><path d="M479.4,321.1Q479.4,319.9 480.0,318.8" stroke-width="1.23"/><path d="M463.9,282.0Q463.5,280.0 464.1,278.0" stroke-width="1.35"/><path d="M487.2,312.5Q488.0,311.4 489.2,310.8" stroke-width="1.45"/><path d="M456.0,291.2Q457.9,289.6 458.9,287.4" stroke-width="1.14"/><path d="M454.9,330.6Q455.0,328.0 456.0,325.6" stroke-width="1.03"/><path d="M453.1,321.2Q453.0,318.9 453.9,316.8" stroke-width="1.31"/><path d="M475.1,334.1Q475.6,333.1 476.2,332.2" stroke-width="1.36"/><path d="M476.6,302.2Q476.6,300.8 477.5,299.8" stroke-width="1.35"/><path d="M485.2,328.8Q485.7,326.8 485.7,324.6" stroke-width="1.27"/><path d="M469.1,304.5Q470.3,304.1 471.6,303.9" stroke-width="1.14"/><path d="M470.2,298.3Q471.3,296.7 473.1,296.1" stroke-width="1.00"/><path d="M454.6,278.9Q455.3,277.8 455.9,276.6" stroke-width="1.70"/><path d="M456.1,300.3Q458.2,298.3 459.9,295.9" stroke-width="1.42"/><path d="M488.8,327.7Q488.5,325.8 489.5,324.1" stroke-width="1.24"/><path d="M462.4,330.5Q464.3,330.4 466.0,329.8" stroke-width="1.54"/><path d="M458.0,311.1Q458.8,310.1 459.7,309.4" stroke-width="1.03"/><path d="M473.1,292.6Q474.5,291.1 474.6,289.1" stroke-width="1.32"/><path d="M472.4,337.1Q472.0,334.9 472.8,333.0" stroke-width="1.65"/><path d="M469.9,286.0Q471.6,286.2 473.0,285.3" stroke-width="1.32"/><path d="M477.0,319.6Q479.7,319.3 481.7,317.7" stroke-width="1.00"/><path d="M470.0,296.7Q471.1,294.4 471.5,291.9" stroke-width="1.18"/><path d="M470.0,330.4Q470.4,327.6 471.8,325.1" stroke-width="1.50"/><path d="M450.4,318.4Q451.5,318.5 452.5,318.2" stroke-width="1.21"/><path d="M481.6,319.8Q482.0,318.3 481.4,316.9" stroke-width="1.39"/><path d="M481.9,284.8Q483.8,283.6 485.9,282.6" stroke-width="0.99"/><path d="M478.8,312.1Q480.7,312.0 482.3,310.8" stroke-width="1.27"/><path d="M464.8,298.6Q466.0,297.7 466.8,296.4" stroke-width="1.50"/></g>
<g fill="none" stroke="#A87000"><path d="M465.4,281.8Q466.3,278.3 466.6,274.7" stroke-width="1.71" stroke-dasharray="2.5 1.0 1.8 1.7"/><path d="M474.7,333.8Q475.3,330.6 473.6,327.9" stroke-width="1.63" stroke-dasharray="2.8 1.6 1.8 1.7"/><path d="M488.8,323.9Q490.4,317.4 488.4,311.1" stroke-width="2.37" stroke-dasharray="3.2 0.9 2.0 1.4"/><path d="M473.4,310.1Q470.2,306.8 465.8,305.8" stroke-width="1.33" stroke-dasharray="1.5 1.7 2.4 1.1"/><path d="M469.7,294.2Q466.7,290.4 463.3,287.0" stroke-width="1.48" stroke-dasharray="2.8 1.1 2.0 1.2"/><path d="M473.0,308.9Q467.9,306.2 462.4,305.0" stroke-width="1.75" stroke-dasharray="2.7 0.9 2.1 1.7"/><path d="M460.9,289.0Q458.5,284.7 459.4,279.9" stroke-width="1.24" stroke-dasharray="2.4 1.7 2.2 1.4"/><path d="M484.5,303.4Q479.0,298.9 475.3,292.8" stroke-width="1.39" stroke-dasharray="2.5 0.8 1.0 1.3"/><path d="M453.8,329.9Q448.8,328.2 447.1,323.2" stroke-width="1.60" stroke-dasharray="3.2 1.1 1.4 1.1"/><path d="M455.1,286.7Q452.6,283.0 452.6,278.5" stroke-width="1.86" stroke-dasharray="1.6 1.6 1.2 0.7"/><path d="M462.1,295.4Q463.1,289.8 460.6,284.8" stroke-width="1.62" stroke-dasharray="3.4 1.6 2.3 1.0"/><path d="M471.1,297.3Q470.4,292.9 467.0,290.1" stroke-width="1.15" stroke-dasharray="2.6 1.1 2.5 1.2"/><path d="M478.1,318.7Q475.2,312.5 469.5,308.8" stroke-width="1.66" stroke-dasharray="2.1 1.0 2.0 1.4"/><path d="M483.1,326.0Q484.3,321.3 482.6,316.8" stroke-width="1.85" stroke-dasharray="2.2 1.1 1.2 0.8"/><path d="M475.1,312.4Q469.2,308.9 462.6,306.7" stroke-width="1.89" stroke-dasharray="2.2 1.5 1.3 1.0"/><path d="M460.2,313.3Q461.9,306.9 457.8,301.6" stroke-width="1.24" stroke-dasharray="2.4 0.8 2.0 0.8"/><path d="M479.6,338.7Q481.1,333.2 480.5,327.5" stroke-width="1.85" stroke-dasharray="2.1 1.5 1.4 1.8"/><path d="M455.8,301.0Q453.8,297.6 449.9,296.6" stroke-width="1.18" stroke-dasharray="3.1 1.0 2.3 0.9"/><path d="M480.4,288.3Q476.8,287.4 474.5,284.4" stroke-width="2.26" stroke-dasharray="3.5 1.6 2.1 1.2"/><path d="M465.6,331.1Q460.1,327.4 453.9,325.3" stroke-width="1.88" stroke-dasharray="3.8 1.3 1.4 0.9"/><path d="M483.7,318.9Q482.8,315.2 484.9,312.0" stroke-width="1.16" stroke-dasharray="3.1 0.8 2.1 1.7"/><path d="M461.4,333.3Q457.0,329.5 451.4,328.0" stroke-width="1.63" stroke-dasharray="1.7 1.5 2.0 1.2"/><path d="M464.7,323.2Q464.7,316.4 466.3,309.8" stroke-width="2.11" stroke-dasharray="4.0 1.0 1.0 0.9"/><path d="M485.9,280.1Q483.9,276.8 480.6,274.6" stroke-width="2.19" stroke-dasharray="3.1 1.6 2.5 1.0"/><path d="M460.0,314.6Q460.5,310.7 460.2,306.7" stroke-width="1.98" stroke-dasharray="1.3 1.4 2.2 1.2"/><path d="M456.3,309.7Q453.2,304.0 448.7,299.4" stroke-width="2.35" stroke-dasharray="2.0 1.4 2.3 1.2"/><path d="M467.9,280.0Q464.9,277.5 462.4,274.5" stroke-width="2.21" stroke-dasharray="3.2 1.0 2.3 1.5"/><path d="M482.2,289.0Q481.3,285.9 479.0,283.7" stroke-width="2.16" stroke-dasharray="3.1 1.4 2.4 1.8"/></g>
</g>
<clipPath id="cS"><path d="M506.0,334.0C507.2,331.6 508.0,331.5 510.5,331.5C513.0,331.5 514.2,331.7 515.5,334.0C516.8,336.3 517.0,337.6 515.5,340.0C514.0,342.4 512.5,342.9 510.0,343.0C507.5,343.1 507.1,342.9 506.0,340.5C504.9,338.1 504.8,336.4 506.0,334.0Z"/></clipPath>
<g clip-path="url(#cS)">
<path d="M506.0,334.0C507.2,331.6 508.0,331.5 510.5,331.5C513.0,331.5 514.2,331.7 515.5,334.0C516.8,336.3 517.0,337.6 515.5,340.0C514.0,342.4 512.5,342.9 510.0,343.0C507.5,343.1 507.1,342.9 506.0,340.5C504.9,338.1 504.8,336.4 506.0,334.0Z" fill="#8400A8" opacity="0.10"/>
<g fill="none" stroke="#8400A8" stroke-linecap="round"><path d="M511.8,334.7Q512.1,333.7 511.8,332.6" stroke-width="1.33"/><path d="M509.9,341.4Q509.2,338.9 509.0,336.3" stroke-width="1.53"/><path d="M506.7,335.9Q506.8,334.7 507.1,333.6" stroke-width="1.72"/><path d="M511.0,338.1Q510.3,336.0 510.4,333.8" stroke-width="1.38"/><path d="M508.0,333.4Q507.4,331.6 508.1,329.7" stroke-width="1.29"/><path d="M506.8,334.5Q506.4,331.9 507.0,329.4" stroke-width="1.24"/><path d="M511.7,341.9Q511.8,339.3 513.4,337.4" stroke-width="1.57"/><path d="M508.6,340.4Q508.8,337.3 511.1,335.2" stroke-width="1.06"/><path d="M509.1,332.6Q509.8,331.8 510.8,331.3" stroke-width="1.04"/><path d="M505.9,342.2Q506.6,340.3 508.5,339.4" stroke-width="1.24"/><path d="M507.1,343.1Q508.0,340.7 509.6,338.6" stroke-width="1.27"/><path d="M507.2,333.0Q509.6,331.8 512.2,331.0" stroke-width="1.54"/><path d="M513.2,334.6Q515.2,333.0 517.7,333.2" stroke-width="1.56"/><path d="M513.2,336.1Q515.1,334.0 515.5,331.2" stroke-width="1.16"/><path d="M512.1,333.9Q511.3,332.6 511.7,331.1" stroke-width="1.49"/><path d="M514.0,342.5Q514.7,341.3 515.1,339.9" stroke-width="1.11"/><path d="M515.6,339.1Q515.5,336.4 514.6,333.9" stroke-width="1.02"/><path d="M510.4,338.0Q512.3,337.9 513.9,336.9" stroke-width="0.98"/><path d="M510.0,343.6Q511.1,343.2 512.0,342.2" stroke-width="1.42"/><path d="M515.7,342.7Q515.2,341.7 515.2,340.7" stroke-width="1.38"/><path d="M508.4,338.6Q508.5,337.6 508.4,336.5" stroke-width="1.32"/><path d="M511.9,343.3Q511.1,340.4 512.3,337.5" stroke-width="1.57"/><path d="M513.4,338.5Q513.2,337.1 513.6,335.8" stroke-width="1.02"/><path d="M511.3,343.5Q512.4,340.8 513.0,338.0" stroke-width="1.43"/><path d="M508.3,334.0Q509.3,332.3 510.2,330.7" stroke-width="1.58"/><path d="M507.4,335.3Q509.1,334.1 509.7,332.1" stroke-width="1.75"/><path d="M510.4,344.8Q512.2,342.4 513.1,339.6" stroke-width="1.02"/><path d="M507.6,335.9Q507.9,334.0 509.2,332.7" stroke-width="1.61"/><path d="M512.3,340.0Q511.4,337.3 511.4,334.5" stroke-width="1.46"/><path d="M507.2,337.0Q508.2,334.3 508.5,331.6" stroke-width="1.55"/><path d="M507.4,334.1Q507.2,332.0 507.0,330.0" stroke-width="1.74"/><path d="M506.6,334.7Q507.1,333.2 508.6,332.4" stroke-width="1.38"/></g>
<g fill="none" stroke="#A87000"><path d="M514.1,341.8Q508.2,338.2 501.3,338.9" stroke-width="1.18" stroke-dasharray="3.3 1.7 1.9 0.7"/></g>
</g>
<g fill="none" stroke="#8400A8" stroke-linecap="round"><path d="M448.9,306.6Q449.8,305.5 450.1,304.0" stroke-width="1.13"/><path d="M431.7,315.8Q433.4,315.3 434.9,314.2" stroke-width="0.90"/><path d="M440.0,321.5Q440.1,320.3 439.4,319.3" stroke-width="1.38"/><path d="M434.1,309.1Q433.4,307.5 433.3,305.8" stroke-width="1.26"/><path d="M449.1,309.9Q449.4,308.6 450.6,307.9" stroke-width="1.28"/><path d="M440.1,320.6Q440.1,319.7 440.6,319.0" stroke-width="1.58"/><path d="M439.5,315.7Q440.5,314.7 441.1,313.5" stroke-width="1.10"/><path d="M432.2,309.4Q433.6,308.6 434.2,307.1" stroke-width="1.07"/><path d="M443.5,306.1Q444.2,305.2 444.8,304.1" stroke-width="1.20"/><path d="M432.1,319.9Q433.2,319.6 434.4,319.5" stroke-width="1.49"/></g>
<g fill="none" stroke="#8400A8" stroke-linecap="round"><path d="M520.1,240.4Q520.2,239.5 520.7,238.7" stroke-width="1.25"/><path d="M528.1,231.2Q528.9,230.0 529.3,228.6" stroke-width="1.04"/><path d="M526.3,232.4Q526.5,231.6 527.1,231.1" stroke-width="0.93"/><path d="M526.0,238.6Q526.1,237.2 525.6,235.8" stroke-width="0.93"/><path d="M520.6,229.6Q520.5,228.7 520.6,227.9" stroke-width="1.02"/></g>
<g fill="#00C5FF">
<path d="M490.2,217.2C491.0,215.7 494.0,215.2 496.2,215.2C498.4,215.2 501.3,216.2 503.3,217.2C505.3,218.2 507.6,219.7 508.3,221.2C509.0,222.7 508.7,224.8 507.3,226.2C505.9,227.5 502.1,228.0 500.2,229.3C498.3,230.6 497.4,233.6 496.2,233.8C495.0,234.0 494.0,231.9 493.2,230.3C492.4,228.7 492.0,226.2 491.5,224.0C491.0,221.8 489.4,218.7 490.2,217.2Z"/>
<path d="M526.4,269.0C528.0,267.6 531.6,268.2 534.0,268.5C536.4,268.8 539.2,269.2 540.5,271.0C541.8,272.8 542.0,276.6 541.5,279.1C541.0,281.6 539.4,285.5 537.5,286.1C535.6,286.8 531.9,282.8 530.0,283.0C528.1,283.2 527.3,285.1 526.0,287.1C524.7,289.1 523.5,292.9 522.0,295.0C520.5,297.1 518.4,299.0 517.0,299.5C515.6,300.0 513.8,299.5 513.5,298.2C513.2,296.9 515.6,292.3 515.3,291.5C515.0,290.7 512.3,293.8 511.5,293.5C510.7,293.2 509.2,291.2 510.3,289.5C511.4,287.8 515.9,285.2 518.3,283.1C520.6,281.0 523.0,279.5 524.4,277.1C525.8,274.8 524.8,270.4 526.4,269.0Z"/>
<path d="M525.5,236.0C526.1,235.7 527.7,238.2 529.0,240.0C530.3,241.8 532.0,244.7 533.5,247.0C535.0,249.3 536.8,252.0 538.0,254.0C539.2,256.0 540.4,256.7 541.0,259.0C541.6,261.3 542.0,267.5 541.5,268.0C541.0,268.5 539.4,264.0 538.0,262.0C536.6,260.0 534.6,258.2 533.0,256.0C531.4,253.8 529.8,251.3 528.5,249.0C527.2,246.7 526.0,244.2 525.5,242.0C525.0,239.8 524.9,236.3 525.5,236.0Z"/>
<ellipse cx="442.3" cy="262.5" rx="4.6" ry="4.1"/>
<path d="M463.0,260.0C463.8,259.0 465.5,258.0 467.0,257.5C468.5,257.0 470.6,256.6 472.0,257.0C473.4,257.4 475.0,258.8 475.5,260.0C476.0,261.2 475.9,263.3 475.0,264.5C474.1,265.7 471.7,266.7 470.0,267.0C468.3,267.3 466.2,267.1 465.0,266.5C463.8,265.9 462.8,264.6 462.5,263.5C462.2,262.4 462.2,261.0 463.0,260.0Z"/>
<path d="M487.5,272.0C487.8,270.9 489.7,268.4 491.0,267.0C492.3,265.6 494.6,263.8 495.5,263.5C496.4,263.2 496.9,264.4 496.5,265.5C496.1,266.6 494.2,268.7 493.0,270.0C491.8,271.3 489.9,273.2 489.0,273.5C488.1,273.8 487.2,273.1 487.5,272.0Z"/>
<path d="M502.0,346.0C502.2,345.1 503.8,343.3 505.0,342.5C506.2,341.7 508.2,340.9 509.0,341.0C509.8,341.1 510.3,342.2 510.0,343.0C509.7,343.8 508.1,345.2 507.0,346.0C505.9,346.8 504.3,348.0 503.5,348.0C502.7,348.0 501.8,346.9 502.0,346.0Z"/>
</g>
<g fill="#00C5FF"><ellipse cx="476.6" cy="265.0" rx="1.6" ry="0.4" transform="rotate(158 476.6 265.0)"/><ellipse cx="470.5" cy="257.4" rx="0.8" ry="0.4" transform="rotate(128 470.5 257.4)"/><ellipse cx="463.3" cy="261.8" rx="0.8" ry="0.3" transform="rotate(72 463.3 261.8)"/><ellipse cx="452.4" cy="271.5" rx="1.2" ry="0.5" transform="rotate(34 452.4 271.5)"/><ellipse cx="437.9" cy="259.1" rx="2.2" ry="0.6" transform="rotate(119 437.9 259.1)"/><ellipse cx="467.6" cy="269.6" rx="1.6" ry="0.5" transform="rotate(118 467.6 269.6)"/><ellipse cx="446.1" cy="266.8" rx="1.6" ry="0.6" transform="rotate(41 446.1 266.8)"/><ellipse cx="475.4" cy="268.8" rx="2.1" ry="0.6" transform="rotate(99 475.4 268.8)"/><ellipse cx="462.3" cy="269.1" rx="2.3" ry="0.7" transform="rotate(61 462.3 269.1)"/><ellipse cx="466.7" cy="268.7" rx="1.3" ry="0.6" transform="rotate(82 466.7 268.7)"/><ellipse cx="454.8" cy="273.0" rx="0.7" ry="0.4" transform="rotate(176 454.8 273.0)"/><ellipse cx="445.1" cy="264.1" rx="1.5" ry="0.7" transform="rotate(166 445.1 264.1)"/><ellipse cx="467.1" cy="264.9" rx="2.1" ry="0.7" transform="rotate(121 467.1 264.9)"/><ellipse cx="448.6" cy="265.9" rx="1.3" ry="0.4" transform="rotate(131 448.6 265.9)"/><ellipse cx="454.5" cy="261.4" rx="1.6" ry="0.7" transform="rotate(63 454.5 261.4)"/><ellipse cx="453.3" cy="270.7" rx="1.4" ry="0.7" transform="rotate(106 453.3 270.7)"/><ellipse cx="452.4" cy="256.7" rx="1.5" ry="0.4" transform="rotate(132 452.4 256.7)"/><ellipse cx="481.5" cy="254.2" rx="0.8" ry="0.3" transform="rotate(176 481.5 254.2)"/><ellipse cx="438.5" cy="257.3" rx="1.3" ry="0.6" transform="rotate(61 438.5 257.3)"/><ellipse cx="447.9" cy="252.1" rx="1.4" ry="0.5" transform="rotate(45 447.9 252.1)"/><ellipse cx="459.7" cy="263.6" rx="1.9" ry="0.8" transform="rotate(147 459.7 263.6)"/><ellipse cx="475.5" cy="252.6" rx="2.1" ry="0.8" transform="rotate(48 475.5 252.6)"/><ellipse cx="459.0" cy="264.6" rx="1.5" ry="0.5" transform="rotate(15 459.0 264.6)"/><ellipse cx="452.3" cy="268.1" rx="1.1" ry="0.5" transform="rotate(129 452.3 268.1)"/><ellipse cx="457.9" cy="266.0" rx="1.0" ry="0.5" transform="rotate(28 457.9 266.0)"/><ellipse cx="453.8" cy="252.8" rx="1.3" ry="0.4" transform="rotate(93 453.8 252.8)"/><ellipse cx="454.4" cy="256.8" rx="0.7" ry="0.3" transform="rotate(3 454.4 256.8)"/><ellipse cx="451.3" cy="266.9" rx="1.0" ry="0.6" transform="rotate(114 451.3 266.9)"/><ellipse cx="475.4" cy="253.3" rx="0.6" ry="0.3" transform="rotate(89 475.4 253.3)"/><ellipse cx="442.2" cy="267.3" rx="1.4" ry="0.4" transform="rotate(77 442.2 267.3)"/><ellipse cx="478.6" cy="258.9" rx="2.1" ry="0.7" transform="rotate(58 478.6 258.9)"/><ellipse cx="476.9" cy="252.7" rx="1.1" ry="0.6" transform="rotate(131 476.9 252.7)"/><ellipse cx="440.7" cy="255.7" rx="1.1" ry="0.3" transform="rotate(86 440.7 255.7)"/><ellipse cx="459.2" cy="264.8" rx="1.5" ry="0.7" transform="rotate(46 459.2 264.8)"/></g>
<g fill="#00C5FF"><ellipse cx="497.0" cy="281.0" rx="1.1" ry="0.4" transform="rotate(138 497.0 281.0)"/><ellipse cx="456.8" cy="279.8" rx="1.2" ry="0.6" transform="rotate(5 456.8 279.8)"/><ellipse cx="462.3" cy="277.7" rx="1.1" ry="0.4" transform="rotate(6 462.3 277.7)"/><ellipse cx="483.0" cy="281.5" rx="1.2" ry="0.7" transform="rotate(5 483.0 281.5)"/><ellipse cx="472.7" cy="288.9" rx="2.3" ry="0.6" transform="rotate(38 472.7 288.9)"/><ellipse cx="498.7" cy="276.6" rx="1.9" ry="0.6" transform="rotate(33 498.7 276.6)"/><ellipse cx="453.2" cy="287.2" rx="1.7" ry="0.6" transform="rotate(165 453.2 287.2)"/><ellipse cx="461.9" cy="277.0" rx="1.4" ry="0.7" transform="rotate(35 461.9 277.0)"/><ellipse cx="490.8" cy="281.6" rx="1.0" ry="0.4" transform="rotate(108 490.8 281.6)"/><ellipse cx="459.0" cy="289.2" rx="0.6" ry="0.3" transform="rotate(126 459.0 289.2)"/><ellipse cx="452.2" cy="282.6" rx="1.2" ry="0.4" transform="rotate(22 452.2 282.6)"/><ellipse cx="462.1" cy="289.0" rx="1.6" ry="0.6" transform="rotate(127 462.1 289.0)"/><ellipse cx="459.7" cy="282.4" rx="1.1" ry="0.6" transform="rotate(93 459.7 282.4)"/><ellipse cx="457.6" cy="280.1" rx="2.1" ry="0.6" transform="rotate(174 457.6 280.1)"/></g>
<g fill="#00C5FF"><ellipse cx="455.9" cy="301.1" rx="1.4" ry="0.6" transform="rotate(131 455.9 301.1)"/><ellipse cx="435.8" cy="318.9" rx="1.3" ry="0.4" transform="rotate(104 435.8 318.9)"/><ellipse cx="430.6" cy="317.1" rx="1.8" ry="0.6" transform="rotate(122 430.6 317.1)"/><ellipse cx="454.4" cy="306.5" rx="1.5" ry="0.7" transform="rotate(40 454.4 306.5)"/><ellipse cx="458.5" cy="300.9" rx="1.1" ry="0.3" transform="rotate(88 458.5 300.9)"/><ellipse cx="447.4" cy="313.6" rx="1.1" ry="0.5" transform="rotate(105 447.4 313.6)"/><ellipse cx="455.7" cy="305.9" rx="0.7" ry="0.4" transform="rotate(95 455.7 305.9)"/><ellipse cx="436.5" cy="304.7" rx="2.4" ry="0.7" transform="rotate(56 436.5 304.7)"/><ellipse cx="458.8" cy="312.3" rx="1.1" ry="0.5" transform="rotate(57 458.8 312.3)"/><ellipse cx="462.0" cy="300.8" rx="1.1" ry="0.3" transform="rotate(107 462.0 300.8)"/><ellipse cx="445.0" cy="325.3" rx="1.5" ry="0.7" transform="rotate(77 445.0 325.3)"/><ellipse cx="438.8" cy="308.3" rx="1.2" ry="0.6" transform="rotate(45 438.8 308.3)"/><ellipse cx="448.2" cy="321.8" rx="1.1" ry="0.5" transform="rotate(108 448.2 321.8)"/><ellipse cx="445.0" cy="314.0" rx="1.5" ry="0.5" transform="rotate(157 445.0 314.0)"/><ellipse cx="434.7" cy="308.0" rx="1.2" ry="0.3" transform="rotate(12 434.7 308.0)"/><ellipse cx="451.4" cy="316.7" rx="1.0" ry="0.5" transform="rotate(102 451.4 316.7)"/></g>
<g fill="#00C5FF"><ellipse cx="494.6" cy="215.4" rx="0.7" ry="0.4" transform="rotate(123 494.6 215.4)"/><ellipse cx="516.8" cy="214.1" rx="2.0" ry="0.6" transform="rotate(50 516.8 214.1)"/><ellipse cx="515.2" cy="218.2" rx="1.0" ry="0.3" transform="rotate(109 515.2 218.2)"/><ellipse cx="488.8" cy="219.8" rx="1.5" ry="0.6" transform="rotate(94 488.8 219.8)"/><ellipse cx="518.1" cy="208.4" rx="1.1" ry="0.4" transform="rotate(48 518.1 208.4)"/><ellipse cx="480.0" cy="207.1" rx="2.0" ry="0.7" transform="rotate(107 480.0 207.1)"/><ellipse cx="496.9" cy="214.5" rx="1.4" ry="0.7" transform="rotate(129 496.9 214.5)"/><ellipse cx="489.6" cy="208.5" rx="1.3" ry="0.5" transform="rotate(122 489.6 208.5)"/><ellipse cx="482.2" cy="210.0" rx="1.0" ry="0.5" transform="rotate(102 482.2 210.0)"/><ellipse cx="519.4" cy="215.3" rx="0.9" ry="0.3" transform="rotate(53 519.4 215.3)"/></g>
<g fill="#00C5FF"><ellipse cx="473.6" cy="222.5" rx="0.6" ry="0.3" transform="rotate(47 473.6 222.5)"/><ellipse cx="456.2" cy="211.8" rx="1.2" ry="0.5" transform="rotate(178 456.2 211.8)"/><ellipse cx="460.6" cy="212.9" rx="0.6" ry="0.3" transform="rotate(93 460.6 212.9)"/><ellipse cx="456.9" cy="206.2" rx="1.2" ry="0.5" transform="rotate(127 456.9 206.2)"/><ellipse cx="473.0" cy="220.6" rx="1.1" ry="0.4" transform="rotate(44 473.0 220.6)"/><ellipse cx="460.1" cy="226.5" rx="1.1" ry="0.5" transform="rotate(32 460.1 226.5)"/><ellipse cx="462.6" cy="225.9" rx="1.1" ry="0.5" transform="rotate(25 462.6 225.9)"/><ellipse cx="462.8" cy="208.3" rx="0.7" ry="0.3" transform="rotate(123 462.8 208.3)"/></g>
<g fill="#00C5FF"><ellipse cx="516.0" cy="321.8" rx="0.9" ry="0.5" transform="rotate(69 516.0 321.8)"/><ellipse cx="484.4" cy="319.3" rx="0.8" ry="0.4" transform="rotate(109 484.4 319.3)"/><ellipse cx="465.9" cy="322.3" rx="1.0" ry="0.3" transform="rotate(93 465.9 322.3)"/><ellipse cx="527.8" cy="334.4" rx="1.7" ry="0.6" transform="rotate(150 527.8 334.4)"/><ellipse cx="509.2" cy="298.7" rx="1.0" ry="0.5" transform="rotate(164 509.2 298.7)"/><ellipse cx="458.7" cy="336.8" rx="0.8" ry="0.3" transform="rotate(19 458.7 336.8)"/><ellipse cx="500.8" cy="307.8" rx="1.2" ry="0.6" transform="rotate(171 500.8 307.8)"/><ellipse cx="485.4" cy="297.2" rx="0.4" ry="0.3" transform="rotate(2 485.4 297.2)"/><ellipse cx="497.5" cy="329.2" rx="2.3" ry="0.6" transform="rotate(112 497.5 329.2)"/><ellipse cx="478.1" cy="328.9" rx="1.2" ry="0.4" transform="rotate(21 478.1 328.9)"/><ellipse cx="497.5" cy="320.4" rx="0.8" ry="0.2" transform="rotate(123 497.5 320.4)"/><ellipse cx="457.3" cy="322.0" rx="1.2" ry="0.5" transform="rotate(38 457.3 322.0)"/><ellipse cx="508.1" cy="338.2" rx="1.2" ry="0.3" transform="rotate(7 508.1 338.2)"/><ellipse cx="509.8" cy="299.9" rx="2.0" ry="0.6" transform="rotate(51 509.8 299.9)"/><ellipse cx="485.7" cy="324.9" rx="0.8" ry="0.3" transform="rotate(78 485.7 324.9)"/><ellipse cx="496.6" cy="301.2" rx="1.2" ry="0.4" transform="rotate(151 496.6 301.2)"/><ellipse cx="502.0" cy="301.3" rx="1.4" ry="0.4" transform="rotate(86 502.0 301.3)"/><ellipse cx="455.3" cy="315.0" rx="1.2" ry="0.4" transform="rotate(2 455.3 315.0)"/><ellipse cx="485.7" cy="284.0" rx="0.8" ry="0.3" transform="rotate(14 485.7 284.0)"/><ellipse cx="456.6" cy="303.0" rx="1.3" ry="0.4" transform="rotate(111 456.6 303.0)"/><ellipse cx="526.9" cy="336.1" rx="0.7" ry="0.4" transform="rotate(35 526.9 336.1)"/><ellipse cx="489.3" cy="294.2" rx="1.9" ry="0.6" transform="rotate(69 489.3 294.2)"/><ellipse cx="491.4" cy="302.1" rx="0.8" ry="0.3" transform="rotate(51 491.4 302.1)"/><ellipse cx="473.0" cy="290.4" rx="1.4" ry="0.5" transform="rotate(134 473.0 290.4)"/><ellipse cx="458.0" cy="310.2" rx="1.2" ry="0.4" transform="rotate(75 458.0 310.2)"/><ellipse cx="467.4" cy="338.3" rx="1.5" ry="0.6" transform="rotate(45 467.4 338.3)"/><ellipse cx="490.1" cy="299.8" rx="1.1" ry="0.4" transform="rotate(68 490.1 299.8)"/><ellipse cx="538.6" cy="281.6" rx="0.7" ry="0.4" transform="rotate(149 538.6 281.6)"/><ellipse cx="519.2" cy="296.0" rx="1.1" ry="0.5" transform="rotate(127 519.2 296.0)"/><ellipse cx="538.6" cy="289.4" rx="1.1" ry="0.3" transform="rotate(110 538.6 289.4)"/></g>
<g fill="#00C5FF"><ellipse cx="536.0" cy="322.2" rx="1.6" ry="0.6" transform="rotate(86 536.0 322.2)"/><ellipse cx="531.0" cy="309.1" rx="1.7" ry="0.4" transform="rotate(89 531.0 309.1)"/><ellipse cx="538.3" cy="325.0" rx="0.8" ry="0.4" transform="rotate(71 538.3 325.0)"/><ellipse cx="525.6" cy="310.7" rx="0.9" ry="0.3" transform="rotate(94 525.6 310.7)"/><ellipse cx="522.7" cy="316.9" rx="1.6" ry="0.6" transform="rotate(72 522.7 316.9)"/><ellipse cx="519.1" cy="320.4" rx="2.2" ry="0.5" transform="rotate(61 519.1 320.4)"/><ellipse cx="539.2" cy="299.8" rx="1.8" ry="0.5" transform="rotate(81 539.2 299.8)"/><ellipse cx="529.2" cy="325.6" rx="1.6" ry="0.4" transform="rotate(81 529.2 325.6)"/><ellipse cx="529.0" cy="328.9" rx="2.2" ry="0.5" transform="rotate(58 529.0 328.9)"/><ellipse cx="520.1" cy="297.7" rx="1.1" ry="0.6" transform="rotate(77 520.1 297.7)"/></g>
</g>
<text x="398" y="208.2" font-size="12.4" fill="#000" stroke="#000" stroke-width="0.3">(c) 2021</text>
<g stroke="#222" stroke-width="0.8" fill="none"><path d="M397.8,363.8V367.0H499.4V363.8M410.5,367.0v-2.0M423.2,367.0v-2.8M435.9,367.0v-2.0M448.6,367.0v-2.8M461.3,367.0v-2.0M474.0,367.0v-2.8M486.7,367.0v-2.0"/></g><g font-size="5.1" fill="#111" text-anchor="middle"><text x="397.8" y="361.0">0</text><text x="423.2" y="361.0">50</text><text x="448.6" y="361.0">100</text><text x="507.9" y="361.0">200 Meters</text></g>
<rect x="395" y="379.4" width="32.8" height="12.5" fill="#8400A8"/>
<rect x="395" y="400.3" width="32.8" height="12.5" fill="#00C5FF"/>
<rect x="395.3" y="420" width="32.2" height="12.4" fill="#A87000" stroke="#7a5200" stroke-width="0.7"/>
<g font-size="8.3" fill="#000" stroke="#000" stroke-width="0.2"><text x="434.1" y="389.2">Permafrost</text><text x="434.1" y="409.2">Water</text><text x="434.1" y="428.9">Other (Wetland)</text></g>
</svg>
</body></html>
